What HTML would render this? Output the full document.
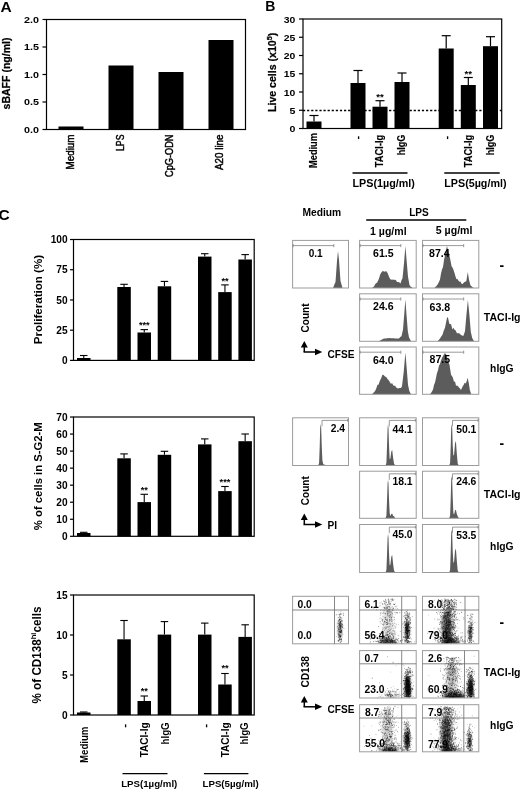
<!DOCTYPE html>
<html lang="en">
<head>
<meta charset="utf-8">
<title>Figure</title>
<style>
html,body{margin:0;padding:0;background:#fff;}
body{width:520px;height:791px;overflow:hidden;}
svg{display:block;}
svg text{font-family:"Liberation Sans", Arial, sans-serif;fill:#000;}
</style>
</head>
<body>
<svg width="520" height="791" viewBox="0 0 520 791">
<rect x="0" y="0" width="520" height="791" fill="#fff"/>
<g id="panelA">
<text font-size="15.5" font-weight="bold" transform="translate(0.4 11.5)">A</text>
<rect x="46.5" y="19.5" width="199.0" height="110.0" fill="none" stroke="#000" stroke-width="1.2"/>
<line x1="42.5" y1="129.5" x2="46.5" y2="129.5" stroke="#000" stroke-width="1.2"/>
<text font-size="9" text-anchor="end" font-weight="bold" transform="translate(38.9 132.6) scale(1.1989 1)">0.0</text>
<line x1="42.5" y1="102.0" x2="46.5" y2="102.0" stroke="#000" stroke-width="1.2"/>
<text font-size="9" text-anchor="end" font-weight="bold" transform="translate(38.9 105.1) scale(1.1989 1)">0.5</text>
<line x1="42.5" y1="74.5" x2="46.5" y2="74.5" stroke="#000" stroke-width="1.2"/>
<text font-size="9" text-anchor="end" font-weight="bold" transform="translate(38.9 77.6) scale(1.1989 1)">1.0</text>
<line x1="42.5" y1="47.0" x2="46.5" y2="47.0" stroke="#000" stroke-width="1.2"/>
<text font-size="9" text-anchor="end" font-weight="bold" transform="translate(38.9 50.1) scale(1.1989 1)">1.5</text>
<line x1="42.5" y1="19.5" x2="46.5" y2="19.5" stroke="#000" stroke-width="1.2"/>
<text font-size="9" text-anchor="end" font-weight="bold" transform="translate(38.9 22.6) scale(1.1989 1)">2.0</text>
<text font-size="10.5" text-anchor="middle" font-weight="bold" transform="translate(9.7 73.5) rotate(-90) scale(1.0036 1)" stroke="#000" stroke-width="0.25">sBAFF (ng/ml)</text>
<rect x="58.5" y="126.5" width="25" height="3.0" fill="#000"/>
<rect x="108.5" y="65.5" width="25" height="64.0" fill="#000"/>
<rect x="158.5" y="72" width="25" height="57.5" fill="#000"/>
<rect x="208.5" y="40" width="25" height="89.5" fill="#000"/>
<text font-size="10" text-anchor="end" transform="translate(74.3 134.5) rotate(-90) scale(0.9840 1)" stroke="#000" stroke-width="0.45">Medium</text>
<text font-size="10" text-anchor="end" transform="translate(123.8 134.5) rotate(-90) scale(0.8729 1)" stroke="#000" stroke-width="0.45">LPS</text>
<text font-size="10" text-anchor="end" transform="translate(173.3 134.5) rotate(-90) scale(0.9216 1)" stroke="#000" stroke-width="0.45">CpG-ODN</text>
<text font-size="10" text-anchor="end" transform="translate(223.3 134.5) rotate(-90) scale(0.9823 1)" stroke="#000" stroke-width="0.45">A20 line</text>
</g>
<g id="panelB">
<text font-size="14" font-weight="bold" transform="translate(265.2 10.8)">B</text>
<rect x="303" y="19" width="198.7" height="109.5" fill="none" stroke="#000" stroke-width="1.2"/>
<line x1="299" y1="128.5" x2="303" y2="128.5" stroke="#000" stroke-width="1.2"/>
<text font-size="9" text-anchor="end" font-weight="bold" transform="translate(295.3 132.0) scale(1.1787 1)">0</text>
<line x1="299" y1="110.25" x2="303" y2="110.25" stroke="#000" stroke-width="1.2"/>
<text font-size="9" text-anchor="end" font-weight="bold" transform="translate(295.3 113.75) scale(1.1787 1)">5</text>
<line x1="299" y1="92.0" x2="303" y2="92.0" stroke="#000" stroke-width="1.2"/>
<text font-size="9" text-anchor="end" font-weight="bold" transform="translate(295.3 95.5) scale(1.1587 1)">10</text>
<line x1="299" y1="73.75" x2="303" y2="73.75" stroke="#000" stroke-width="1.2"/>
<text font-size="9" text-anchor="end" font-weight="bold" transform="translate(295.3 77.25) scale(1.1587 1)">15</text>
<line x1="299" y1="55.5" x2="303" y2="55.5" stroke="#000" stroke-width="1.2"/>
<text font-size="9" text-anchor="end" font-weight="bold" transform="translate(295.3 59.0) scale(1.1587 1)">20</text>
<line x1="299" y1="37.25" x2="303" y2="37.25" stroke="#000" stroke-width="1.2"/>
<text font-size="9" text-anchor="end" font-weight="bold" transform="translate(295.3 40.75) scale(1.1587 1)">25</text>
<line x1="299" y1="19.0" x2="303" y2="19.0" stroke="#000" stroke-width="1.2"/>
<text font-size="9" text-anchor="end" font-weight="bold" transform="translate(295.3 22.5) scale(1.1587 1)">30</text>
<text font-size="11" font-weight="bold" stroke="#000" stroke-width="0.25" transform="translate(276.4 112) rotate(-90) scale(0.9631 1)">Live cells (x10<tspan font-size="7.5" dy="-4.4">5</tspan><tspan dy="4.4">)</tspan></text>
<line x1="303" y1="110.5" x2="501.7" y2="110.5" stroke="#000" stroke-width="1.3" stroke-dasharray="2.2 1.9"/>
<rect x="306.5" y="121.5" width="15" height="7.0" fill="#000"/>
<line x1="314.0" y1="121.5" x2="314.0" y2="115.5" stroke="#000" stroke-width="1.2"/>
<line x1="309.5" y1="115.5" x2="318.5" y2="115.5" stroke="#000" stroke-width="1.2"/>
<rect x="350.5" y="83" width="15" height="45.5" fill="#000"/>
<line x1="358.0" y1="83" x2="358.0" y2="70.5" stroke="#000" stroke-width="1.2"/>
<line x1="353.5" y1="70.5" x2="362.5" y2="70.5" stroke="#000" stroke-width="1.2"/>
<rect x="372.5" y="106.7" width="15" height="21.8" fill="#000"/>
<line x1="380.0" y1="106.7" x2="380.0" y2="100.7" stroke="#000" stroke-width="1.2"/>
<line x1="375.5" y1="100.7" x2="384.5" y2="100.7" stroke="#000" stroke-width="1.2"/>
<rect x="394.5" y="82" width="15" height="46.5" fill="#000"/>
<line x1="402.0" y1="82" x2="402.0" y2="73" stroke="#000" stroke-width="1.2"/>
<line x1="397.5" y1="73" x2="406.5" y2="73" stroke="#000" stroke-width="1.2"/>
<rect x="438.7" y="48.5" width="15" height="80.0" fill="#000"/>
<line x1="446.2" y1="48.5" x2="446.2" y2="35.7" stroke="#000" stroke-width="1.2"/>
<line x1="441.7" y1="35.7" x2="450.7" y2="35.7" stroke="#000" stroke-width="1.2"/>
<rect x="460.8" y="85" width="15" height="43.5" fill="#000"/>
<line x1="468.3" y1="85" x2="468.3" y2="77.5" stroke="#000" stroke-width="1.2"/>
<line x1="463.8" y1="77.5" x2="472.8" y2="77.5" stroke="#000" stroke-width="1.2"/>
<rect x="483" y="46.2" width="15" height="82.3" fill="#000"/>
<line x1="490.5" y1="46.2" x2="490.5" y2="36.7" stroke="#000" stroke-width="1.2"/>
<line x1="486.0" y1="36.7" x2="495.0" y2="36.7" stroke="#000" stroke-width="1.2"/>
<text font-size="9" text-anchor="middle" font-weight="bold" transform="translate(380 99.5) scale(1.0707 1)">**</text>
<text font-size="9" text-anchor="middle" font-weight="bold" transform="translate(468.3 76.5) scale(1.0707 1)">**</text>
<text font-size="10" text-anchor="end" font-weight="bold" transform="translate(316.8 133) rotate(-90) scale(0.9264 1)" stroke="#000" stroke-width="0.15">Medium</text>
<text font-size="10" text-anchor="end" font-weight="bold" transform="translate(383 134.7) rotate(-90) scale(0.9338 1)" stroke="#000" stroke-width="0.15">TACI-Ig</text>
<text font-size="10" text-anchor="end" font-weight="bold" transform="translate(404.5 134.7) rotate(-90) scale(0.9002 1)" stroke="#000" stroke-width="0.15">hIgG</text>
<text font-size="10" text-anchor="end" font-weight="bold" transform="translate(472 134.7) rotate(-90) scale(0.9338 1)" stroke="#000" stroke-width="0.15">TACI-Ig</text>
<text font-size="10" text-anchor="end" font-weight="bold" transform="translate(493.5 134.7) rotate(-90) scale(0.9002 1)" stroke="#000" stroke-width="0.15">hIgG</text>
<text font-size="11" text-anchor="end" font-weight="bold" transform="translate(361.3 135.9) rotate(-90)">-</text>
<text font-size="11" text-anchor="end" font-weight="bold" transform="translate(449.5 135.9) rotate(-90)">-</text>
<line x1="352.5" y1="173" x2="407.5" y2="173" stroke="#000" stroke-width="1.3"/>
<line x1="444.3" y1="173" x2="499.7" y2="173" stroke="#000" stroke-width="1.3"/>
<text font-size="10" font-weight="bold" transform="translate(352.5 187) scale(1.0778 1)">LPS(1µg/ml)</text>
<text font-size="10" font-weight="bold" transform="translate(444.3 187) scale(1.0743 1)">LPS(5µg/ml)</text>
</g>
<g id="panelC">
<text font-size="15.5" font-weight="bold" transform="translate(-1.6 219.6)">C</text>
<rect x="73.5" y="239.5" width="180.7" height="120.89999999999998" fill="none" stroke="#000" stroke-width="1.2"/>
<line x1="70" y1="360.4" x2="73.5" y2="360.4" stroke="#000" stroke-width="1.2"/>
<text font-size="10" text-anchor="end" font-weight="bold" transform="translate(67.6 364.0) scale(1.0159 1)">0</text>
<line x1="70" y1="330.17999999999995" x2="73.5" y2="330.17999999999995" stroke="#000" stroke-width="1.2"/>
<text font-size="10" text-anchor="end" font-weight="bold" transform="translate(67.6 333.78) scale(1.0159 1)">25</text>
<line x1="70" y1="299.96" x2="73.5" y2="299.96" stroke="#000" stroke-width="1.2"/>
<text font-size="10" text-anchor="end" font-weight="bold" transform="translate(67.6 303.56) scale(1.0159 1)">50</text>
<line x1="70" y1="269.74" x2="73.5" y2="269.74" stroke="#000" stroke-width="1.2"/>
<text font-size="10" text-anchor="end" font-weight="bold" transform="translate(67.6 273.34000000000003) scale(1.0159 1)">75</text>
<line x1="70" y1="239.51999999999998" x2="73.5" y2="239.51999999999998" stroke="#000" stroke-width="1.2"/>
<text font-size="10" text-anchor="end" font-weight="bold" transform="translate(67.6 243.11999999999998) scale(1.0159 1)">100</text>
<text font-size="11.8" text-anchor="middle" font-weight="bold" transform="translate(42.0 299.6) rotate(-90) scale(0.9821 1)">Proliferation (%)</text>
<rect x="77" y="358" width="13.5" height="2.4" fill="#000"/>
<line x1="83.75" y1="358" x2="83.75" y2="355.5" stroke="#000" stroke-width="1.1"/>
<line x1="80.0" y1="355.5" x2="87.5" y2="355.5" stroke="#000" stroke-width="1.1"/>
<rect x="117.3" y="287" width="13.5" height="73.4" fill="#000"/>
<line x1="124.05" y1="287" x2="124.05" y2="284.3" stroke="#000" stroke-width="1.1"/>
<line x1="120.3" y1="284.3" x2="127.8" y2="284.3" stroke="#000" stroke-width="1.1"/>
<rect x="137.5" y="332.5" width="13.5" height="27.9" fill="#000"/>
<line x1="144.25" y1="332.5" x2="144.25" y2="329.6" stroke="#000" stroke-width="1.1"/>
<line x1="140.5" y1="329.6" x2="148.0" y2="329.6" stroke="#000" stroke-width="1.1"/>
<rect x="157.7" y="286.3" width="13.5" height="74.1" fill="#000"/>
<line x1="164.45" y1="286.3" x2="164.45" y2="281.4" stroke="#000" stroke-width="1.1"/>
<line x1="160.7" y1="281.4" x2="168.2" y2="281.4" stroke="#000" stroke-width="1.1"/>
<rect x="198" y="256.6" width="13.5" height="103.8" fill="#000"/>
<line x1="204.75" y1="256.6" x2="204.75" y2="253.7" stroke="#000" stroke-width="1.1"/>
<line x1="201.0" y1="253.7" x2="208.5" y2="253.7" stroke="#000" stroke-width="1.1"/>
<rect x="218.2" y="292.1" width="13.5" height="68.3" fill="#000"/>
<line x1="224.95" y1="292.1" x2="224.95" y2="284.9" stroke="#000" stroke-width="1.1"/>
<line x1="221.2" y1="284.9" x2="228.7" y2="284.9" stroke="#000" stroke-width="1.1"/>
<rect x="238.4" y="259.5" width="13.5" height="100.9" fill="#000"/>
<line x1="245.15" y1="259.5" x2="245.15" y2="254.6" stroke="#000" stroke-width="1.1"/>
<line x1="241.4" y1="254.6" x2="248.9" y2="254.6" stroke="#000" stroke-width="1.1"/>
<text font-size="9" text-anchor="middle" font-weight="bold" transform="translate(144.3 328) scale(1.0279 1)">***</text>
<text font-size="9" text-anchor="middle" font-weight="bold" transform="translate(225 283.5) scale(1.0279 1)">**</text>
<rect x="73.5" y="417" width="180.7" height="119.29999999999995" fill="none" stroke="#000" stroke-width="1.2"/>
<line x1="70" y1="536.3" x2="73.5" y2="536.3" stroke="#000" stroke-width="1.2"/>
<text font-size="10" text-anchor="end" font-weight="bold" transform="translate(67.6 539.9) scale(1.0159 1)">0</text>
<line x1="70" y1="519.26" x2="73.5" y2="519.26" stroke="#000" stroke-width="1.2"/>
<text font-size="10" text-anchor="end" font-weight="bold" transform="translate(67.6 522.86) scale(1.0159 1)">10</text>
<line x1="70" y1="502.21999999999997" x2="73.5" y2="502.21999999999997" stroke="#000" stroke-width="1.2"/>
<text font-size="10" text-anchor="end" font-weight="bold" transform="translate(67.6 505.82) scale(1.0159 1)">20</text>
<line x1="70" y1="485.17999999999995" x2="73.5" y2="485.17999999999995" stroke="#000" stroke-width="1.2"/>
<text font-size="10" text-anchor="end" font-weight="bold" transform="translate(67.6 488.78) scale(1.0159 1)">30</text>
<line x1="70" y1="468.14" x2="73.5" y2="468.14" stroke="#000" stroke-width="1.2"/>
<text font-size="10" text-anchor="end" font-weight="bold" transform="translate(67.6 471.74) scale(1.0159 1)">40</text>
<line x1="70" y1="451.09999999999997" x2="73.5" y2="451.09999999999997" stroke="#000" stroke-width="1.2"/>
<text font-size="10" text-anchor="end" font-weight="bold" transform="translate(67.6 454.7) scale(1.0159 1)">50</text>
<line x1="70" y1="434.05999999999995" x2="73.5" y2="434.05999999999995" stroke="#000" stroke-width="1.2"/>
<text font-size="10" text-anchor="end" font-weight="bold" transform="translate(67.6 437.65999999999997) scale(1.0159 1)">60</text>
<line x1="70" y1="417.02" x2="73.5" y2="417.02" stroke="#000" stroke-width="1.2"/>
<text font-size="10" text-anchor="end" font-weight="bold" transform="translate(67.6 420.62) scale(1.0159 1)">70</text>
<text font-size="11.8" text-anchor="middle" font-weight="bold" transform="translate(42.0 476.2) rotate(-90) scale(0.9577 1)">% of cells in S-G2-M</text>
<rect x="77" y="533" width="13.5" height="3.3" fill="#000"/>
<line x1="83.75" y1="533" x2="83.75" y2="532.3" stroke="#000" stroke-width="1.1"/>
<line x1="80.0" y1="532.3" x2="87.5" y2="532.3" stroke="#000" stroke-width="1.1"/>
<rect x="117.3" y="458.3" width="13.5" height="78.0" fill="#000"/>
<line x1="124.05" y1="458.3" x2="124.05" y2="453.9" stroke="#000" stroke-width="1.1"/>
<line x1="120.3" y1="453.9" x2="127.8" y2="453.9" stroke="#000" stroke-width="1.1"/>
<rect x="137.5" y="502.1" width="13.5" height="34.2" fill="#000"/>
<line x1="144.25" y1="502.1" x2="144.25" y2="494.3" stroke="#000" stroke-width="1.1"/>
<line x1="140.5" y1="494.3" x2="148.0" y2="494.3" stroke="#000" stroke-width="1.1"/>
<rect x="157.7" y="454.8" width="13.5" height="81.5" fill="#000"/>
<line x1="164.45" y1="454.8" x2="164.45" y2="451.3" stroke="#000" stroke-width="1.1"/>
<line x1="160.7" y1="451.3" x2="168.2" y2="451.3" stroke="#000" stroke-width="1.1"/>
<rect x="198" y="444.4" width="13.5" height="91.9" fill="#000"/>
<line x1="204.75" y1="444.4" x2="204.75" y2="438.9" stroke="#000" stroke-width="1.1"/>
<line x1="201.0" y1="438.9" x2="208.5" y2="438.9" stroke="#000" stroke-width="1.1"/>
<rect x="218.2" y="491.1" width="13.5" height="45.2" fill="#000"/>
<line x1="224.95" y1="491.1" x2="224.95" y2="486.5" stroke="#000" stroke-width="1.1"/>
<line x1="221.2" y1="486.5" x2="228.7" y2="486.5" stroke="#000" stroke-width="1.1"/>
<rect x="238.4" y="441.2" width="13.5" height="95.1" fill="#000"/>
<line x1="245.15" y1="441.2" x2="245.15" y2="434" stroke="#000" stroke-width="1.1"/>
<line x1="241.4" y1="434" x2="248.9" y2="434" stroke="#000" stroke-width="1.1"/>
<text font-size="9" text-anchor="middle" font-weight="bold" transform="translate(144.3 493) scale(1.0279 1)">**</text>
<text font-size="9" text-anchor="middle" font-weight="bold" transform="translate(225 485) scale(1.0279 1)">***</text>
<text font-size="12" font-weight="bold" transform="translate(41.4 703.5) rotate(-90) scale(0.9745 1)">% of CD138<tspan font-size="7.8" dy="-5.6">hi</tspan><tspan dy="5.6">cells</tspan></text>
<rect x="73.5" y="595" width="180.7" height="120" fill="none" stroke="#000" stroke-width="1.2"/>
<line x1="70" y1="715" x2="73.5" y2="715" stroke="#000" stroke-width="1.2"/>
<text font-size="10" text-anchor="end" font-weight="bold" transform="translate(67.6 718.6) scale(1.0159 1)">0</text>
<line x1="70" y1="675" x2="73.5" y2="675" stroke="#000" stroke-width="1.2"/>
<text font-size="10" text-anchor="end" font-weight="bold" transform="translate(67.6 678.6) scale(1.0159 1)">5</text>
<line x1="70" y1="635" x2="73.5" y2="635" stroke="#000" stroke-width="1.2"/>
<text font-size="10" text-anchor="end" font-weight="bold" transform="translate(67.6 638.6) scale(1.0159 1)">10</text>
<line x1="70" y1="595" x2="73.5" y2="595" stroke="#000" stroke-width="1.2"/>
<text font-size="10" text-anchor="end" font-weight="bold" transform="translate(67.6 598.6) scale(1.0159 1)">15</text>
<rect x="77" y="712.5" width="13.5" height="2.5" fill="#000"/>
<line x1="83.75" y1="712.5" x2="83.75" y2="712" stroke="#000" stroke-width="1.1"/>
<line x1="80.0" y1="712" x2="87.5" y2="712" stroke="#000" stroke-width="1.1"/>
<rect x="117.3" y="639.3" width="13.5" height="75.7" fill="#000"/>
<line x1="124.05" y1="639.3" x2="124.05" y2="620.5" stroke="#000" stroke-width="1.1"/>
<line x1="120.3" y1="620.5" x2="127.8" y2="620.5" stroke="#000" stroke-width="1.1"/>
<rect x="137.5" y="701" width="13.5" height="14" fill="#000"/>
<line x1="144.25" y1="701" x2="144.25" y2="696" stroke="#000" stroke-width="1.1"/>
<line x1="140.5" y1="696" x2="148.0" y2="696" stroke="#000" stroke-width="1.1"/>
<rect x="157.7" y="634.6" width="13.5" height="80.4" fill="#000"/>
<line x1="164.45" y1="634.6" x2="164.45" y2="621.6" stroke="#000" stroke-width="1.1"/>
<line x1="160.7" y1="621.6" x2="168.2" y2="621.6" stroke="#000" stroke-width="1.1"/>
<rect x="198" y="634.6" width="13.5" height="80.4" fill="#000"/>
<line x1="204.75" y1="634.6" x2="204.75" y2="623.1" stroke="#000" stroke-width="1.1"/>
<line x1="201.0" y1="623.1" x2="208.5" y2="623.1" stroke="#000" stroke-width="1.1"/>
<rect x="218.2" y="684.5" width="13.5" height="30.5" fill="#000"/>
<line x1="224.95" y1="684.5" x2="224.95" y2="673.5" stroke="#000" stroke-width="1.1"/>
<line x1="221.2" y1="673.5" x2="228.7" y2="673.5" stroke="#000" stroke-width="1.1"/>
<rect x="238.4" y="636.9" width="13.5" height="78.1" fill="#000"/>
<line x1="245.15" y1="636.9" x2="245.15" y2="624.8" stroke="#000" stroke-width="1.1"/>
<line x1="241.4" y1="624.8" x2="248.9" y2="624.8" stroke="#000" stroke-width="1.1"/>
<text font-size="9" text-anchor="middle" font-weight="bold" transform="translate(144.3 693.5) scale(1.0279 1)">**</text>
<text font-size="9" text-anchor="middle" font-weight="bold" transform="translate(225 671) scale(1.0279 1)">**</text>
<text font-size="10.8" text-anchor="end" font-weight="bold" transform="translate(87.6 726.6) rotate(-90) scale(0.8897 1)">Medium</text>
<text font-size="10.8" text-anchor="end" font-weight="bold" transform="translate(148.3 722.4) rotate(-90) scale(0.9311 1)">TACI-Ig</text>
<text font-size="10.8" text-anchor="end" font-weight="bold" transform="translate(168.5 722.4) rotate(-90) scale(0.8945 1)">hIgG</text>
<text font-size="10.8" text-anchor="end" font-weight="bold" transform="translate(229 722.4) rotate(-90) scale(0.9311 1)">TACI-Ig</text>
<text font-size="10.8" text-anchor="end" font-weight="bold" transform="translate(248.4 722.4) rotate(-90) scale(0.8945 1)">hIgG</text>
<text font-size="11.5" text-anchor="end" font-weight="bold" transform="translate(128.3 723.9) rotate(-90)">-</text>
<text font-size="11.5" text-anchor="end" font-weight="bold" transform="translate(208.8 723.9) rotate(-90)">-</text>
<line x1="122.5" y1="773.7" x2="167.5" y2="773.7" stroke="#000" stroke-width="1.2"/>
<line x1="203.9" y1="773.7" x2="248.4" y2="773.7" stroke="#000" stroke-width="1.2"/>
<text font-size="9.9" font-weight="bold" transform="translate(121.2 787.3) scale(0.9789 1)">LPS(1µg/ml)</text>
<text font-size="9.9" font-weight="bold" transform="translate(202.5 787.3) scale(0.9807 1)">LPS(5µg/ml)</text>
</g>
<g id="flow">
<text font-size="10.2" font-weight="bold" transform="translate(302.5 215.7) scale(1.0069 1)">Medium</text>
<text font-size="10.2" font-weight="bold" transform="translate(409.2 215.7) scale(0.9880 1)">LPS</text>
<line x1="366.2" y1="220" x2="466.3" y2="220" stroke="#000" stroke-width="1.3"/>
<text font-size="10.2" font-weight="bold" transform="translate(370 235) scale(1.0353 1)">1 µg/ml</text>
<text font-size="10.2" font-weight="bold" transform="translate(435.7 234) scale(1.0410 1)">5 µg/ml</text>
<polygon points="333.0,288.0 334.2,284.9 335.5,282.1 337.0,261.1 338.0,251.1 339.0,260.0 340.5,281.0 341.5,284.5 342.5,288" fill="#5c5c5c"/>
<rect x="292.6" y="240.4" width="55.9" height="47.6" fill="none" stroke="#9c9c9c" stroke-width="1"/>
<line x1="293.1" y1="245.6" x2="333.8" y2="245.6" stroke="#808080" stroke-width="0.8"/>
<line x1="293.1" y1="244.0" x2="293.1" y2="247.2" stroke="#808080" stroke-width="0.8"/>
<line x1="333.8" y1="244.0" x2="333.8" y2="247.2" stroke="#808080" stroke-width="0.8"/>
<text font-size="10.4" font-weight="bold" transform="translate(308.7 257.2) scale(0.9683 1)">0.1</text>
<polygon points="372.0,288.0 373.0,287.2 374.0,286.4 375.0,284.5 376.0,283.3 377.0,282.8 378.0,280.8 379.0,278.5 380.2,274.4 381.5,272.3 383.0,270.8 384.0,271.8 385.0,271.4 386.5,271.3 387.8,273.4 389.0,276.7 390.0,278.8 391.0,279.8 392.0,279.6 393.0,279.8 394.0,279.8 395.0,279.7 396.0,280.3 397.0,281.9 398.0,282.1 399.2,282.2 400.5,283.4 401.5,280.3 402.5,278.2 404.0,263.2 405.4,246.0 406.7,261.4 408.0,276.8 409.5,285.0 410.5,286.4 411.5,287.1 412.5,288" fill="#5c5c5c"/>
<rect x="359.6" y="240.4" width="56.6" height="47.6" fill="none" stroke="#9c9c9c" stroke-width="1"/>
<line x1="360.1" y1="245.6" x2="400.8" y2="245.6" stroke="#808080" stroke-width="0.8"/>
<line x1="360.1" y1="244.0" x2="360.1" y2="247.2" stroke="#808080" stroke-width="0.8"/>
<line x1="400.8" y1="244.0" x2="400.8" y2="247.2" stroke="#808080" stroke-width="0.8"/>
<text font-size="10.4" font-weight="bold" transform="translate(373 257.2) scale(1.0177 1)">61.5</text>
<polygon points="434.3,288.0 435.4,286.9 436.4,286.0 437.5,284.8 438.8,282.2 440.0,279.4 441.0,273.6 442.0,269.4 443.0,267.1 444.0,260.2 445.6,252.1 447.0,246.1 448.4,251.9 450.0,258.1 451.5,265.9 453.0,268.4 454.5,272.9 455.5,276.4 456.5,279.2 457.5,279.1 458.5,280.8 459.5,281.7 460.5,281.5 461.5,283.7 462.5,284.1 463.5,283.1 464.5,282.1 466.3,281.2 467.8,272.1 469.0,279.7 470.5,285.5 471.6,286.2 472.6,287.2 473.7,288" fill="#5c5c5c"/>
<rect x="422.5" y="240.4" width="56.3" height="47.6" fill="none" stroke="#9c9c9c" stroke-width="1"/>
<line x1="423.0" y1="245.6" x2="463.7" y2="245.6" stroke="#808080" stroke-width="0.8"/>
<line x1="423.0" y1="244.0" x2="423.0" y2="247.2" stroke="#808080" stroke-width="0.8"/>
<line x1="463.7" y1="244.0" x2="463.7" y2="247.2" stroke="#808080" stroke-width="0.8"/>
<text font-size="10.4" font-weight="bold" transform="translate(429 257.2) scale(1.0177 1)">87.4</text>
<polygon points="378.5,341.3 379.8,340.7 381.0,340.0 382.0,339.6 383.0,339.1 384.0,338.6 385.2,338.4 386.3,338.4 387.5,338.1 388.7,338.2 389.8,338.1 391.0,338.3 392.0,338.3 393.0,338.3 394.0,338.3 395.0,338.4 396.0,338.6 397.0,338.5 398.0,338.5 399.0,338.4 400.2,337.1 401.5,336.2 403.0,329.4 404.3,313.5 405.4,299.2 406.5,314.7 407.8,330.9 409.0,337.4 410.0,339.3 411,341.3" fill="#5c5c5c"/>
<rect x="359.6" y="293.8" width="56.6" height="47.5" fill="none" stroke="#9c9c9c" stroke-width="1"/>
<line x1="360.1" y1="299.0" x2="400.8" y2="299.0" stroke="#808080" stroke-width="0.8"/>
<line x1="360.1" y1="297.4" x2="360.1" y2="300.6" stroke="#808080" stroke-width="0.8"/>
<line x1="400.8" y1="297.4" x2="400.8" y2="300.6" stroke="#808080" stroke-width="0.8"/>
<text font-size="10.4" font-weight="bold" transform="translate(373 310.2) scale(1.0177 1)">24.6</text>
<polygon points="437.5,341.3 438.8,339.9 440.0,338.6 441.2,336.4 442.5,334.7 443.8,330.6 445.0,327.7 446.8,318.8 447.8,316.7 449.3,323.7 451.0,324.3 452.5,329.6 453.5,327.8 454.5,329.7 455.5,330.2 456.5,332.4 457.8,333.5 459.0,332.9 460.2,334.3 461.5,335.3 463.3,335.9 465.0,331.2 466.3,316.2 467.9,300.0 469.4,315.1 470.8,331.7 472.2,337.9 474,341.3" fill="#5c5c5c"/>
<rect x="422.5" y="293.8" width="56.3" height="47.5" fill="none" stroke="#9c9c9c" stroke-width="1"/>
<line x1="423.0" y1="299.0" x2="463.7" y2="299.0" stroke="#808080" stroke-width="0.8"/>
<line x1="423.0" y1="297.4" x2="423.0" y2="300.6" stroke="#808080" stroke-width="0.8"/>
<line x1="463.7" y1="297.4" x2="463.7" y2="300.6" stroke="#808080" stroke-width="0.8"/>
<text font-size="10.4" font-weight="bold" transform="translate(429.5 310.6) scale(1.0177 1)">63.8</text>
<polygon points="372.0,394.3 373.2,393.1 374.3,392.0 375.5,390.3 376.5,387.7 377.5,384.7 378.5,384.8 379.9,380.7 381.3,378.1 382.3,375.1 383.3,374.7 385.0,376.6 386.5,377.3 387.5,379.0 388.5,380.0 389.8,381.9 391.0,383.9 392.0,383.0 393.0,384.8 394.0,386.3 395.0,385.2 396.0,387.6 397.0,387.8 398.0,388.7 399.0,387.9 400.0,387.9 401.0,387.9 402.0,386.3 403.7,372.1 405.4,352.5 406.7,368.3 408.0,384.7 409.3,391.0 411,394.3" fill="#5c5c5c"/>
<rect x="359.6" y="347" width="56.6" height="47.3" fill="none" stroke="#9c9c9c" stroke-width="1"/>
<line x1="360.1" y1="352.2" x2="400.8" y2="352.2" stroke="#808080" stroke-width="0.8"/>
<line x1="360.1" y1="350.59999999999997" x2="360.1" y2="353.8" stroke="#808080" stroke-width="0.8"/>
<line x1="400.8" y1="350.59999999999997" x2="400.8" y2="353.8" stroke="#808080" stroke-width="0.8"/>
<text font-size="10.4" font-weight="bold" transform="translate(373 363.8) scale(1.0177 1)">64.0</text>
<polygon points="430.0,394.3 431.0,393.0 432.0,391.5 433.0,389.4 434.0,384.9 435.0,382.4 436.0,377.9 437.0,372.9 438.0,370.3 439.0,365.8 440.0,364.1 441.0,360.4 442.0,358.0 443.6,355.1 445.0,353.0 446.5,355.1 448.0,361.4 449.5,364.7 451.0,374.7 452.0,376.0 453.0,378.0 454.0,382.1 455.0,381.3 456.0,385.7 457.0,385.6 458.0,386.3 459.0,387.4 460.0,388.4 461.0,389.9 462.6,386.4 463.6,385.1 464.6,382.7 465.6,383.4 466.6,381.6 467.6,377.7 468.8,382.9 469.8,389.8 471.2,394.3" fill="#5c5c5c"/>
<rect x="422.5" y="347" width="56.3" height="47.3" fill="none" stroke="#9c9c9c" stroke-width="1"/>
<line x1="423.0" y1="352.2" x2="463.7" y2="352.2" stroke="#808080" stroke-width="0.8"/>
<line x1="423.0" y1="350.59999999999997" x2="423.0" y2="353.8" stroke="#808080" stroke-width="0.8"/>
<line x1="463.7" y1="350.59999999999997" x2="463.7" y2="353.8" stroke="#808080" stroke-width="0.8"/>
<text font-size="10.4" font-weight="bold" transform="translate(429.5 362.6) scale(1.0177 1)">87.5</text>
<text font-size="15" font-weight="bold" transform="translate(499.5 270) scale(0.9208 1)">-</text>
<text font-size="10.2" font-weight="bold" transform="translate(483.8 320.6) scale(1.0366 1)">TACI-Ig</text>
<text font-size="10.2" font-weight="bold" transform="translate(490.1 372) scale(1.0117 1)">hIgG</text>
<text font-size="10.8" text-anchor="middle" font-weight="bold" transform="translate(308.9 318) rotate(-90) scale(0.9298 1)">Count</text>
<polygon points="304.3,340.9 300.8,347.4 307.8,347.4" fill="#000"/>
<line x1="304.3" y1="346.2" x2="304.3" y2="352" stroke="#000" stroke-width="1.5"/>
<line x1="303.55" y1="352" x2="316" y2="352" stroke="#000" stroke-width="1.5"/>
<polygon points="322.3,352 315,348.7 315,355.3" fill="#000"/>
<text font-size="10.2" font-weight="bold" transform="translate(327.5 357.5) scale(0.9925 1)">CFSE</text>
<polygon points="318.2,465.5 319.1,463.0 319.7,446.8 320.2,428.1 320.7,424.0 321.2,428.1 321.7,444.8 322.4,460.5 323.3,464.3 325.7,464.9 326.7,465.5" fill="#5c5c5c"/>
<rect x="292.6" y="417.8" width="55.9" height="47.7" fill="none" stroke="#9c9c9c" stroke-width="1"/>
<line x1="322" y1="420.40000000000003" x2="348.0" y2="420.40000000000003" stroke="#808080" stroke-width="0.8"/>
<line x1="322" y1="420.40000000000003" x2="322" y2="426.40000000000003" stroke="#808080" stroke-width="0.8"/>
<line x1="347.7" y1="419.1" x2="347.7" y2="421.70000000000005" stroke="#808080" stroke-width="0.8"/>
<text font-size="10.4" font-weight="bold" transform="translate(330.7 432.3) scale(0.9891 1)">2.4</text>
<polygon points="385.5,465.5 386.4,463.0 387.0,446.9 387.6,428.3 388,424.2 388.5,428.3 389.0,444.9 389.7,459.3 390.4,458.5 391.3,451.6 392.2,450.0 393.1,457.8 394,463.5 395.2,465.5" fill="#5c5c5c"/>
<rect x="359.6" y="417.8" width="56.6" height="47.7" fill="none" stroke="#9c9c9c" stroke-width="1"/>
<line x1="389.3" y1="420.40000000000003" x2="415.7" y2="420.40000000000003" stroke="#808080" stroke-width="0.8"/>
<line x1="389.3" y1="420.40000000000003" x2="389.3" y2="426.40000000000003" stroke="#808080" stroke-width="0.8"/>
<line x1="415.4" y1="419.1" x2="415.4" y2="421.70000000000005" stroke="#808080" stroke-width="0.8"/>
<text font-size="10.4" font-weight="bold" transform="translate(392.4 432.6) scale(0.9979 1)">44.1</text>
<polygon points="449.2,465.5 450.1,463.0 450.7,446.9 451.2,428.3 451.7,424.2 452.2,428.3 452.7,444.9 453.4,455.7 454.1,454.5 455.0,443.4 455.9,441.0 456.8,453.2 457.7,463.5 458.9,465.5" fill="#5c5c5c"/>
<rect x="422.5" y="417.8" width="56.3" height="47.7" fill="none" stroke="#9c9c9c" stroke-width="1"/>
<line x1="452.5" y1="420.40000000000003" x2="478.3" y2="420.40000000000003" stroke="#808080" stroke-width="0.8"/>
<line x1="452.5" y1="420.40000000000003" x2="452.5" y2="426.40000000000003" stroke="#808080" stroke-width="0.8"/>
<line x1="478.0" y1="419.1" x2="478.0" y2="421.70000000000005" stroke="#808080" stroke-width="0.8"/>
<text font-size="10.4" font-weight="bold" transform="translate(456.2 432.6) scale(0.9979 1)">50.1</text>
<polygon points="385.5,518.3 386.4,515.8 387.0,501.0 387.6,483.6 388,479.8 388.5,483.6 389.0,499.0 389.7,513.3 390.4,516.1 391.3,514.0 392.2,513.5 393.1,515.9 394,516.3 395.2,518.3" fill="#5c5c5c"/>
<rect x="359.6" y="471.2" width="56.6" height="47.1" fill="none" stroke="#9c9c9c" stroke-width="1"/>
<line x1="389.3" y1="473.8" x2="415.7" y2="473.8" stroke="#808080" stroke-width="0.8"/>
<line x1="389.3" y1="473.8" x2="389.3" y2="479.8" stroke="#808080" stroke-width="0.8"/>
<line x1="415.4" y1="472.5" x2="415.4" y2="475.1" stroke="#808080" stroke-width="0.8"/>
<text font-size="10.4" font-weight="bold" transform="translate(392.4 485.2) scale(0.9979 1)">18.1</text>
<polygon points="449.2,518.3 450.1,515.8 450.7,499.3 451.2,480.2 451.7,476.0 452.2,480.2 452.7,497.1 453.4,513.3 454.1,514.5 455.0,510.6 455.9,509.8 456.8,514.0 457.7,516.3 458.9,518.3" fill="#5c5c5c"/>
<rect x="422.5" y="471.2" width="56.3" height="47.1" fill="none" stroke="#9c9c9c" stroke-width="1"/>
<line x1="452.5" y1="473.8" x2="478.3" y2="473.8" stroke="#808080" stroke-width="0.8"/>
<line x1="452.5" y1="473.8" x2="452.5" y2="479.8" stroke="#808080" stroke-width="0.8"/>
<line x1="478.0" y1="472.5" x2="478.0" y2="475.1" stroke="#808080" stroke-width="0.8"/>
<text font-size="10.4" font-weight="bold" transform="translate(456.2 485.2) scale(0.9979 1)">24.6</text>
<polygon points="385.5,572.5 386.4,570.0 387.0,555.1 387.6,537.7 388,533.8 388.5,537.7 389.0,553.1 389.7,565.5 390.4,564.6 391.3,556.8 392.2,555.0 393.1,563.8 394,570.5 395.2,572.5" fill="#5c5c5c"/>
<rect x="359.6" y="524.5" width="56.6" height="48.0" fill="none" stroke="#9c9c9c" stroke-width="1"/>
<line x1="389.3" y1="527.1" x2="415.7" y2="527.1" stroke="#808080" stroke-width="0.8"/>
<line x1="389.3" y1="527.1" x2="389.3" y2="533.1" stroke="#808080" stroke-width="0.8"/>
<line x1="415.4" y1="525.8000000000001" x2="415.4" y2="528.4" stroke="#808080" stroke-width="0.8"/>
<text font-size="10.4" font-weight="bold" transform="translate(392.4 538.2) scale(0.9979 1)">45.0</text>
<polygon points="449.2,572.5 450.1,570.0 450.7,553.1 451.2,533.8 451.7,529.5 452.2,533.8 452.7,551.0 453.4,562.9 454.1,561.7 455.0,550.9 455.9,548.5 456.8,560.5 457.7,570.5 458.9,572.5" fill="#5c5c5c"/>
<rect x="422.5" y="524.5" width="56.3" height="48.0" fill="none" stroke="#9c9c9c" stroke-width="1"/>
<line x1="452.5" y1="527.1" x2="478.3" y2="527.1" stroke="#808080" stroke-width="0.8"/>
<line x1="452.5" y1="527.1" x2="452.5" y2="533.1" stroke="#808080" stroke-width="0.8"/>
<line x1="478.0" y1="525.8000000000001" x2="478.0" y2="528.4" stroke="#808080" stroke-width="0.8"/>
<text font-size="10.4" font-weight="bold" transform="translate(456.2 538.8) scale(0.9979 1)">53.5</text>
<text font-size="15" font-weight="bold" transform="translate(499.5 447.5) scale(0.9208 1)">-</text>
<text font-size="10.2" font-weight="bold" transform="translate(483.8 497.5) scale(1.0366 1)">TACI-Ig</text>
<text font-size="10.2" font-weight="bold" transform="translate(490.1 549.5) scale(1.0117 1)">hIgG</text>
<text font-size="10.8" text-anchor="middle" font-weight="bold" transform="translate(308.9 490.7) rotate(-90) scale(0.9298 1)">Count</text>
<polygon points="304.3,513.4 300.8,519.9 307.8,519.9" fill="#000"/>
<line x1="304.3" y1="518.7" x2="304.3" y2="524.5" stroke="#000" stroke-width="1.5"/>
<line x1="303.55" y1="524.5" x2="316" y2="524.5" stroke="#000" stroke-width="1.5"/>
<polygon points="322.3,524.5 315,521.2 315,527.8" fill="#000"/>
<text font-size="10.2" font-weight="bold" transform="translate(327.5 528.8) scale(0.9961 1)">PI</text>
<defs><filter id="soft" x="-5%" y="-5%" width="110%" height="110%"><feGaussianBlur stdDeviation="0.3"/></filter><filter id="cloud" x="-50%" y="-50%" width="200%" height="200%"><feGaussianBlur stdDeviation="1.6"/></filter></defs>
<clipPath id="cp1"><rect x="292.6" y="596.3" width="55.9" height="47.5"/></clipPath>
<g clip-path="url(#cp1)"><g filter="url(#cloud)">
<ellipse cx="339.8" cy="629" rx="1.6" ry="11" fill="#000" fill-opacity="0.35"/>
</g></g>
<g filter="url(#soft)" stroke="#000" stroke-width="7.5" fill="none" transform="scale(0.1)">
<path d="M3409 6399h7M3394 6313h7M3406 6189h7M3408 6272h7M3379 6277h7M3408 6236h7M3398 6178h7M3380 6356h7M3429 6154h7M3399 6306h7M3406 6254h7M3412 6247h7M3381 6292h7M3392 6176h7M3381 6338h7M3401 6214h7M3415 6417h7M3384 6233h7M3413 6260h7M3381 6211h7M3396 6193h7M3429 6271h7M3387 6200h7M3387 6367h7M3399 6363h7M3403 6168h7M3413 6355h7M3421 6369h7M3393 6195h7M3413 6418h7M3395 6244h7M3379 6119h7M3357 6150h7M3386 6335h7M3399 6281h7M3416 6338h7M3399 6272h7M3394 6396h7M3377 6175h7M3398 6322h7M3404 6324h7M3396 6360h7M3403 6292h7M3407 6279h7M3395 6316h7M3403 6429h7M3383 6313h7M3390 6376h7M3395 6229h7M3381 6215h7M3399 6249h7M3381 6345h7M3394 6261h7M3394 6312h7M3396 6346h7M3399 6245h7M3418 6248h7M3403 6248h7M3404 6269h7M3418 6251h7M3405 6271h7M3400 6397h7M3416 6316h7M3390 6225h7M3394 6237h7M3380 6255h7M3393 6276h7M3388 6226h7M3363 6366h7M3381 6415h7M3379 6207h7" stroke-opacity="0.3"/>
<path d="M3403 6257h7M3405 6315h7M3413 6141h7M3418 6310h7M3401 6363h7M3373 6279h7M3410 6212h7M3420 6240h7M3382 6175h7M3407 6219h7M3414 6268h7M3399 6255h7M3398 6391h7M3400 6361h7M3405 6134h7M3386 6299h7M3411 6312h7M3402 6235h7M3391 6211h7M3402 6172h7M3385 6145h7M3420 6205h7M3393 6167h7M3400 6283h7M3404 6256h7M3402 6324h7M3371 6264h7M3418 6267h7M3414 6350h7M3406 6368h7M3394 6318h7M3394 6396h7M3396 6266h7M3393 6309h7M3404 6355h7M3390 6400h7M3385 6242h7M3403 6372h7M3404 6178h7M3390 6200h7M3422 6330h7M3395 6380h7M3405 6145h7M3397 6421h7M3403 6222h7M3408 6238h7M3426 6345h7M3415 6256h7M3376 6232h7M3376 6261h7M3436 6285h7M3393 6370h7M3387 6347h7M3396 6280h7M3393 6385h7M3411 6209h7M3415 6296h7M3405 6411h7M3406 6114h7M3400 6215h7M3414 6387h7M3407 6285h7M3381 6282h7M3401 6373h7M3421 6213h7M3405 6363h7M3392 6398h7M3393 6364h7M3381 6353h7M3407 6209h7M3402 6323h7M3404 6316h7M3387 6250h7M3392 6263h7M3403 6265h7M3377 6336h7M3378 6310h7M3405 6291h7M3396 6316h7M3427 6254h7M3397 6346h7M3394 6253h7M3391 6253h7M3409 6322h7M3396 6238h7M3400 6394h7M3400 6278h7M3388 6235h7M3413 6393h7M3392 6230h7M3400 6318h7M3382 6287h7M3414 6233h7M3383 6368h7M3399 6280h7M3394 6323h7M3400 6220h7M3393 6244h7M3414 6321h7M3405 6321h7M3387 6274h7M3423 6276h7M3385 6293h7M3389 6272h7M3410 6200h7M3406 6259h7M3407 6328h7M3379 6322h7M3384 6345h7M3406 6320h7M3411 6301h7M3406 6306h7M3386 6319h7M3372 6308h7M3395 6245h7" stroke-opacity="0.5"/>
<path d="M3381 6410h7M3412 6304h7M3398 6263h7M3422 6246h7M3396 6148h7M3399 6422h7M3388 6333h7M3400 6194h7M3433 6151h7M3429 6132h7M3385 6403h7M3410 6313h7M3381 6299h7M3405 6363h7M3412 6396h7M3365 6147h7M3396 6245h7M3408 6328h7M3393 6318h7M3414 6179h7M3395 6253h7M3403 6360h7M3407 6392h7M3377 6408h7M3394 6158h7M3393 6356h7M3398 6278h7M3412 6409h7M3391 6197h7M3385 6403h7M3377 6232h7M3404 6139h7M3393 6142h7M3385 6374h7M3412 6305h7M3397 6321h7M3395 6289h7M3389 6296h7M3406 6311h7M3413 6242h7M3396 6242h7M3398 6297h7M3389 6198h7M3399 6363h7M3393 6193h7M3417 6264h7M3399 6222h7M3394 6359h7M3399 6259h7M3389 6349h7M3404 6326h7M3422 6276h7M3403 6217h7M3404 6231h7M3386 6207h7M3401 6229h7M3409 6261h7M3395 6390h7M3399 6265h7M3404 6301h7M3405 6279h7" stroke-opacity="0.75"/>
</g>
<rect x="292.6" y="596.3" width="55.9" height="47.5" fill="none" stroke="#9c9c9c" stroke-width="1"/>
<line x1="292.6" y1="610" x2="348.5" y2="610" stroke="#686868" stroke-width="0.8"/>
<line x1="334.5" y1="596.3" x2="334.5" y2="643.8" stroke="#686868" stroke-width="0.8"/>
<text font-size="10.4" font-weight="bold" transform="translate(297.5 608) scale(0.9960 1)">0.0</text>
<text font-size="10.4" font-weight="bold" transform="translate(297.5 638.8) scale(0.9960 1)">0.0</text>
<clipPath id="cp2"><rect x="359.6" y="596.3" width="56.6" height="47.5"/></clipPath>
<g clip-path="url(#cp2)"><g filter="url(#cloud)">
<ellipse cx="388" cy="643" rx="9" ry="3.5" fill="#000" fill-opacity="0.55"/>
<ellipse cx="407" cy="630" rx="1.6" ry="8" fill="#000" fill-opacity="0.6"/>
<ellipse cx="388" cy="622" rx="5" ry="18" fill="#000" fill-opacity="0.12"/>
</g></g>
<g filter="url(#soft)" stroke="#000" stroke-width="7.5" fill="none" transform="scale(0.1)">
<path d="M3867 6200h7M3952 6142h7M3883 6401h7M3888 6110h7M3913 6198h7M3914 6195h7M3907 6281h7M3927 6303h7M3955 6284h7M3876 6242h7M3844 6108h7M3814 6096h7M3942 6258h7M3893 6234h7M3875 6138h7M3822 6383h7M3870 6242h7M3912 6012h7M3857 6373h7M3863 6275h7M3850 6196h7M3831 6226h7M3841 6135h7M3831 6371h7M3921 6267h7M3850 6340h7M3860 6422h7M3909 6321h7M3865 6200h7M3868 6122h7M3848 6169h7M3907 6159h7M3803 6177h7M3865 6112h7M3904 6331h7M3918 6161h7M3846 6221h7M3863 6008h7M3849 6284h7M3906 6297h7M3864 6302h7M3828 6392h7M3870 6170h7M3843 6103h7M3809 6333h7M3911 6395h7M3889 6094h7M3934 6368h7M3931 6380h7M3910 6012h7M3899 6149h7M3860 6170h7M3922 6066h7M3853 6187h7M3964 6128h7M3980 6244h7M3885 6065h7M3817 6358h7M3825 6101h7M3847 6129h7M3818 6069h7M3853 5994h7M3958 6329h7M3868 6224h7M3916 6158h7M3944 6270h7M3899 6157h7M3879 6116h7M3812 6019h7M3848 6082h7M3831 6370h7M3887 6153h7M3948 6127h7M3876 6045h7M3936 6414h7M3862 6284h7M3837 6368h7M3947 6233h7M3999 6411h7M3861 6397h7M3744 6358h7M3821 6371h7M3802 6405h7M3885 6400h7M3924 6426h7M3846 6404h7M3814 6409h7M3949 6392h7M3847 6408h7M3833 6366h7M3904 6395h7M3772 6409h7M3836 6432h7M3963 6393h7M4024 6407h7M3964 6381h7M3939 6406h7M3861 6381h7M3888 6384h7M3835 6403h7M3866 6379h7M3793 6405h7M3878 6429h7M3748 6379h7M3878 6417h7M3858 6430h7M4054 6400h7M3767 6363h7M3717 6382h7M3976 6352h7M3896 6413h7M3928 6368h7M3827 6360h7M4021 6403h7M3816 6415h7M3846 6424h7M3912 6406h7M3984 6409h7M3886 6372h7M3920 6427h7M4049 6382h7M3829 6407h7M3862 6407h7M3874 6430h7M3831 6386h7M3913 6422h7M3895 6389h7M3876 6405h7M3965 6394h7M3955 6371h7M3870 6425h7M3758 6354h7M3806 6409h7M3822 6396h7M3839 6411h7M3902 6418h7M3948 6390h7M3842 6371h7M3875 6358h7M3833 6431h7M3881 6369h7M3867 6401h7M3861 6420h7M3870 6396h7M3884 6423h7M3937 6370h7M3951 6430h7M3943 6368h7M3908 6421h7M3906 6414h7M3811 6391h7M3823 6406h7M3862 6357h7M3855 6355h7M3866 6431h7M3932 6403h7M3915 6404h7M3809 6428h7M3876 6404h7M3903 6432h7M3997 6410h7M3814 6427h7M3996 6426h7M3922 6346h7M3883 6398h7M3852 6415h7M4113 6276h7M4077 6242h7M4092 6164h7M4052 6283h7M4076 6157h7M4049 6419h7M4067 6205h7M4067 6318h7M4072 6296h7M4054 6250h7M4063 6395h7M4076 6261h7M4057 6360h7M4056 6163h7M4066 6324h7M4076 6374h7M4058 6409h7M4099 6203h7M4039 6165h7M4084 6375h7M4055 6257h7M4067 6268h7M4070 6378h7M4057 6171h7M4075 6168h7M4058 6374h7M4070 6307h7M4065 6270h7M4047 6424h7M4082 6311h7M4064 6246h7M4072 6190h7M4075 6283h7M4090 6153h7M4067 6424h7M4084 6142h7M4056 6155h7M4046 6127h7M4107 6390h7M4060 6389h7M4063 6141h7M4081 6417h7M4073 6308h7M4067 6158h7M4079 6217h7M4084 6164h7M4089 6312h7M4043 6403h7M4060 6251h7M4081 6386h7M4067 6283h7M4060 6229h7M4066 6391h7M4048 6255h7M4086 6227h7M4064 6337h7M4066 6315h7M4082 6267h7M4074 6395h7M4069 6284h7M4090 6259h7M4079 6429h7M4078 6314h7M4072 6306h7M4073 6309h7M4081 6321h7M4103 6302h7M4085 6342h7M4066 6310h7M4037 6376h7M4060 6305h7M4080 6161h7M4076 6318h7M4085 6180h7M4084 6308h7M4090 6181h7M4081 6265h7M4064 6261h7M4050 6291h7M4033 6327h7M4065 6317h7M4060 6233h7M4082 6242h7M4095 6363h7M4060 6272h7M4094 6269h7M4065 6324h7M4093 6207h7M4078 6167h7M4056 6309h7M4067 6379h7M4061 6298h7M4068 6116h7M4073 6311h7M4073 6256h7M4082 6370h7M4047 6371h7M4061 6294h7M4085 6414h7M4064 6299h7M4115 6392h7M4073 6253h7M4055 6308h7M4045 6286h7M4060 6278h7M4078 6358h7M4095 6305h7M4071 6292h7M4064 6336h7M4080 6215h7M4067 6310h7M4048 6372h7M4085 6275h7M4056 6312h7M4036 6261h7M4059 6303h7M4064 6269h7M4074 6333h7M4055 6331h7M4082 6287h7M4070 6219h7M4075 6346h7M4076 6220h7M4094 6293h7M4060 6257h7M3950 6033h7M4068 6260h7" stroke-opacity="0.3"/>
<path d="M3845 6179h7M3969 6125h7M3890 6038h7M3874 6150h7M3851 6072h7M3818 6205h7M3898 6424h7M3866 6379h7M3849 6178h7M3890 6175h7M3938 6350h7M3954 6273h7M3866 6244h7M3879 5991h7M3942 6232h7M3916 5998h7M3855 6360h7M3897 6150h7M3924 6201h7M3892 6366h7M3796 6391h7M3870 6230h7M3874 6315h7M3867 6199h7M3900 6032h7M3891 6091h7M3926 6333h7M3901 6081h7M3890 6263h7M3871 6106h7M3932 6081h7M3899 6262h7M3802 6103h7M3842 6213h7M3868 6245h7M3932 6308h7M3860 6027h7M3867 6403h7M3901 6239h7M3915 6389h7M3883 6295h7M3878 6097h7M3934 6408h7M3834 6330h7M3891 6067h7M3936 6311h7M3839 6036h7M3890 6041h7M3872 6394h7M3873 6325h7M3862 6096h7M3831 6282h7M3999 6315h7M3924 5990h7M3922 6093h7M3931 6004h7M3927 6381h7M3853 6389h7M3973 6131h7M3886 6273h7M3875 6227h7M3963 6126h7M3913 6177h7M3893 6306h7M3872 6213h7M3948 6342h7M3897 6042h7M3831 6425h7M3899 5993h7M3836 6243h7M3870 6117h7M3881 6234h7M3915 6342h7M3895 6336h7M3891 6215h7M3829 6254h7M3915 6287h7M3910 6340h7M3934 6106h7M3824 6245h7M3820 6214h7M3964 6243h7M3875 6130h7M3948 6066h7M3903 6047h7M3898 6165h7M3944 6309h7M3850 6195h7M3870 6152h7M3972 6087h7M3876 6396h7M3868 6086h7M3956 6081h7M3842 6221h7M3824 6279h7M3876 6110h7M3945 6336h7M3946 6124h7M3852 6219h7M3882 6004h7M3838 6299h7M3868 6081h7M3845 6375h7M3904 6036h7M3808 6424h7M3865 6415h7M3896 6303h7M3904 6201h7M3917 6146h7M3810 6394h7M3871 6203h7M3892 6158h7M3887 6006h7M3923 6107h7M3800 6151h7M3848 6175h7M3851 6348h7M3865 6425h7M3918 6259h7M3881 6268h7M3878 5999h7M3900 6299h7M3862 6348h7M3906 6095h7M3836 6398h7M3895 6014h7M3824 6299h7M3922 6309h7M3836 6072h7M3928 6365h7M3839 6305h7M3862 6347h7M3898 6120h7M3792 6422h7M3828 6109h7M3827 6167h7M3807 6128h7M3891 6172h7M3866 6116h7M3848 6044h7M3906 6243h7M3857 6268h7M3872 6079h7M3896 6239h7M3916 5992h7M3847 6238h7M3924 6235h7M3889 6290h7M3936 5995h7M3918 6331h7M3919 5994h7M3886 6154h7M3922 6351h7M3846 6393h7M3852 6085h7M3861 6084h7M3861 6059h7M3917 6169h7M3855 6382h7M3932 6248h7M3903 6181h7M3805 6385h7M3916 6072h7M3929 6084h7M3836 6362h7M3824 6136h7M3843 6013h7M3882 6039h7M3788 6364h7M3917 6218h7M3899 6114h7M3856 6139h7M3893 6022h7M3843 6416h7M3823 6301h7M3935 6283h7M3854 6008h7M3956 6261h7M3946 6318h7M3885 6108h7M3885 6117h7M3852 6289h7M3921 6254h7M3884 6163h7M3837 6422h7M3896 6416h7M3945 6413h7M3918 6336h7M4044 6417h7M3824 6413h7M3872 6418h7M3911 6418h7M3877 6388h7M3864 6430h7M3817 6405h7M3855 6406h7M3940 6407h7M3908 6396h7M3935 6336h7M3908 6388h7M3902 6431h7M3967 6430h7M3807 6379h7M3893 6428h7M3850 6422h7M3916 6408h7M3806 6412h7M3699 6427h7M3896 6390h7M3855 6426h7M3881 6399h7M3843 6415h7M3805 6397h7M3809 6417h7M3890 6400h7M3911 6370h7M3854 6390h7M3748 6411h7M3916 6376h7M3817 6387h7M3787 6404h7M3898 6365h7M3782 6421h7M3860 6332h7M3825 6402h7M4045 6379h7M3790 6376h7M3905 6409h7M3947 6412h7M3904 6415h7M3881 6426h7M3822 6410h7M3892 6384h7M3841 6372h7M3868 6412h7M3948 6415h7M4026 6395h7M3903 6429h7M3920 6407h7M4036 6370h7M3862 6416h7M3883 6422h7M3885 6421h7M3938 6409h7M3861 6390h7M3782 6418h7M3798 6424h7M3894 6334h7M3841 6379h7M3939 6323h7M3834 6358h7M3923 6356h7M3918 6412h7M4011 6407h7M3888 6388h7M3699 6415h7M3816 6365h7M3824 6412h7M3874 6407h7M3820 6338h7M3827 6410h7M3899 6420h7M3930 6381h7M3886 6371h7M3849 6400h7M3900 6370h7M3766 6416h7M3870 6312h7M3963 6393h7M3871 6344h7M3862 6378h7M3899 6406h7M3704 6391h7M3916 6393h7M3866 6384h7M3696 6387h7M3805 6408h7M3734 6378h7M3985 6357h7M3870 6409h7M3875 6407h7M3908 6396h7M3862 6385h7M3799 6395h7M3853 6401h7M3912 6344h7M3948 6346h7M3793 6423h7M3912 6397h7M3896 6421h7M3955 6389h7M3916 6420h7M3882 6422h7M3936 6418h7M3922 6383h7M3905 6385h7M3802 6423h7M3950 6424h7M3812 6401h7M3833 6415h7M3924 6427h7M3805 6404h7M3932 6422h7M3984 6419h7M3842 6399h7M3852 6409h7M3872 6342h7M3927 6344h7M3898 6411h7M3927 6410h7M3923 6428h7M3769 6415h7M3852 6430h7M3855 6399h7M3912 6392h7M3896 6409h7M3910 6415h7M3790 6365h7M3872 6345h7M3798 6387h7M4004 6415h7M4082 6258h7M4069 6350h7M4087 6305h7M4052 6143h7M4093 6304h7M4093 6424h7M4057 6327h7M4063 6392h7M4053 6314h7M4069 6173h7M4061 6396h7M4079 6155h7M4084 6413h7M4056 6403h7M4044 6397h7M4056 6323h7M4070 6425h7M4048 6157h7M4061 6256h7M4086 6170h7M4060 6240h7M4054 6408h7M4077 6147h7M4095 6421h7M4096 6384h7M4084 6421h7M4087 6212h7M4087 6217h7M4083 6250h7M4081 6324h7M4060 6246h7M4057 6380h7M4080 6335h7M4068 6333h7M4092 6331h7M4106 6419h7M4057 6128h7M4071 6289h7M4082 6294h7M4094 6265h7M4065 6228h7M4042 6155h7M4069 6425h7M4034 6163h7M4047 6222h7M4075 6159h7M4069 6409h7M4083 6371h7M4076 6266h7M4072 6160h7M4057 6113h7M4081 6166h7M4087 6168h7M4059 6154h7M4053 6279h7M4073 6427h7M4059 6235h7M4091 6241h7M4072 6370h7M4087 6362h7M4076 6378h7M4076 6228h7M4096 6195h7M4119 6166h7M4076 6319h7M4084 6137h7M4074 6146h7M4065 6226h7M4100 6180h7M4054 6275h7M4070 6378h7M4062 6115h7M4064 6407h7M4089 6289h7M4083 6361h7M4053 6272h7M4081 6419h7M4058 6324h7M4062 6338h7M4057 6154h7M4114 6420h7M4033 6275h7M4098 6284h7M4065 6371h7M4094 6352h7M4063 6176h7M4052 6281h7M4095 6245h7M4073 6361h7M4069 6289h7M4068 6218h7M4089 6343h7M4068 6303h7M4083 6237h7M4090 6333h7M4039 6177h7M4086 6218h7M4065 6226h7M4088 6329h7M4085 6339h7M4074 6248h7M4059 6277h7M4083 6305h7M4054 6400h7M4063 6340h7M4094 6147h7M4064 6280h7M4069 6342h7M4055 6318h7M4096 6213h7M4052 6308h7M4058 6391h7M4054 6338h7M4085 6231h7M4055 6384h7M4082 6286h7M4045 6409h7M4070 6331h7M4059 6195h7M4084 6318h7M4072 6417h7M4075 6319h7M4047 6278h7M4066 6260h7M4091 6383h7M4064 6291h7M4081 6259h7M4082 6385h7M4075 6324h7M4053 6215h7M4066 6301h7M4083 6204h7M4072 6232h7M4066 6362h7M4071 6176h7M4064 6372h7M4053 6275h7M4056 6274h7M4060 6213h7M4047 6223h7M4070 6318h7M4041 6375h7M4072 6309h7M4070 6383h7M4067 6224h7M4071 6254h7M4069 6386h7M4067 6197h7M4070 6328h7M4083 6259h7M4047 6405h7M4042 6215h7M4086 6228h7M4043 6347h7M4062 6231h7M4065 6376h7M4097 6205h7M4062 6215h7M4092 6304h7M4052 6289h7M4068 6221h7M4056 6249h7M4038 6306h7M4056 6294h7M4060 6392h7M4053 6248h7M4069 6240h7M4069 6313h7M4080 6385h7M4060 6283h7M4093 6349h7M4079 6255h7M4080 6279h7M4068 6334h7M4073 6342h7M4047 6195h7M4057 6284h7M4065 6258h7M4058 6339h7M4051 6289h7M4072 6290h7M4063 6364h7M4042 6229h7M4056 6332h7M4066 6287h7M4047 6297h7M4105 6310h7M4070 6102h7M4071 6369h7M4062 6359h7M4074 6281h7M4078 6371h7M4069 6361h7M4065 6252h7M4076 6265h7M4087 6303h7M4066 6227h7M4086 6278h7M4083 6358h7M4080 6318h7M4067 6302h7M4046 6361h7M4102 6180h7M4065 6288h7M4058 6260h7M4080 6265h7M4055 6321h7M4069 6307h7M4059 6239h7M4065 6271h7M4058 6370h7M4072 6353h7M4042 6249h7M4074 6420h7M4082 6240h7M4058 6363h7M4074 6270h7M4063 6259h7M4069 6206h7M4092 6273h7M4076 6315h7M4059 6339h7M4066 6342h7M4065 6316h7M4069 6337h7M4087 6236h7M4061 6340h7M4064 6275h7M4048 6254h7M4068 6351h7M4067 6336h7M4065 6245h7M4079 6354h7M4060 6239h7M4066 6236h7M4089 6300h7M4056 6259h7M4058 6306h7M4050 6369h7M4063 6205h7M4109 6275h7M4087 6311h7M4089 6245h7M4069 6318h7M4074 6288h7M4060 6246h7M4083 6232h7M4079 6302h7M4099 6284h7M3810 6188h7M3873 6192h7M3706 6385h7M3896 6199h7M4144 6418h7M3807 6237h7M3776 6401h7M3795 6188h7M3762 6096h7M3863 6245h7" stroke-opacity="0.5"/>
<path d="M3884 6018h7M3853 5998h7M3841 6216h7M3803 6407h7M3934 6370h7M3856 6050h7M3864 6386h7M3797 6030h7M3928 6083h7M3876 6131h7M3829 6241h7M3920 6415h7M3863 6074h7M3912 6189h7M3893 6070h7M3876 6400h7M3870 6355h7M3784 6267h7M3846 6037h7M3860 6203h7M3856 6192h7M3995 6127h7M3839 6079h7M3932 6043h7M3909 6173h7M3830 6363h7M3861 6224h7M3885 6313h7M3883 6098h7M3963 6423h7M3768 6376h7M3856 6279h7M3942 6045h7M3879 6067h7M3871 6388h7M3862 6406h7M3872 6139h7M3891 6195h7M3879 5991h7M3886 6133h7M3877 6369h7M3892 6331h7M3922 6100h7M3804 6131h7M3917 5991h7M3825 6196h7M3882 6348h7M3820 6200h7M3843 6081h7M3885 6370h7M3906 6130h7M3859 6228h7M3905 6322h7M3886 6030h7M3941 6043h7M3919 6136h7M3845 6276h7M3850 6020h7M3944 6402h7M3958 6061h7M3856 6323h7M3917 6128h7M3798 6218h7M3938 6174h7M3937 6423h7M3948 6427h7M3794 6382h7M3734 6080h7M3895 6205h7M3863 6375h7M3834 6128h7M3896 6351h7M3926 6407h7M3880 6021h7M3825 6044h7M3869 6269h7M3797 6058h7M3877 6318h7M3872 6349h7M3859 6023h7M3892 6098h7M3909 6118h7M3872 6071h7M3944 6197h7M3872 6239h7M3871 6047h7M3878 6377h7M3896 6355h7M3903 6144h7M3859 6405h7M3838 6078h7M3842 6019h7M3852 6138h7M3946 6431h7M3758 6416h7M3791 6336h7M3885 6398h7M3903 6404h7M3888 6389h7M3889 6399h7M3843 6385h7M3892 6404h7M3871 6415h7M3866 6406h7M3874 6413h7M3920 6404h7M3864 6417h7M3919 6405h7M3781 6417h7M3816 6411h7M3839 6391h7M3715 6380h7M4002 6405h7M3834 6422h7M4048 6358h7M3791 6383h7M3866 6390h7M3835 6401h7M3831 6403h7M3898 6432h7M3733 6416h7M3842 6368h7M3951 6401h7M3820 6372h7M3972 6401h7M3903 6369h7M3879 6363h7M3739 6380h7M3840 6429h7M3903 6408h7M3852 6422h7M3849 6422h7M3932 6384h7M3857 6395h7M3809 6426h7M3827 6371h7M3970 6399h7M3820 6401h7M3879 6378h7M3775 6383h7M3836 6402h7M3982 6386h7M3852 6390h7M3803 6426h7M3835 6354h7M3817 6406h7M3886 6374h7M3882 6366h7M3853 6376h7M3878 6376h7M3917 6417h7M3856 6358h7M3738 6383h7M3845 6404h7M3878 6389h7M3863 6400h7M3951 6430h7M3816 6387h7M3921 6420h7M3918 6399h7M3933 6360h7M3816 6413h7M3912 6408h7M3915 6410h7M4074 6281h7M4059 6417h7M4067 6209h7M4063 6332h7M4100 6199h7M4074 6279h7M4056 6381h7M4097 6416h7M4078 6370h7M4069 6353h7M4024 6240h7M4089 6187h7M4035 6230h7M4053 6241h7M4072 6268h7M4076 6169h7M4048 6253h7M4081 6411h7M4067 6374h7M4076 6246h7M4100 6231h7M4090 6130h7M4085 6423h7M4054 6180h7M4080 6406h7M4065 6141h7M4051 6304h7M4079 6180h7M4055 6187h7M4053 6373h7M4088 6307h7M4094 6141h7M4066 6196h7M4054 6411h7M4064 6396h7M4050 6273h7M4083 6252h7M4063 6290h7M4071 6127h7M4078 6376h7M4071 6157h7M4049 6344h7M4094 6385h7M4071 6424h7M4042 6129h7M4070 6316h7M4061 6189h7M4067 6411h7M4096 6415h7M4076 6360h7M4072 6136h7M4077 6235h7M4071 6356h7M4086 6179h7M4097 6272h7M4039 6330h7M4065 6247h7M4073 6274h7M4058 6297h7M4074 6272h7M4081 6245h7M4066 6333h7M4094 6277h7M4066 6248h7M4081 6367h7M4067 6336h7M4070 6335h7M4099 6231h7M4073 6286h7M4063 6311h7M4075 6258h7M4090 6327h7M4081 6299h7M4093 6354h7M4056 6266h7M4059 6201h7M4077 6275h7M4066 6337h7M4064 6306h7M4080 6247h7M4074 6317h7M4060 6308h7M4097 6320h7M4058 6274h7M4060 6270h7M4085 6308h7M4061 6295h7M4062 6306h7M4067 6356h7M4065 6327h7M4073 6237h7M4034 6370h7M4060 6288h7M4075 6278h7M4071 6295h7M4060 6272h7M4029 6371h7M4059 6381h7M4075 6366h7M4074 6344h7M4052 6325h7M4084 6303h7M4070 6308h7M4051 6321h7M4083 6306h7M4063 6291h7M4050 6238h7M4068 6307h7M4068 6284h7M4072 6251h7M4049 6321h7M4070 6383h7M4073 6191h7M4059 6404h7M4073 6407h7M4096 6225h7M4052 6181h7M4070 6321h7M4040 6213h7M4105 6342h7M4070 6261h7M4088 6312h7M4100 6228h7M4072 6383h7M4080 6224h7M4055 6241h7M4054 6180h7M4077 6316h7M4089 6304h7M4058 6294h7M4046 6250h7M4097 6374h7M4064 6266h7M4067 6198h7M4052 6369h7M4081 6245h7M4089 6342h7M4057 6421h7M4066 6298h7M4077 6365h7M4074 6364h7M4069 6403h7M4067 6261h7M3823 6037h7M3763 6072h7M3891 6121h7M3831 6010h7M3922 6006h7M3914 6211h7" stroke-opacity="0.75"/>
</g>
<rect x="359.6" y="596.3" width="56.6" height="47.5" fill="none" stroke="#9c9c9c" stroke-width="1"/>
<line x1="359.6" y1="610" x2="416.2" y2="610" stroke="#686868" stroke-width="0.8"/>
<line x1="401.7" y1="596.3" x2="401.7" y2="643.8" stroke="#686868" stroke-width="0.8"/>
<text font-size="10.4" font-weight="bold" transform="translate(364.5 608) scale(0.9960 1)">6.1</text>
<text font-size="10.4" font-weight="bold" transform="translate(364.5 638.8) scale(0.9881 1)">56.4</text>
<clipPath id="cp3"><rect x="422.5" y="596.3" width="56.3" height="47.5"/></clipPath>
<g clip-path="url(#cp3)"><g filter="url(#cloud)">
<ellipse cx="447" cy="628" rx="5" ry="17" fill="#000" fill-opacity="0.55"/>
<ellipse cx="450" cy="643" rx="9" ry="3.5" fill="#000" fill-opacity="0.45"/>
<ellipse cx="470" cy="632" rx="1.3" ry="7" fill="#000" fill-opacity="0.3"/>
</g></g>
<g filter="url(#soft)" stroke="#000" stroke-width="7.5" fill="none" transform="scale(0.1)">
<path d="M4478 6138h7M4495 6207h7M4494 6043h7M4447 6134h7M4443 6361h7M4406 6180h7M4507 6419h7M4490 6259h7M4509 6262h7M4461 6421h7M4440 6084h7M4496 6226h7M4475 6215h7M4564 6430h7M4470 6392h7M4424 6028h7M4543 6425h7M4543 6069h7M4444 6099h7M4511 6068h7M4511 6137h7M4487 6269h7M4421 6041h7M4447 6079h7M4500 5996h7M4509 6418h7M4465 6342h7M4466 6239h7M4448 6348h7M4439 6098h7M4429 6306h7M4501 6367h7M4498 6188h7M4428 6402h7M4498 6148h7M4516 6348h7M4510 6413h7M4383 6351h7M4410 6025h7M4500 6042h7M4487 6317h7M4463 6129h7M4442 6321h7M4410 6282h7M4483 6422h7M4531 6414h7M4481 6352h7M4507 6243h7M4553 6249h7M4528 6153h7M4507 6423h7M4430 6406h7M4498 6398h7M4412 6192h7M4475 6236h7M4456 6405h7M4440 6011h7M4566 6002h7M4455 6190h7M4483 6028h7M4471 6051h7M4457 6348h7M4461 6230h7M4533 6229h7M4455 6316h7M4438 6318h7M4484 5996h7M4462 6387h7M4402 6051h7M4545 6202h7M4519 6095h7M4432 6085h7M4477 6099h7M4466 6423h7M4527 6394h7M4505 6344h7M4571 6194h7M4475 6284h7M4458 6163h7M4519 6416h7M4525 6386h7M4448 6045h7M4489 6199h7M4538 6122h7M4477 6219h7M4449 6233h7M4472 6290h7M4533 6119h7M4511 6423h7M4490 6242h7M4601 6330h7M4443 6319h7M4438 6092h7M4447 6338h7M4541 6204h7M4487 6251h7M4423 6036h7M4454 6022h7M4498 6306h7M4514 6381h7M4526 6216h7M4482 6398h7M4457 6343h7M4392 6319h7M4392 6072h7M4388 6228h7M4401 6173h7M4599 6387h7M4535 6345h7M4424 6238h7M4545 6341h7M4476 6364h7M4458 6229h7M4393 6424h7M4447 6084h7M4468 6082h7M4506 6378h7M4490 6286h7M4491 6186h7M4478 6043h7M4401 6213h7M4426 6298h7M4453 6372h7M4509 6382h7M4486 6295h7M4584 6281h7M4506 6126h7M4512 6402h7M4449 6124h7M4533 6029h7M4442 6315h7M4468 6288h7M4524 6418h7M4423 6273h7M4474 6290h7M4513 6166h7M4420 6212h7M4556 6033h7M4496 6095h7M4397 6346h7M4423 6288h7M4453 6348h7M4451 6005h7M4487 6347h7M4484 6312h7M4479 6192h7M4396 6333h7M4495 6139h7M4499 6356h7M4465 6330h7M4511 6304h7M4501 6300h7M4391 6228h7M4482 6192h7M4495 6228h7M4467 6041h7M4501 6329h7M4467 6358h7M4426 6332h7M4465 6226h7M4517 6291h7M4500 6187h7M4529 6133h7M4342 6380h7M4477 6413h7M4530 6401h7M4436 6069h7M4401 6313h7M4493 6230h7M4478 6260h7M4529 6072h7M4469 6374h7M4512 6046h7M4496 6101h7M4498 6081h7M4461 6033h7M4428 6023h7M4476 6109h7M4460 6203h7M4473 6300h7M4517 6360h7M4517 6394h7M4431 6169h7M4472 6278h7M4539 6031h7M4491 6326h7M4500 6308h7M4429 6313h7M4409 6405h7M4384 6422h7M4470 6334h7M4568 6430h7M4423 6195h7M4512 6245h7M4377 6328h7M4518 6141h7M4560 6169h7M4522 6261h7M4515 6088h7M4534 6000h7M4480 6224h7M4516 6199h7M4428 6305h7M4541 6284h7M4519 6393h7M4497 6283h7M4482 6132h7M4462 6233h7M4531 6254h7M4486 6169h7M4434 6265h7M4398 6233h7M4518 6162h7M4516 6025h7M4483 5992h7M4488 6093h7M4497 6419h7M4560 6196h7M4501 6233h7M4461 6320h7M4507 6034h7M4560 6053h7M4459 6176h7M4479 6248h7M4536 6277h7M4497 6185h7M4501 6333h7M4469 6408h7M4524 6388h7M4469 6149h7M4426 6405h7M4531 6047h7M4488 6144h7M4488 6215h7M4529 6272h7M4435 6248h7M4440 6411h7M4464 6399h7M4382 6334h7M4483 6048h7M4451 6285h7M4530 6357h7M4444 6075h7M4488 6009h7M4382 6365h7M4495 6073h7M4563 6317h7M4528 6279h7M4498 6143h7M4449 6278h7M4460 6272h7M4470 6316h7M4413 6257h7M4495 6138h7M4472 6079h7M4491 6399h7M4503 6225h7M4489 6250h7M4451 6125h7M4530 6067h7M4444 6228h7M4439 6187h7M4520 6032h7M4514 6272h7M4495 6287h7M4516 6093h7M4482 6085h7M4481 6274h7M4389 6285h7M4477 6268h7M4462 6097h7M4502 6278h7M4485 6251h7M4448 6335h7M4487 6205h7M4452 6416h7M4426 6383h7M4546 6235h7M4457 6273h7M4531 6004h7M4482 6024h7M4545 6258h7M4394 6300h7M4482 6314h7M4463 6212h7M4571 6281h7M4456 6126h7M4474 6130h7M4477 6313h7M4460 6194h7M4511 6347h7M4481 6149h7M4467 6331h7M4538 6130h7M4473 6203h7M4457 6187h7M4413 6289h7M4499 6122h7M4529 6078h7M4565 6193h7M4514 6063h7M4499 6197h7M4459 6185h7M4466 6405h7M4444 6236h7M4465 6408h7M4420 6406h7M4496 6011h7M4511 6418h7M4573 6369h7M4408 6392h7M4540 6432h7M4507 6396h7M4559 6397h7M4478 6343h7M4326 6396h7M4381 6427h7M4396 6366h7M4559 6422h7M4537 6425h7M4578 6392h7M4525 6378h7M4518 6359h7M4558 6430h7M4515 6390h7M4384 6417h7M4373 6389h7M4514 6422h7M4499 6395h7M4567 6411h7M4481 6408h7M4483 6407h7M4483 6404h7M4592 6405h7M4426 6415h7M4442 6412h7M4508 6418h7M4495 6410h7M4532 6412h7M4459 6415h7M4630 6410h7M4487 6385h7M4451 6410h7M4451 6381h7M4610 6400h7M4410 6380h7M4488 6417h7M4566 6424h7M4492 6411h7M4413 6430h7M4484 6392h7M4514 6342h7M4533 6405h7M4586 6419h7M4367 6429h7M4521 6418h7M4416 6429h7M4473 6417h7M4587 6398h7M4576 6377h7M4461 6429h7M4452 6392h7M4523 6417h7M4540 6375h7M4570 6396h7M4416 6412h7M4461 6382h7M4547 6346h7M4556 6362h7M4675 6392h7M4427 6417h7M4562 6388h7M4539 6398h7M4523 6419h7M4451 6404h7M4455 6373h7M4598 6404h7M4372 6411h7M4427 6425h7M4557 6376h7M4484 6375h7M4470 6398h7M4579 6399h7M4550 6410h7M4451 6401h7M4373 6404h7M4580 6412h7M4523 6397h7M4610 6379h7M4489 6395h7M4543 6377h7M4495 6400h7M4512 6399h7M4377 6376h7M4484 6399h7M4537 6431h7M4464 6423h7M4704 6154h7M4706 6140h7M4704 6143h7M4674 6342h7M4650 6210h7M4704 6190h7M4722 6309h7M4700 6320h7M4697 6388h7M4699 6163h7M4713 6256h7M4716 6414h7M4692 6181h7M4733 6415h7M4684 6153h7M4731 6416h7M4698 6406h7M4692 6314h7M4714 6220h7M4734 6300h7M4693 6277h7M4694 6201h7M4699 6342h7M4699 6379h7M4716 6395h7M4675 6183h7M4697 6220h7M4708 6208h7M4704 6283h7M4689 6323h7M4698 6346h7M4691 6337h7M4694 6374h7M4682 6307h7M4701 6305h7M4709 6264h7M4694 6306h7M4682 6279h7M4710 6307h7M4692 6385h7M4696 6317h7M4703 6336h7M4727 6333h7M4711 6369h7M4707 6358h7M4697 6295h7M4698 6367h7M4702 6340h7M4696 6365h7M4696 6344h7M4717 6367h7M4699 6231h7M4706 6342h7M4724 6367h7M4707 6316h7M4707 6430h7M4687 6254h7M4723 6241h7M4688 6255h7M4695 6326h7M4710 6344h7M4685 6272h7M4706 6303h7M4711 6262h7M4735 6332h7M4680 6271h7M4688 6404h7M4682 6372h7M4684 6313h7M4689 6342h7M4711 6343h7M4721 6213h7M4732 6297h7M4687 6354h7M4695 6276h7M4673 6304h7M4693 6324h7M4706 6431h7M4709 6354h7M4683 6370h7M4703 6345h7M4282 6151h7M4492 6159h7M4640 6184h7M4533 6186h7" stroke-opacity="0.3"/>
<path d="M4442 6301h7M4551 6353h7M4491 6124h7M4441 6059h7M4448 6157h7M4512 6175h7M4447 6252h7M4476 6132h7M4432 6212h7M4429 6412h7M4543 6230h7M4520 6284h7M4493 6404h7M4485 6101h7M4536 6161h7M4523 6164h7M4535 6064h7M4523 6084h7M4385 6118h7M4455 6007h7M4461 6381h7M4496 6253h7M4417 6250h7M4440 6118h7M4527 6219h7M4518 6354h7M4447 6400h7M4487 6329h7M4452 6242h7M4481 6260h7M4423 6179h7M4435 6229h7M4489 6404h7M4559 6267h7M4465 6334h7M4537 6229h7M4437 6371h7M4473 6322h7M4373 6139h7M4466 6274h7M4511 6427h7M4535 6039h7M4403 6410h7M4445 6025h7M4538 6402h7M4462 6233h7M4507 6375h7M4546 6417h7M4467 5995h7M4442 6052h7M4473 6155h7M4479 6099h7M4451 6287h7M4520 6215h7M4518 6014h7M4520 6336h7M4481 6151h7M4467 6384h7M4554 6146h7M4498 6147h7M4493 6028h7M4437 6050h7M4472 6379h7M4487 6040h7M4482 6294h7M4475 6409h7M4484 6181h7M4473 6353h7M4435 6025h7M4394 6195h7M4479 6201h7M4461 6351h7M4431 6246h7M4525 6387h7M4481 6307h7M4411 6430h7M4472 6003h7M4451 6345h7M4538 6311h7M4500 6375h7M4468 6017h7M4500 6083h7M4401 6022h7M4530 6208h7M4471 6324h7M4397 6126h7M4459 6250h7M4478 6341h7M4467 6180h7M4468 6282h7M4563 6026h7M4526 6076h7M4442 6403h7M4427 6353h7M4521 6008h7M4491 6220h7M4453 6135h7M4502 6375h7M4498 6230h7M4491 6329h7M4509 6216h7M4556 6429h7M4475 6421h7M4423 6408h7M4497 6051h7M4491 6096h7M4401 6375h7M4486 6315h7M4489 6088h7M4493 6294h7M4501 6218h7M4520 6189h7M4403 6012h7M4500 6329h7M4466 6299h7M4465 6228h7M4499 6245h7M4590 6136h7M4512 6058h7M4442 6218h7M4508 6241h7M4447 5990h7M4479 6225h7M4492 6327h7M4454 6263h7M4534 6282h7M4487 6296h7M4441 6135h7M4447 6033h7M4507 6427h7M4541 6166h7M4511 6403h7M4485 6042h7M4463 6249h7M4401 6287h7M4438 6160h7M4547 6123h7M4458 6214h7M4493 6036h7M4451 6162h7M4551 6114h7M4532 6027h7M4425 6430h7M4488 6260h7M4503 6296h7M4462 6197h7M4399 6008h7M4499 6009h7M4526 6322h7M4460 6125h7M4449 6198h7M4461 6092h7M4478 6241h7M4444 6431h7M4495 6163h7M4496 6257h7M4506 6349h7M4421 6223h7M4459 6216h7M4487 6153h7M4477 6334h7M4530 6063h7M4502 6389h7M4571 6131h7M4400 6121h7M4557 6147h7M4532 6288h7M4491 6109h7M4467 6288h7M4473 6325h7M4417 6336h7M4498 6385h7M4532 6088h7M4416 6376h7M4459 6291h7M4493 6229h7M4426 6364h7M4459 6400h7M4480 6349h7M4503 6145h7M4432 6102h7M4479 6184h7M4535 6194h7M4436 6165h7M4503 6332h7M4479 6158h7M4554 6423h7M4490 6323h7M4512 6359h7M4454 6356h7M4550 6321h7M4485 6196h7M4458 6228h7M4458 6237h7M4484 6379h7M4474 6367h7M4443 6075h7M4517 6402h7M4426 6213h7M4489 6025h7M4510 6152h7M4448 6002h7M4556 6078h7M4549 6279h7M4503 6021h7M4479 6358h7M4471 6409h7M4486 6278h7M4493 6379h7M4545 6196h7M4454 6167h7M4432 6322h7M4376 6202h7M4500 6358h7M4526 6084h7M4424 6036h7M4467 6012h7M4468 6014h7M4453 6020h7M4451 6408h7M4429 6308h7M4487 6076h7M4442 6175h7M4500 6107h7M4499 6082h7M4491 6316h7M4504 6218h7M4392 6140h7M4479 6426h7M4507 6244h7M4503 6403h7M4506 6032h7M4445 6157h7M4463 6305h7M4520 6351h7M4486 6048h7M4492 6138h7M4482 6266h7M4436 6426h7M4513 6002h7M4438 6047h7M4485 6088h7M4519 6238h7M4496 6125h7M4550 5999h7M4536 6137h7M4454 6098h7M4392 6396h7M4462 6017h7M4425 6124h7M4497 6222h7M4508 6048h7M4455 6343h7M4534 6421h7M4416 6294h7M4476 6421h7M4466 6125h7M4430 6198h7M4467 6158h7M4478 6196h7M4415 6200h7M4612 6121h7M4504 6162h7M4484 6241h7M4470 6001h7M4442 6419h7M4474 6429h7M4506 6133h7M4492 6268h7M4485 6203h7M4605 6027h7M4468 6161h7M4533 6428h7M4359 6327h7M4505 6227h7M4521 6016h7M4531 6343h7M4486 6298h7M4463 6388h7M4426 6390h7M4474 6393h7M4504 6400h7M4457 6149h7M4538 6118h7M4453 6003h7M4541 6044h7M4532 6222h7M4454 6062h7M4433 6070h7M4470 6120h7M4533 6239h7M4433 6314h7M4507 6357h7M4483 6420h7M4499 6225h7M4477 6017h7M4490 6114h7M4492 6163h7M4500 6405h7M4532 6269h7M4538 6169h7M4429 6177h7M4534 6359h7M4477 6362h7M4482 6147h7M4517 6392h7M4467 6254h7M4485 6426h7M4520 6146h7M4499 6244h7M4476 6329h7M4511 6148h7M4488 6114h7M4451 6011h7M4475 6293h7M4476 6309h7M4444 5990h7M4480 6369h7M4494 6426h7M4520 6357h7M4459 6217h7M4449 6253h7M4467 6178h7M4545 6339h7M4402 6126h7M4481 6245h7M4458 6305h7M4546 6144h7M4459 6359h7M4482 6383h7M4503 6407h7M4463 6426h7M4469 6295h7M4510 6081h7M4497 6110h7M4484 6145h7M4423 6425h7M4452 6201h7M4393 6057h7M4495 6356h7M4479 6113h7M4527 6090h7M4511 6031h7M4494 6221h7M4448 6252h7M4425 6316h7M4430 6099h7M4490 6102h7M4479 6126h7M4499 6138h7M4501 6428h7M4528 6363h7M4553 6357h7M4392 6422h7M4462 6087h7M4506 6320h7M4440 6411h7M4484 6389h7M4423 6398h7M4478 6129h7M4504 6326h7M4407 6409h7M4381 5995h7M4386 6025h7M4528 6342h7M4409 5997h7M4474 6081h7M4532 6261h7M4501 6178h7M4460 6252h7M4484 6330h7M4445 6004h7M4430 6393h7M4633 6174h7M4490 6319h7M4473 6113h7M4419 6054h7M4523 6419h7M4481 6370h7M4448 6333h7M4522 6061h7M4405 6218h7M4537 6204h7M4530 6295h7M4449 6153h7M4482 6210h7M4464 6170h7M4470 6147h7M4454 6294h7M4469 6393h7M4482 6267h7M4494 6248h7M4466 6091h7M4561 6365h7M4451 6058h7M4421 6156h7M4508 6022h7M4549 6377h7M4537 6410h7M4418 6390h7M4477 6025h7M4419 6392h7M4511 6103h7M4452 6111h7M4511 6154h7M4412 6166h7M4474 6042h7M4470 6214h7M4518 6389h7M4524 6226h7M4486 6266h7M4479 6127h7M4552 6268h7M4435 6155h7M4480 6116h7M4499 6243h7M4549 6279h7M4482 6007h7M4534 6197h7M4447 6347h7M4584 6413h7M4433 6345h7M4468 6074h7M4439 6118h7M4399 6169h7M4474 6411h7M4531 6397h7M4448 6190h7M4504 6118h7M4445 6165h7M4444 6269h7M4504 6057h7M4410 6055h7M4451 6062h7M4454 5996h7M4522 6395h7M4484 6078h7M4453 6064h7M4460 6077h7M4492 6229h7M4492 6168h7M4404 6402h7M4481 6287h7M4407 6266h7M4614 6125h7M4519 6406h7M4539 6155h7M4477 6068h7M4484 6192h7M4473 6157h7M4427 6370h7M4513 6087h7M4493 6373h7M4476 6060h7M4487 6090h7M4580 6353h7M4502 6333h7M4533 6089h7M4507 6286h7M4471 6403h7M4547 6259h7M4454 6325h7M4542 6147h7M4452 6422h7M4471 6336h7M4414 6094h7M4529 6096h7M4419 6072h7M4564 6073h7M4455 6152h7M4488 6332h7M4474 6067h7M4478 6255h7M4520 6242h7M4452 6305h7M4457 6388h7M4477 6201h7M4508 6418h7M4518 6287h7M4514 6001h7M4498 6406h7M4487 6401h7M4441 6315h7M4413 6326h7M4486 6056h7M4452 6252h7M4504 6255h7M4543 6243h7M4503 6091h7M4555 6316h7M4486 6068h7M4442 6378h7M4506 6080h7M4416 6226h7M4546 6038h7M4493 6338h7M4410 6411h7M4447 6300h7M4450 6337h7M4515 6267h7M4429 6152h7M4498 6208h7M4512 6398h7M4366 6095h7M4533 6134h7M4487 6223h7M4487 6239h7M4492 6042h7M4570 6234h7M4506 6351h7M4576 6417h7M4512 5996h7M4454 6125h7M4457 6202h7M4503 6398h7M4490 6210h7M4525 6074h7M4432 6096h7M4460 6187h7M4423 6428h7M4443 6199h7M4545 6413h7M4456 6007h7M4495 6310h7M4479 6278h7M4415 6170h7M4526 6348h7M4428 6319h7M4510 6359h7M4460 6299h7M4459 6335h7M4462 6329h7M4537 6167h7M4486 6292h7M4431 6366h7M4477 6125h7M4438 6155h7M4539 6116h7M4500 6161h7M4483 6213h7M4542 6303h7M4535 6404h7M4520 6210h7M4515 6373h7M4501 6086h7M4491 6288h7M4452 6184h7M4494 6355h7M4466 6166h7M4508 6365h7M4547 6198h7M4518 6273h7M4490 6199h7M4446 6147h7M4519 6336h7M4405 6394h7M4511 6122h7M4452 6288h7M4445 6312h7M4535 6275h7M4499 6056h7M4436 6294h7M4454 6279h7M4456 6130h7M4493 6034h7M4448 6388h7M4493 6419h7M4526 6141h7M4420 6334h7M4453 6157h7M4518 6405h7M4487 6158h7M4530 6218h7M4459 6252h7M4456 6177h7M4552 6091h7M4400 6238h7M4472 6413h7M4502 6216h7M4483 6253h7M4546 6208h7M4552 6387h7M4533 6399h7M4446 6160h7M4547 6139h7M4510 6098h7M4474 6322h7M4492 6122h7M4470 6319h7M4508 6249h7M4467 6106h7M4477 6373h7M4505 6105h7M4469 6320h7M4501 6320h7M4455 6351h7M4453 6009h7M4499 6304h7M4478 6049h7M4444 6352h7M4558 6046h7M4488 6043h7M4499 6231h7M4468 6222h7M4500 6237h7M4495 6186h7M4507 6145h7M4461 6383h7M4521 6098h7M4433 6089h7M4428 6338h7M4544 6120h7M4461 6318h7M4478 6281h7M4427 6272h7M4523 6015h7M4483 6430h7M4513 6351h7M4492 6260h7M4521 6009h7M4465 6397h7M4588 6204h7M4472 6283h7M4465 6225h7M4462 6278h7M4481 6069h7M4451 6168h7M4541 6024h7M4551 6186h7M4471 6244h7M4477 6396h7M4460 6232h7M4504 6401h7M4492 6019h7M4451 6303h7M4436 6265h7M4451 6385h7M4555 6429h7M4474 6261h7M4494 6207h7M4475 6419h7M4540 6045h7M4435 6209h7M4505 6370h7M4428 6404h7M4521 6408h7M4437 6082h7M4430 6357h7M4420 6103h7M4478 6361h7M4488 6391h7M4521 6339h7M4469 6077h7M4522 6143h7M4539 6156h7M4472 6420h7M4425 6015h7M4483 6015h7M4484 6243h7M4493 6301h7M4518 6195h7M4401 6392h7M4581 6402h7M4543 6380h7M4442 6390h7M4642 6429h7M4527 6370h7M4570 6431h7M4490 6400h7M4565 6370h7M4466 6404h7M4430 6367h7M4476 6338h7M4471 6361h7M4613 6410h7M4457 6426h7M4505 6341h7M4467 6420h7M4457 6390h7M4498 6411h7M4488 6389h7M4601 6400h7M4467 6428h7M4560 6383h7M4509 6369h7M4477 6401h7M4545 6375h7M4562 6401h7M4583 6423h7M4506 6383h7M4558 6418h7M4523 6427h7M4377 6418h7M4550 6412h7M4421 6415h7M4565 6376h7M4516 6401h7M4464 6418h7M4354 6400h7M4469 6423h7M4405 6417h7M4511 6361h7M4491 6380h7M4521 6414h7M4357 6344h7M4507 6379h7M4479 6406h7M4466 6414h7M4468 6429h7M4452 6356h7M4514 6400h7M4419 6410h7M4477 6376h7M4446 6414h7M4487 6404h7M4414 6403h7M4560 6380h7M4416 6386h7M4605 6374h7M4551 6418h7M4560 6426h7M4538 6401h7M4503 6389h7M4603 6379h7M4574 6412h7M4583 6383h7M4554 6385h7M4456 6419h7M4579 6365h7M4556 6400h7M4538 6425h7M4440 6429h7M4508 6398h7M4446 6380h7M4381 6408h7M4564 6412h7M4447 6424h7M4543 6418h7M4524 6350h7M4539 6421h7M4440 6399h7M4491 6419h7M4466 6416h7M4499 6430h7M4509 6423h7M4574 6388h7M4514 6384h7M4552 6387h7M4525 6387h7M4326 6363h7M4385 6432h7M4506 6385h7M4435 6412h7M4486 6353h7M4511 6408h7M4485 6402h7M4570 6369h7M4595 6417h7M4541 6400h7M4482 6413h7M4503 6408h7M4352 6409h7M4491 6412h7M4386 6375h7M4619 6363h7M4546 6360h7M4546 6357h7M4554 6411h7M4393 6369h7M4647 6409h7M4521 6414h7M4491 6419h7M4580 6425h7M4540 6413h7M4383 6396h7M4482 6368h7M4485 6379h7M4474 6397h7M4523 6395h7M4577 6395h7M4461 6425h7M4415 6371h7M4570 6381h7M4471 6418h7M4511 6384h7M4455 6429h7M4482 6422h7M4577 6422h7M4431 6430h7M4491 6390h7M4673 6401h7M4645 6406h7M4426 6428h7M4531 6392h7M4513 6416h7M4514 6420h7M4528 6405h7M4504 6404h7M4516 6425h7M4518 6381h7M4519 6340h7M4565 6389h7M4689 6400h7M4722 6320h7M4690 6373h7M4711 6179h7M4721 6225h7M4718 6295h7M4708 6356h7M4686 6254h7M4688 6363h7M4697 6188h7M4706 6411h7M4703 6190h7M4731 6296h7M4709 6424h7M4696 6380h7M4690 6407h7M4673 6324h7M4702 6359h7M4726 6209h7M4699 6263h7M4707 6381h7M4702 6416h7M4705 6285h7M4683 6304h7M4688 6274h7M4703 6365h7M4705 6243h7M4708 6233h7M4705 6176h7M4699 6209h7M4709 6252h7M4717 6254h7M4684 6377h7M4712 6319h7M4683 6219h7M4678 6331h7M4697 6423h7M4708 6281h7M4701 6311h7M4710 6425h7M4699 6381h7M4646 6416h7M4691 6304h7M4694 6187h7M4745 6224h7M4712 6232h7M4710 6331h7M4685 6261h7M4709 6328h7M4730 6239h7M4688 6219h7M4739 6431h7M4694 6408h7M4681 6350h7M4729 6410h7M4701 6322h7M4704 6269h7M4694 6314h7M4697 6298h7M4705 6255h7M4694 6328h7M4721 6288h7M4709 6427h7M4694 6384h7M4702 6284h7M4682 6376h7M4681 6382h7M4702 6315h7M4704 6274h7M4704 6371h7M4680 6271h7M4711 6248h7M4705 6277h7M4692 6377h7M4689 6360h7M4693 6339h7M4703 6328h7M4694 6390h7M4700 6400h7M4719 6369h7M4674 6312h7M4710 6286h7M4714 6323h7M4697 6332h7M4709 6226h7M4715 6254h7M4694 6262h7M4689 6275h7M4714 6311h7M4715 6284h7M4701 6354h7M4715 6238h7M4678 6311h7M4714 6272h7M4698 6256h7M4708 6401h7M4705 6324h7M4692 6313h7M4708 6315h7M4708 6395h7M4702 6288h7M4702 6336h7M4722 6336h7M4721 6248h7M4701 6287h7M4712 6318h7M4703 6370h7M4733 6275h7M4706 6266h7M4699 6383h7M4694 6307h7M4712 6345h7M4727 6409h7M4680 6319h7M4694 6320h7M4693 6277h7M4708 6301h7M4692 6238h7M4684 6329h7M4719 6351h7M4702 6320h7M4693 6337h7M4704 6297h7M4680 6281h7M4691 6277h7M4702 6276h7M4712 6366h7M4723 6249h7M4711 6298h7M4695 6411h7M4689 6293h7M4689 6352h7M4712 6286h7M4713 6351h7M4705 6330h7M4691 6217h7M4691 6362h7M4542 6070h7M4598 6024h7M4492 6223h7M4344 6191h7M4459 6055h7M4631 6191h7M4715 6230h7M4337 6283h7M4331 6328h7M4338 6005h7M4446 6272h7M4576 6194h7M4272 6333h7" stroke-opacity="0.5"/>
<path d="M4522 6090h7M4476 6095h7M4536 6415h7M4433 6180h7M4463 6031h7M4384 5998h7M4532 6024h7M4511 6092h7M4483 6219h7M4514 6042h7M4488 6031h7M4465 6130h7M4501 6369h7M4485 6326h7M4441 6356h7M4448 6009h7M4403 6323h7M4425 6329h7M4530 6295h7M4495 6318h7M4509 6278h7M4480 6226h7M4562 6041h7M4441 6431h7M4476 6246h7M4490 6131h7M4434 6375h7M4503 6117h7M4470 6092h7M4499 6145h7M4490 6155h7M4518 6051h7M4472 6146h7M4488 6392h7M4400 6156h7M4445 6091h7M4433 6409h7M4433 6321h7M4377 6283h7M4505 6090h7M4473 6040h7M4426 6284h7M4570 6400h7M4543 6275h7M4483 6175h7M4506 6290h7M4500 6397h7M4505 6400h7M4468 6366h7M4486 6069h7M4506 6006h7M4439 6136h7M4490 6390h7M4374 6409h7M4420 6352h7M4458 6383h7M4418 6003h7M4482 6312h7M4532 6251h7M4484 6004h7M4455 6187h7M4471 6214h7M4418 6184h7M4458 6365h7M4488 6126h7M4502 6272h7M4545 6170h7M4476 6223h7M4441 6208h7M4444 6286h7M4538 6368h7M4440 6314h7M4480 6131h7M4455 6290h7M4530 6411h7M4517 6376h7M4433 6266h7M4438 6334h7M4422 6229h7M4490 6068h7M4446 6179h7M4449 6311h7M4517 6277h7M4486 6248h7M4480 6074h7M4521 6150h7M4432 6372h7M4488 6083h7M4433 6176h7M4466 6422h7M4542 6051h7M4407 6225h7M4553 6028h7M4458 6337h7M4451 6322h7M4501 6149h7M4479 6216h7M4431 6186h7M4464 6269h7M4541 5993h7M4431 6167h7M4460 6001h7M4436 6352h7M4400 6218h7M4444 6044h7M4417 6122h7M4470 6254h7M4466 6359h7M4489 6061h7M4410 6352h7M4444 6359h7M4506 6083h7M4504 6227h7M4411 6238h7M4521 6169h7M4501 6108h7M4468 6253h7M4473 6375h7M4430 6285h7M4490 6371h7M4492 6069h7M4519 6071h7M4463 6092h7M4421 6272h7M4518 6332h7M4543 6171h7M4493 6386h7M4461 6254h7M4462 6429h7M4443 6060h7M4438 6126h7M4416 6164h7M4470 6051h7M4472 6146h7M4461 6125h7M4547 6149h7M4495 6339h7M4464 6223h7M4504 6127h7M4472 6084h7M4454 6105h7M4428 6262h7M4505 6430h7M4442 6179h7M4426 6350h7M4511 5996h7M4492 6250h7M4566 6200h7M4520 6052h7M4479 6130h7M4391 6245h7M4536 6223h7M4517 6301h7M4465 6053h7M4466 6273h7M4502 6203h7M4532 6244h7M4482 6351h7M4515 6008h7M4445 6390h7M4440 6168h7M4475 6262h7M4526 6129h7M4457 6235h7M4450 6429h7M4440 6096h7M4461 6266h7M4544 6389h7M4406 6072h7M4503 6379h7M4442 6216h7M4440 6247h7M4492 6397h7M4434 6356h7M4547 6116h7M4536 6352h7M4454 6042h7M4485 6140h7M4528 6160h7M4455 6291h7M4454 6236h7M4539 6282h7M4504 6043h7M4376 6191h7M4479 6268h7M4503 6384h7M4473 6028h7M4474 6243h7M4496 6280h7M4480 6279h7M4387 6389h7M4494 6065h7M4519 6270h7M4447 6168h7M4394 6308h7M4420 6125h7M4523 6270h7M4405 6368h7M4543 6301h7M4559 6095h7M4513 6115h7M4481 6124h7M4456 6361h7M4555 6066h7M4491 6025h7M4471 6425h7M4448 6373h7M4562 6006h7M4543 6090h7M4466 6157h7M4491 6359h7M4495 6108h7M4470 6131h7M4441 6014h7M4410 6014h7M4462 6302h7M4518 6386h7M4466 6289h7M4488 6244h7M4456 6104h7M4479 6046h7M4439 6141h7M4478 6378h7M4468 6420h7M4452 6327h7M4550 6256h7M4467 6281h7M4466 6205h7M4426 6060h7M4536 6066h7M4542 6228h7M4434 6084h7M4510 6215h7M4439 6417h7M4439 6043h7M4480 6090h7M4464 6428h7M4417 6240h7M4545 6067h7M4532 6385h7M4473 6314h7M4473 6127h7M4489 6307h7M4493 6380h7M4513 6063h7M4468 6195h7M4451 6407h7M4476 6232h7M4398 6018h7M4566 6306h7M4464 6298h7M4507 6216h7M4511 6323h7M4474 6055h7M4457 6278h7M4481 6414h7M4475 6289h7M4434 6127h7M4493 6020h7M4423 6075h7M4483 6149h7M4515 6177h7M4455 6384h7M4525 6269h7M4445 6277h7M4489 6032h7M4512 6099h7M4519 6327h7M4379 6294h7M4488 6021h7M4510 6061h7M4454 6297h7M4484 6009h7M4441 6022h7M4426 6226h7M4477 6123h7M4461 6203h7M4532 6347h7M4474 6168h7M4489 6203h7M4360 6350h7M4490 6298h7M4473 6427h7M4485 6421h7M4530 6096h7M4445 6208h7M4421 6051h7M4441 6064h7M4543 6333h7M4498 6338h7M4516 6395h7M4488 6109h7M4492 6359h7M4466 6055h7M4495 6336h7M4425 6282h7M4512 6254h7M4467 6282h7M4545 6012h7M4477 6382h7M4403 6107h7M4470 6176h7M4530 6097h7M4449 6385h7M4431 6367h7M4537 6419h7M4486 6231h7M4494 6008h7M4484 6321h7M4414 6140h7M4448 6270h7M4537 6264h7M4495 6076h7M4544 6031h7M4460 6224h7M4454 6427h7M4553 6335h7M4473 6380h7M4451 6374h7M4388 6039h7M4564 6177h7M4527 6277h7M4448 6309h7M4486 6375h7M4454 6380h7M4424 6100h7M4364 6125h7M4505 6343h7M4498 6212h7M4503 6286h7M4517 6263h7M4489 6091h7M4463 6111h7M4478 6123h7M4549 6409h7M4499 6157h7M4460 6324h7M4462 6425h7M4547 6374h7M4477 6079h7M4523 6066h7M4553 6402h7M4491 6429h7M4622 6398h7M4618 6328h7M4409 6382h7M4494 6399h7M4515 6352h7M4492 6379h7M4496 6419h7M4481 6349h7M4555 6380h7M4463 6402h7M4561 6385h7M4346 6393h7M4527 6410h7M4514 6411h7M4483 6391h7M4399 6415h7M4513 6400h7M4546 6334h7M4506 6411h7M4502 6412h7M4595 6422h7M4563 6401h7M4479 6398h7M4621 6401h7M4422 6397h7M4424 6403h7M4400 6405h7M4439 6410h7M4519 6390h7M4538 6392h7M4423 6382h7M4631 6420h7M4532 6389h7M4578 6387h7M4467 6406h7M4615 6381h7M4577 6381h7M4575 6422h7M4478 6391h7M4563 6402h7M4457 6346h7M4564 6392h7M4449 6365h7M4449 6408h7M4536 6394h7M4542 6410h7M4513 6408h7M4623 6417h7M4484 6402h7M4497 6393h7M4416 6428h7M4507 6381h7M4688 6393h7M4528 6426h7M4650 6367h7M4515 6419h7M4586 6421h7M4609 6369h7M4649 6418h7M4691 6262h7M4672 6412h7M4713 6167h7M4695 6387h7M4685 6218h7M4691 6421h7M4705 6152h7M4685 6428h7M4701 6318h7M4725 6144h7M4700 6278h7M4707 6405h7M4676 6222h7M4715 6194h7M4698 6364h7M4717 6140h7M4699 6300h7M4714 6402h7M4706 6291h7M4703 6227h7M4712 6275h7M4673 6155h7M4711 6382h7M4715 6366h7M4707 6276h7M4720 6171h7M4708 6378h7M4713 6361h7M4694 6360h7M4702 6239h7M4726 6332h7M4715 6273h7M4679 6386h7M4699 6359h7M4687 6427h7M4702 6348h7M4694 6388h7M4713 6281h7M4711 6380h7M4720 6274h7M4696 6283h7M4718 6297h7M4683 6290h7M4698 6310h7M4689 6312h7M4713 6243h7M4701 6323h7M4701 6294h7M4687 6314h7M4714 6316h7M4714 6278h7M4686 6336h7M4691 6331h7M4710 6374h7M4703 6301h7M4689 6349h7M4715 6307h7M4698 6327h7M4687 6321h7M4694 6294h7M4700 6391h7M4711 6282h7M4501 6404h7M4413 6273h7M4408 6214h7M4487 6030h7" stroke-opacity="0.75"/>
</g>
<rect x="422.5" y="596.3" width="56.3" height="47.5" fill="none" stroke="#9c9c9c" stroke-width="1"/>
<line x1="422.5" y1="610" x2="478.8" y2="610" stroke="#686868" stroke-width="0.8"/>
<line x1="465" y1="596.3" x2="465" y2="643.8" stroke="#686868" stroke-width="0.8"/>
<text font-size="10.4" font-weight="bold" transform="translate(428 608) scale(0.9960 1)">8.0</text>
<text font-size="10.4" font-weight="bold" transform="translate(428 638.8) scale(0.9881 1)">79.0</text>
<clipPath id="cp4"><rect x="359.6" y="650.6" width="56.6" height="47.4"/></clipPath>
<g clip-path="url(#cp4)"><g filter="url(#cloud)">
<ellipse cx="407.5" cy="687" rx="2.2" ry="10" fill="#000" fill-opacity="0.75"/>
<ellipse cx="392" cy="697" rx="6" ry="2" fill="#000" fill-opacity="0.2"/>
</g></g>
<g filter="url(#soft)" stroke="#000" stroke-width="7.5" fill="none" transform="scale(0.1)">
<path d="M3925 6953h7M3791 6942h7M3884 6958h7M3940 6886h7M3923 6947h7M3963 6972h7M3846 6940h7M3976 6947h7M3867 6902h7M3862 6957h7M3841 6941h7M3929 6909h7M3906 6960h7M3934 6864h7M3903 6929h7M3866 6967h7M3900 6971h7M3966 6941h7M3869 6946h7M3960 6954h7M3867 6941h7M3892 6941h7M3874 6938h7M3922 6897h7M3923 6914h7M3901 6973h7M3953 6927h7M3910 6967h7M4101 6769h7M4078 6728h7M4061 6940h7M4077 6913h7M4083 6961h7M4080 6899h7M4075 6908h7M4072 6864h7M4081 6769h7M4039 6742h7M4070 6698h7M4083 6784h7M4076 6939h7M4061 6919h7M4045 6809h7M4073 6963h7M4069 6893h7M4079 6797h7M4061 6810h7M4055 6964h7M4058 6877h7M4061 6833h7M4065 6791h7M4057 6828h7M4078 6880h7M4097 6847h7M4055 6821h7M4102 6914h7M4066 6785h7M4084 6959h7M4090 6867h7M4070 6763h7M4053 6926h7M4039 6846h7M4071 6961h7M4091 6915h7M4042 6963h7M4055 6958h7M4069 6967h7M4031 6828h7M4081 6887h7M4092 6692h7M4094 6906h7M4087 6936h7M4064 6927h7M4042 6953h7M4054 6816h7M4093 6681h7M4103 6702h7M4059 6789h7M4081 6696h7M4100 6702h7M4086 6812h7M4118 6700h7M4072 6751h7M4096 6716h7M4086 6829h7M4071 6822h7M4121 6961h7M4060 6968h7M4061 6777h7M4076 6919h7M4090 6825h7M4070 6776h7M4084 6762h7M4089 6812h7M4067 6886h7M4096 6928h7M4086 6693h7M4059 6940h7M4091 6718h7M4090 6865h7M4089 6866h7M4071 6779h7M4088 6890h7M4060 6841h7M4101 6807h7M4054 6811h7M4056 6905h7M4076 6835h7M4079 6919h7M4068 6923h7M4076 6915h7M4085 6773h7M4075 6942h7M4089 6909h7M4094 6844h7M4061 6902h7M4047 6879h7M4080 6907h7M4108 6849h7M4058 6840h7M4060 6788h7M4078 6904h7M4069 6776h7M4098 6938h7M4071 6826h7M4071 6951h7M4065 6832h7M4052 6891h7M4131 6820h7M4095 6858h7M4078 6898h7M4067 6863h7M4077 6896h7M4031 6809h7M4079 6807h7M4094 6916h7M4072 6722h7M4095 6777h7M4098 6949h7M4087 6960h7M4029 6951h7M4063 6850h7M4058 6870h7M4080 6812h7M4094 6761h7M4117 6941h7M4090 6911h7M4088 6883h7M4068 6912h7M4085 6901h7M4087 6869h7M4096 6711h7M4056 6862h7M4088 6856h7M4078 6860h7M4074 6949h7M4089 6895h7M4093 6864h7M4059 6821h7M4107 6879h7M4077 6922h7M4072 6854h7M4078 6888h7M4048 6914h7M4066 6926h7M4081 6903h7M4077 6854h7M4057 6787h7M4051 6936h7M4082 6795h7M4094 6857h7M4080 6958h7M4017 6772h7M4088 6944h7M4034 6937h7M4083 6857h7M4087 6886h7M4059 6961h7M4080 6849h7M4028 6931h7M4079 6922h7M4059 6815h7M4080 6779h7M4065 6871h7M4102 6889h7M4081 6848h7M4064 6945h7M4086 6923h7M4070 6903h7M4028 6752h7M4058 6817h7M4081 6888h7M4079 6841h7M4101 6881h7M4073 6783h7M4075 6886h7M4088 6919h7M4100 6908h7M4077 6921h7M4089 6854h7M4075 6871h7M4059 6833h7M4051 6941h7M4098 6892h7M4073 6812h7M4078 6931h7M4059 6892h7M4090 6931h7M4081 6960h7M4079 6897h7M4078 6952h7M4074 6888h7M4112 6882h7M4091 6922h7M4075 6915h7M4057 6849h7M4066 6760h7M4078 6818h7M4069 6797h7M4059 6913h7M4069 6765h7M4036 6936h7M4046 6867h7M4062 6767h7M4074 6907h7M4098 6814h7M4076 6867h7M4098 6962h7M4065 6767h7M4094 6771h7M4068 6794h7M4041 6850h7M4064 6950h7M4053 6913h7M4065 6769h7M4084 6807h7M4055 6965h7M4091 6762h7M4053 6889h7M4075 6717h7M4080 6843h7M4090 6898h7M4080 6847h7M4078 6944h7M4068 6775h7M4052 6868h7M4117 6831h7M4090 6899h7M4091 6713h7M4060 6857h7M4075 6894h7M4037 6909h7M4038 6891h7M4079 6780h7M4050 6878h7M4077 6818h7M4080 6866h7M4058 6804h7M4065 6839h7M4097 6829h7M4086 6847h7M4058 6874h7M4113 6917h7M4031 6784h7M4084 6897h7M4056 6826h7M4085 6867h7M4073 6908h7M4079 6919h7M4068 6955h7M4088 6812h7M4070 6872h7M4077 6774h7M4096 6685h7M4056 6909h7M4078 6887h7M4049 6826h7M4071 6959h7M4075 6822h7M4099 6869h7M4061 6789h7M4071 6933h7M4088 6751h7M4080 6869h7M4094 6822h7M4067 6811h7M4067 6905h7M4081 6909h7M4096 6817h7M4074 6834h7M4045 6916h7M4059 6900h7M4070 6785h7M4077 6896h7M4080 6904h7M4084 6827h7M4097 6840h7M4055 6899h7M3983 6634h7M3955 6657h7M4002 6833h7M3902 6721h7" stroke-opacity="0.3"/>
<path d="M3867 6931h7M3961 6910h7M3990 6960h7M3883 6960h7M3993 6941h7M3984 6945h7M3906 6917h7M3981 6895h7M3815 6915h7M3958 6949h7M3987 6921h7M3828 6972h7M3948 6960h7M3879 6947h7M3905 6950h7M3944 6911h7M3874 6885h7M3906 6970h7M3799 6871h7M3816 6972h7M3923 6912h7M3893 6910h7M3919 6954h7M3861 6946h7M3883 6951h7M3907 6877h7M3889 6926h7M4000 6952h7M3907 6921h7M3966 6893h7M3887 6924h7M3778 6971h7M3870 6954h7M3899 6970h7M3879 6912h7M3885 6908h7M3837 6901h7M3926 6919h7M3955 6955h7M3894 6932h7M3965 6930h7M3893 6942h7M3874 6946h7M3905 6971h7M3892 6949h7M3886 6962h7M3912 6960h7M3977 6946h7M3901 6960h7M3900 6957h7M3930 6917h7M3947 6919h7M3876 6945h7M3900 6941h7M3889 6945h7M3899 6963h7M3898 6932h7M3815 6951h7M4071 6826h7M4061 6852h7M4064 6727h7M4080 6815h7M4048 6790h7M4053 6959h7M4079 6677h7M4059 6912h7M4099 6933h7M4060 6760h7M4096 6963h7M4095 6807h7M4050 6908h7M4061 6834h7M4097 6924h7M4062 6799h7M4093 6706h7M4031 6806h7M4047 6788h7M4089 6844h7M4058 6927h7M4106 6912h7M4062 6794h7M4059 6954h7M4068 6911h7M4065 6774h7M4089 6959h7M4113 6958h7M4097 6918h7M4054 6804h7M4077 6748h7M4044 6840h7M4027 6971h7M4097 6726h7M4072 6947h7M4063 6893h7M4066 6926h7M4067 6939h7M4094 6771h7M4073 6692h7M4080 6876h7M4066 6836h7M4048 6949h7M4072 6930h7M4087 6876h7M4068 6959h7M4094 6862h7M4052 6776h7M4077 6922h7M4079 6963h7M4048 6965h7M4079 6971h7M4078 6905h7M4056 6814h7M4079 6822h7M4105 6723h7M4100 6937h7M4068 6721h7M4066 6954h7M4075 6764h7M4044 6876h7M4066 6910h7M4084 6679h7M4041 6686h7M4100 6948h7M4097 6692h7M4038 6923h7M4070 6916h7M4093 6894h7M4034 6803h7M4071 6864h7M4061 6938h7M4090 6884h7M4053 6884h7M4083 6896h7M4080 6773h7M4105 6948h7M4101 6843h7M4045 6841h7M4054 6924h7M4057 6754h7M4101 6922h7M4064 6866h7M4069 6904h7M4079 6806h7M4045 6914h7M4063 6807h7M4065 6840h7M4057 6896h7M4059 6777h7M4051 6736h7M4085 6937h7M4079 6895h7M4088 6786h7M4053 6810h7M4121 6716h7M4105 6761h7M4044 6960h7M4128 6862h7M4063 6958h7M4093 6729h7M4088 6968h7M4076 6795h7M4115 6768h7M4074 6912h7M4083 6765h7M4096 6824h7M4071 6767h7M4051 6719h7M4082 6832h7M4070 6880h7M4079 6809h7M4090 6772h7M4075 6833h7M4092 6793h7M4068 6748h7M4088 6973h7M4088 6962h7M4090 6721h7M4066 6811h7M4058 6908h7M4076 6963h7M4082 6712h7M4063 6903h7M4033 6884h7M4074 6726h7M4079 6762h7M4088 6905h7M4086 6717h7M4093 6897h7M4056 6757h7M4052 6870h7M4094 6937h7M4076 6735h7M4058 6953h7M4066 6863h7M4089 6817h7M4060 6844h7M4075 6806h7M4062 6964h7M4071 6796h7M4064 6811h7M4062 6940h7M4111 6903h7M4076 6932h7M4062 6840h7M4092 6974h7M4053 6896h7M4045 6767h7M4084 6892h7M4128 6963h7M4088 6910h7M4068 6893h7M4096 6820h7M4096 6923h7M4087 6854h7M4082 6812h7M4061 6843h7M4088 6944h7M4087 6857h7M4072 6720h7M4041 6917h7M4041 6764h7M4097 6707h7M4070 6824h7M4069 6797h7M4058 6770h7M4126 6890h7M4073 6822h7M4067 6852h7M4092 6798h7M4074 6842h7M4069 6867h7M4084 6804h7M4097 6866h7M4095 6922h7M4080 6903h7M4059 6938h7M4079 6848h7M4038 6809h7M4061 6941h7M4066 6920h7M4069 6884h7M4097 6862h7M4090 6813h7M4068 6914h7M4099 6765h7M4083 6919h7M4068 6818h7M4066 6846h7M4027 6812h7M4043 6830h7M4061 6754h7M4081 6971h7M4090 6857h7M4067 6887h7M4056 6938h7M4069 6807h7M4104 6918h7M4037 6658h7M4078 6795h7M4039 6934h7M4072 6809h7M4065 6715h7M4068 6923h7M4099 6919h7M4089 6970h7M4105 6819h7M4095 6810h7M4103 6922h7M4075 6804h7M4076 6877h7M4063 6910h7M4071 6914h7M4071 6850h7M4101 6938h7M4098 6960h7M4100 6899h7M4074 6807h7M4088 6789h7M4090 6882h7M4054 6752h7M4062 6915h7M4099 6892h7M4061 6786h7M4087 6872h7M4069 6867h7M4071 6818h7M4038 6969h7M4066 6788h7M4064 6831h7M4093 6785h7M4074 6969h7M4039 6850h7M4073 6842h7M4094 6849h7M4074 6811h7M4068 6772h7M4083 6843h7M4096 6912h7M4065 6858h7M4085 6875h7M4067 6874h7M4103 6796h7M4057 6915h7M4096 6933h7M4069 6856h7M4041 6732h7M4085 6897h7M4066 6840h7M4080 6797h7M4063 6821h7M4070 6820h7M4042 6776h7M4073 6893h7M4080 6790h7M4037 6839h7M4066 6841h7M4049 6814h7M4061 6905h7M4060 6874h7M4064 6865h7M4080 6871h7M4097 6878h7M4089 6876h7M4058 6844h7M4083 6857h7M4073 6794h7M4074 6880h7M4062 6825h7M4054 6965h7M4104 6881h7M4078 6847h7M4074 6956h7M4061 6862h7M4063 6950h7M4082 6799h7M4063 6838h7M4075 6824h7M4108 6939h7M4082 6946h7M4084 6820h7M4064 6896h7M4067 6744h7M4090 6922h7M4065 6798h7M4060 6789h7M4084 6805h7M4070 6904h7M4046 6883h7M4068 6904h7M4096 6878h7M4083 6922h7M4062 6859h7M4070 6868h7M4118 6895h7M4071 6930h7M4080 6818h7M4061 6861h7M4081 6948h7M4038 6937h7M4079 6907h7M4118 6919h7M4077 6816h7M4067 6868h7M4084 6909h7M4052 6941h7M4083 6673h7M4078 6892h7M4049 6759h7M4084 6923h7M4033 6954h7M4095 6890h7M4096 6846h7M4071 6791h7M4093 6915h7M4077 6853h7M4087 6965h7M4083 6776h7M4063 6881h7M4062 6860h7M4079 6826h7M4083 6926h7M4114 6884h7M4063 6860h7M4060 6847h7M4085 6813h7M4085 6846h7M4082 6844h7M4065 6880h7M4099 6882h7M4105 6890h7M4059 6819h7M4068 6840h7M4062 6894h7M4086 6852h7M4095 6911h7M4075 6871h7M4065 6886h7M4112 6900h7M4057 6892h7M4066 6857h7M4093 6872h7M4095 6834h7M4065 6961h7M4100 6871h7M4039 6900h7M4119 6754h7M4080 6848h7M4100 6893h7M4053 6862h7M4061 6809h7M4059 6850h7M4099 6872h7M4070 6848h7M4061 6917h7M4073 6914h7M4063 6923h7M4090 6845h7M4073 6701h7M4085 6866h7M4080 6727h7M4079 6897h7M4068 6887h7M4081 6814h7M4083 6955h7M4116 6799h7M4074 6822h7M4087 6832h7M4060 6855h7M4056 6872h7M4083 6868h7M4082 6838h7M4075 6792h7M4069 6895h7M4045 6917h7M4058 6839h7M4048 6825h7M4094 6783h7M4078 6840h7M4087 6861h7M4095 6926h7M4063 6973h7M4067 6778h7M4086 6733h7M4106 6896h7M4092 6829h7M4052 6810h7M4098 6875h7M4096 6811h7M4059 6829h7M4100 6861h7M4058 6932h7M4091 6842h7M4057 6878h7M4044 6810h7M4080 6720h7M4072 6937h7M4065 6899h7M4095 6922h7M4066 6924h7M4080 6933h7M4090 6950h7M4089 6892h7M4061 6857h7M4074 6815h7M4031 6890h7M4097 6764h7M4073 6794h7M4070 6836h7M4075 6852h7M4077 6878h7M4046 6871h7M4082 6960h7M4087 6779h7M4098 6790h7M4066 6835h7M4086 6810h7M4061 6824h7M4043 6968h7M4078 6827h7M4061 6729h7M4053 6802h7M4085 6916h7M4074 6748h7M4079 6834h7M4092 6856h7M4080 6913h7M4089 6933h7M4066 6880h7M4085 6884h7M4101 6958h7M4068 6843h7M4065 6884h7M4087 6790h7M4074 6814h7M4053 6920h7M4066 6821h7M4073 6942h7M4060 6803h7M4079 6941h7M4072 6800h7M4058 6863h7M4055 6839h7M4072 6818h7M4073 6779h7M4061 6809h7M4084 6868h7M4084 6944h7M4132 6854h7M4078 6834h7M4052 6785h7M4081 6941h7M4063 6866h7M4084 6808h7M4062 6791h7M4079 6872h7M4067 6860h7M4103 6964h7M4062 6862h7M4073 6824h7M4086 6816h7M4101 6718h7M4070 6941h7M4089 6912h7M4054 6847h7M4055 6726h7M4063 6842h7M4062 6845h7M4084 6729h7M4076 6788h7M4084 6772h7M4095 6895h7M4087 6896h7M4079 6915h7M4070 6904h7M4111 6917h7M4065 6874h7M4093 6819h7M4094 6943h7M4089 6858h7M4097 6767h7M4091 6918h7M4083 6766h7M4088 6884h7M4093 6846h7M4106 6936h7M4061 6892h7M4087 6781h7M4090 6869h7M4049 6945h7M4080 6778h7M4066 6897h7M4046 6889h7M4101 6902h7M4076 6847h7M4039 6836h7M4071 6887h7M4075 6904h7M4070 6956h7M4053 6895h7M4047 6802h7M4071 6910h7M3794 6828h7M3750 6896h7M3924 6628h7M4084 6907h7M3818 6849h7M4026 6642h7M3872 6566h7M3932 6622h7" stroke-opacity="0.5"/>
<path d="M3918 6959h7M3907 6948h7M3888 6928h7M3849 6920h7M3897 6948h7M3978 6961h7M3967 6946h7M3867 6948h7M3882 6916h7M3954 6919h7M3901 6911h7M3819 6923h7M3911 6943h7M3878 6957h7M3848 6949h7M3898 6951h7M3921 6955h7M3929 6973h7M4040 6944h7M3952 6943h7M3891 6939h7M3943 6941h7M3874 6956h7M3973 6897h7M3798 6964h7M4095 6934h7M4097 6899h7M4062 6866h7M4065 6863h7M4093 6948h7M4067 6703h7M4044 6786h7M4074 6964h7M4086 6934h7M4070 6742h7M4093 6968h7M4104 6928h7M4082 6968h7M4062 6869h7M4060 6792h7M4053 6804h7M4098 6896h7M4058 6825h7M4087 6931h7M4091 6885h7M4064 6767h7M4070 6812h7M4079 6743h7M4058 6873h7M4073 6922h7M4103 6959h7M4088 6896h7M4104 6738h7M4054 6902h7M4072 6803h7M4072 6819h7M4090 6942h7M4064 6860h7M4092 6947h7M4084 6877h7M4055 6885h7M4071 6941h7M4061 6751h7M4042 6843h7M4067 6847h7M4095 6962h7M4123 6723h7M4060 6821h7M4079 6742h7M4065 6800h7M4073 6780h7M4050 6763h7M4056 6695h7M4105 6727h7M4072 6895h7M4061 6956h7M4128 6753h7M4080 6899h7M4082 6780h7M4082 6901h7M4098 6931h7M4066 6932h7M4049 6731h7M4061 6699h7M4102 6684h7M4080 6953h7M4054 6872h7M4065 6926h7M4094 6899h7M4101 6868h7M4077 6944h7M4066 6805h7M4070 6880h7M4078 6916h7M4089 6946h7M4059 6922h7M4078 6842h7M4083 6888h7M4086 6875h7M4053 6868h7M4063 6926h7M4084 6832h7M4118 6887h7M4080 6894h7M4070 6917h7M4045 6806h7M4101 6839h7M4100 6725h7M4100 6894h7M4080 6829h7M4058 6882h7M4089 6799h7M4037 6923h7M4066 6850h7M4047 6884h7M4088 6933h7M4124 6889h7M4097 6857h7M4049 6870h7M4065 6923h7M4049 6912h7M4090 6942h7M4059 6932h7M4079 6940h7M4068 6915h7M4085 6935h7M4080 6870h7M4062 6860h7M4053 6854h7M4088 6907h7M4077 6805h7M4050 6895h7M4078 6959h7M4070 6821h7M4057 6797h7M4068 6737h7M4085 6811h7M4104 6861h7M4073 6911h7M4074 6934h7M4117 6881h7M4057 6849h7M4082 6858h7M4086 6909h7M4080 6946h7M4075 6874h7M4063 6938h7M4062 6851h7M4084 6862h7M4090 6840h7M4068 6901h7M4106 6962h7M4083 6928h7M4066 6911h7M4057 6777h7M4097 6839h7M4055 6784h7M4070 6836h7M4045 6767h7M4095 6718h7M4077 6804h7M4097 6846h7M4080 6834h7M4066 6816h7M4076 6914h7M4086 6728h7M4099 6905h7M4071 6891h7M4102 6784h7M4105 6834h7M4081 6934h7M4075 6845h7M4056 6902h7M4080 6910h7M4091 6871h7M4077 6892h7M4062 6831h7M4072 6876h7M4082 6810h7M4061 6786h7M4072 6805h7M4053 6717h7M4112 6826h7M4029 6889h7M4062 6907h7M4090 6881h7M4079 6894h7M4071 6822h7M4070 6795h7M4101 6842h7M4080 6874h7M4118 6747h7M4088 6866h7M4074 6919h7M4052 6849h7M4094 6847h7M4058 6965h7M4087 6854h7M4102 6892h7M4045 6825h7M4088 6917h7M4096 6938h7M4063 6776h7M4076 6842h7M4087 6855h7M4066 6782h7M4103 6887h7M4072 6930h7M4074 6930h7M4078 6876h7M4081 6837h7M4093 6805h7M4106 6711h7M4078 6833h7M4060 6747h7M4079 6868h7M4030 6935h7M4072 6716h7M4095 6765h7M4083 6802h7M4063 6806h7M4080 6856h7M4097 6914h7M4076 6858h7M4056 6819h7M4092 6823h7M4079 6890h7M4036 6900h7M4083 6956h7M4079 6833h7M4082 6919h7M4057 6840h7M4070 6969h7M4093 6816h7M4082 6875h7M4084 6833h7M4085 6771h7M4080 6853h7M4081 6936h7M4082 6937h7M4072 6804h7M4063 6780h7M4045 6953h7M4066 6791h7M4080 6843h7M4046 6872h7M4085 6897h7M4075 6939h7M4081 6901h7M4023 6945h7M4124 6896h7M4059 6951h7M4076 6941h7M4069 6820h7M4062 6907h7M4052 6804h7M4047 6969h7M4056 6861h7M4093 6903h7M4086 6918h7M4057 6836h7M4089 6787h7M4107 6761h7M4094 6829h7M4078 6883h7M4074 6856h7M4080 6809h7M4066 6919h7M4071 6775h7M4057 6796h7M4088 6832h7M4051 6881h7M4066 6852h7M4094 6866h7M4042 6876h7M4073 6868h7M4078 6799h7M4085 6814h7M4073 6836h7M4079 6914h7M4065 6786h7M4070 6763h7M4072 6905h7M4088 6905h7M4066 6913h7M4050 6834h7M4063 6963h7M4066 6802h7M4033 6805h7M3851 6956h7M3719 6782h7M4062 6843h7" stroke-opacity="0.75"/>
</g>
<rect x="359.6" y="650.6" width="56.6" height="47.4" fill="none" stroke="#9c9c9c" stroke-width="1"/>
<line x1="359.6" y1="663.8" x2="416.2" y2="663.8" stroke="#686868" stroke-width="0.8"/>
<line x1="401.7" y1="650.6" x2="401.7" y2="698" stroke="#686868" stroke-width="0.8"/>
<text font-size="10.4" font-weight="bold" transform="translate(364.5 662.3) scale(0.9960 1)">0.7</text>
<text font-size="10.4" font-weight="bold" transform="translate(364.5 693) scale(0.9881 1)">23.0</text>
<clipPath id="cp5"><rect x="422.5" y="650.6" width="56.3" height="47.4"/></clipPath>
<g clip-path="url(#cp5)"><g filter="url(#cloud)">
<ellipse cx="454" cy="697" rx="10" ry="3.2" fill="#000" fill-opacity="0.7"/>
<ellipse cx="470.2" cy="688" rx="2.0" ry="9" fill="#000" fill-opacity="0.7"/>
<ellipse cx="451.5" cy="678" rx="5" ry="16" fill="#000" fill-opacity="0.2"/>
</g></g>
<g filter="url(#soft)" stroke="#000" stroke-width="7.5" fill="none" transform="scale(0.1)">
<path d="M4555 6773h7M4520 6755h7M4502 6727h7M4530 6594h7M4426 6956h7M4498 6832h7M4472 6671h7M4537 6938h7M4446 6837h7M4450 6723h7M4502 6696h7M4450 6828h7M4584 6954h7M4576 6964h7M4574 6824h7M4475 6658h7M4453 6635h7M4534 6967h7M4511 6966h7M4474 6898h7M4486 6692h7M4478 6895h7M4484 6884h7M4551 6634h7M4469 6748h7M4481 6688h7M4470 6688h7M4587 6617h7M4475 6896h7M4552 6800h7M4551 6891h7M4571 6704h7M4517 6917h7M4508 6712h7M4482 6903h7M4593 6955h7M4456 6686h7M4562 6855h7M4516 6649h7M4500 6906h7M4524 6928h7M4456 6816h7M4564 6729h7M4504 6704h7M4517 6935h7M4557 6799h7M4537 6880h7M4560 6662h7M4558 6873h7M4503 6904h7M4494 6699h7M4553 6637h7M4512 6942h7M4537 6909h7M4580 6866h7M4490 6784h7M4505 6891h7M4537 6745h7M4525 6789h7M4512 6792h7M4515 6752h7M4528 6685h7M4518 6899h7M4563 6955h7M4510 6785h7M4502 6650h7M4470 6792h7M4527 6949h7M4535 6574h7M4552 6601h7M4490 6672h7M4468 6726h7M4556 6742h7M4532 6691h7M4482 6769h7M4563 6965h7M4581 6859h7M4518 6823h7M4551 6664h7M4534 6679h7M4579 6605h7M4481 6788h7M4511 6737h7M4573 6644h7M4518 6726h7M4504 6646h7M4457 6700h7M4539 6843h7M4510 6696h7M4505 6807h7M4523 6847h7M4529 6814h7M4548 6582h7M4539 6633h7M4567 6789h7M4462 6896h7M4620 6763h7M4553 6880h7M4555 6697h7M4469 6736h7M4564 6928h7M4535 6821h7M4502 6838h7M4453 6745h7M4567 6758h7M4569 6697h7M4472 6860h7M4541 6655h7M4544 6917h7M4486 6736h7M4532 6955h7M4508 6680h7M4464 6616h7M4479 6705h7M4529 6625h7M4504 6687h7M4516 6965h7M4511 6633h7M4516 6759h7M4591 6761h7M4554 6790h7M4503 6592h7M4522 6705h7M4529 6605h7M4556 6931h7M4580 6776h7M4444 6588h7M4460 6858h7M4584 6966h7M4529 6918h7M4567 6962h7M4513 6912h7M4610 6943h7M4597 6971h7M4474 6938h7M4651 6939h7M4595 6917h7M4515 6969h7M4526 6938h7M4493 6940h7M4576 6866h7M4585 6941h7M4438 6929h7M4558 6939h7M4622 6931h7M4440 6946h7M4420 6906h7M4522 6951h7M4493 6968h7M4493 6968h7M4501 6944h7M4543 6937h7M4589 6923h7M4550 6924h7M4570 6919h7M4548 6949h7M4665 6893h7M4572 6921h7M4553 6946h7M4522 6969h7M4540 6954h7M4485 6956h7M4508 6939h7M4526 6929h7M4547 6951h7M4530 6949h7M4458 6963h7M4566 6969h7M4605 6967h7M4563 6968h7M4492 6944h7M4465 6945h7M4491 6955h7M4599 6947h7M4632 6967h7M4602 6922h7M4597 6931h7M4474 6957h7M4539 6923h7M4516 6917h7M4449 6957h7M4675 6932h7M4437 6901h7M4585 6968h7M4564 6974h7M4637 6936h7M4709 6928h7M4637 6959h7M4471 6965h7M4673 6937h7M4444 6960h7M4710 6922h7M4378 6934h7M4542 6939h7M4547 6953h7M4519 6924h7M4574 6965h7M4514 6953h7M4484 6953h7M4529 6899h7M4509 6923h7M4568 6892h7M4547 6959h7M4529 6915h7M4583 6947h7M4627 6905h7M4632 6914h7M4486 6956h7M4435 6912h7M4542 6971h7M4653 6956h7M4737 6951h7M4565 6933h7M4560 6942h7M4470 6965h7M4477 6964h7M4498 6944h7M4515 6961h7M4594 6951h7M4489 6933h7M4541 6910h7M4515 6932h7M4676 6969h7M4568 6919h7M4669 6952h7M4600 6932h7M4639 6959h7M4529 6958h7M4551 6937h7M4514 6954h7M4486 6892h7M4526 6954h7M4511 6960h7M4520 6971h7M4610 6951h7M4574 6929h7M4673 6918h7M4740 6721h7M4678 6728h7M4685 6878h7M4683 6905h7M4701 6682h7M4707 6939h7M4673 6926h7M4689 6797h7M4713 6844h7M4648 6757h7M4751 6800h7M4716 6937h7M4690 6821h7M4694 6831h7M4704 6747h7M4706 6754h7M4712 6732h7M4720 6855h7M4680 6808h7M4713 6736h7M4672 6799h7M4723 6797h7M4662 6726h7M4733 6950h7M4693 6845h7M4684 6697h7M4726 6678h7M4717 6716h7M4691 6914h7M4668 6939h7M4710 6820h7M4723 6769h7M4734 6712h7M4725 6893h7M4754 6813h7M4686 6920h7M4695 6973h7M4706 6729h7M4695 6926h7M4694 6797h7M4694 6855h7M4684 6946h7M4683 6949h7M4713 6716h7M4702 6875h7M4677 6754h7M4680 6696h7M4708 6715h7M4684 6891h7M4714 6945h7M4701 6883h7M4700 6862h7M4709 6762h7M4709 6792h7M4709 6859h7M4718 6931h7M4720 6862h7M4692 6896h7M4699 6899h7M4723 6886h7M4694 6928h7M4720 6846h7M4678 6913h7M4710 6819h7M4709 6906h7M4657 6883h7M4715 6834h7M4699 6926h7M4695 6801h7M4693 6961h7M4716 6848h7M4673 6849h7M4730 6837h7M4701 6842h7M4704 6795h7M4685 6874h7M4725 6803h7M4704 6917h7M4687 6779h7M4720 6898h7M4700 6864h7M4703 6908h7M4690 6849h7M4698 6822h7M4677 6749h7M4710 6938h7M4698 6841h7M4715 6809h7M4708 6962h7M4712 6858h7M4688 6810h7M4718 6829h7M4709 6951h7M4659 6832h7M4710 6958h7M4681 6830h7M4716 6885h7M4660 6831h7M4697 6830h7M4682 6942h7M4691 6910h7M4698 6970h7M4740 6907h7M4710 6757h7M4695 6843h7M4702 6914h7M4692 6823h7M4711 6810h7M4690 6792h7M4692 6851h7M4690 6936h7M4685 6838h7M4705 6943h7M4711 6924h7M4702 6829h7M4726 6845h7M4736 6961h7M4693 6924h7M4705 6929h7M4687 6805h7M4681 6884h7M4705 6900h7M4670 6873h7M4728 6888h7M4694 6795h7M4708 6917h7M4716 6909h7M4699 6821h7M4696 6882h7M4673 6887h7M4714 6863h7M4679 6863h7M4699 6954h7M4730 6845h7M4689 6786h7M4719 6892h7M4713 6944h7M4677 6913h7M4708 6833h7M4689 6952h7M4715 6962h7M4715 6880h7M4735 6794h7M4706 6841h7M4699 6790h7M4701 6749h7M4695 6840h7M4719 6950h7M4682 6819h7M4699 6874h7M4704 6855h7M4704 6871h7M4712 6864h7M4702 6850h7M4693 6868h7M4702 6831h7M4703 6859h7M4715 6809h7M4729 6899h7M4690 6902h7M4441 6924h7M4703 6863h7M4285 6756h7" stroke-opacity="0.3"/>
<path d="M4556 6873h7M4537 6705h7M4538 6750h7M4531 6796h7M4553 6647h7M4471 6792h7M4508 6969h7M4437 6614h7M4549 6768h7M4521 6722h7M4522 6604h7M4609 6714h7M4518 6841h7M4466 6733h7M4556 6679h7M4456 6884h7M4555 6910h7M4464 6636h7M4492 6972h7M4515 6594h7M4547 6645h7M4466 6590h7M4478 6684h7M4460 6582h7M4566 6932h7M4436 6689h7M4535 6697h7M4518 6600h7M4536 6612h7M4494 6937h7M4501 6674h7M4534 6588h7M4485 6646h7M4485 6875h7M4514 6581h7M4520 6889h7M4527 6780h7M4501 6686h7M4483 6831h7M4467 6865h7M4527 6634h7M4533 6922h7M4606 6941h7M4515 6934h7M4490 6627h7M4627 6852h7M4532 6602h7M4467 6882h7M4541 6609h7M4630 6880h7M4481 6831h7M4426 6786h7M4509 6933h7M4569 6625h7M4493 6608h7M4465 6678h7M4527 6968h7M4585 6753h7M4469 6571h7M4482 6636h7M4465 6573h7M4509 6699h7M4502 6755h7M4564 6603h7M4428 6856h7M4542 6684h7M4476 6725h7M4462 6898h7M4524 6604h7M4554 6785h7M4616 6645h7M4424 6746h7M4535 6934h7M4551 6719h7M4470 6856h7M4549 6738h7M4562 6683h7M4531 6740h7M4484 6718h7M4482 6757h7M4435 6966h7M4491 6896h7M4460 6851h7M4547 6919h7M4425 6954h7M4419 6905h7M4535 6834h7M4488 6583h7M4484 6918h7M4527 6773h7M4533 6893h7M4522 6581h7M4513 6742h7M4546 6944h7M4529 6625h7M4498 6886h7M4468 6772h7M4547 6925h7M4492 6683h7M4506 6834h7M4475 6665h7M4597 6766h7M4573 6947h7M4488 6933h7M4560 6675h7M4452 6951h7M4499 6907h7M4482 6721h7M4535 6730h7M4513 6840h7M4572 6682h7M4493 6693h7M4498 6676h7M4521 6806h7M4502 6674h7M4551 6710h7M4481 6948h7M4587 6754h7M4530 6665h7M4498 6947h7M4519 6826h7M4574 6722h7M4445 6952h7M4531 6769h7M4595 6644h7M4506 6627h7M4539 6584h7M4550 6811h7M4535 6835h7M4534 6665h7M4469 6927h7M4613 6643h7M4569 6858h7M4501 6947h7M4574 6716h7M4506 6818h7M4527 6698h7M4549 6845h7M4516 6612h7M4520 6697h7M4451 6860h7M4496 6954h7M4464 6598h7M4558 6574h7M4557 6954h7M4494 6623h7M4516 6920h7M4505 6732h7M4484 6732h7M4537 6582h7M4480 6652h7M4534 6665h7M4518 6597h7M4489 6732h7M4541 6594h7M4513 6927h7M4583 6623h7M4563 6633h7M4494 6652h7M4498 6946h7M4547 6944h7M4547 6728h7M4525 6807h7M4487 6740h7M4580 6691h7M4523 6883h7M4456 6691h7M4448 6660h7M4528 6722h7M4469 6636h7M4613 6973h7M4517 6882h7M4493 6952h7M4522 6752h7M4538 6581h7M4520 6913h7M4528 6972h7M4501 6912h7M4529 6743h7M4502 6638h7M4439 6942h7M4540 6970h7M4568 6763h7M4526 6796h7M4503 6880h7M4511 6933h7M4558 6640h7M4555 6578h7M4491 6913h7M4488 6697h7M4510 6716h7M4562 6784h7M4448 6795h7M4610 6818h7M4571 6608h7M4535 6639h7M4432 6586h7M4548 6802h7M4497 6942h7M4557 6735h7M4428 6753h7M4519 6657h7M4507 6855h7M4587 6582h7M4590 6786h7M4540 6946h7M4596 6604h7M4574 6927h7M4535 6791h7M4463 6733h7M4482 6637h7M4584 6897h7M4487 6926h7M4576 6830h7M4524 6710h7M4569 6643h7M4489 6930h7M4592 6652h7M4506 6746h7M4472 6919h7M4573 6750h7M4508 6644h7M4465 6602h7M4559 6929h7M4560 6708h7M4606 6600h7M4496 6686h7M4455 6899h7M4480 6612h7M4490 6778h7M4521 6730h7M4534 6641h7M4484 6956h7M4592 6639h7M4403 6714h7M4507 6788h7M4514 6856h7M4487 6693h7M4494 6777h7M4637 6886h7M4587 6693h7M4498 6653h7M4460 6807h7M4538 6792h7M4529 6947h7M4540 6655h7M4508 6605h7M4471 6778h7M4496 6925h7M4527 6618h7M4510 6594h7M4596 6828h7M4523 6683h7M4405 6684h7M4467 6597h7M4518 6585h7M4447 6648h7M4523 6685h7M4466 6790h7M4462 6902h7M4523 6861h7M4467 6682h7M4571 6694h7M4535 6688h7M4492 6751h7M4438 6706h7M4530 6718h7M4430 6791h7M4516 6852h7M4520 6839h7M4488 6742h7M4498 6925h7M4516 6969h7M4602 6940h7M4504 6596h7M4510 6922h7M4422 6856h7M4494 6862h7M4496 6916h7M4538 6926h7M4542 6963h7M4573 6921h7M4597 6966h7M4499 6935h7M4510 6944h7M4498 6966h7M4558 6941h7M4507 6972h7M4517 6930h7M4479 6966h7M4639 6901h7M4532 6972h7M4519 6924h7M4531 6937h7M4511 6932h7M4508 6934h7M4512 6936h7M4604 6939h7M4564 6923h7M4607 6926h7M4482 6970h7M4601 6955h7M4514 6947h7M4497 6962h7M4563 6934h7M4469 6915h7M4530 6936h7M4499 6928h7M4540 6930h7M4573 6952h7M4591 6952h7M4543 6924h7M4556 6930h7M4568 6951h7M4464 6926h7M4499 6974h7M4434 6940h7M4585 6917h7M4489 6963h7M4411 6933h7M4448 6942h7M4562 6926h7M4453 6945h7M4605 6964h7M4540 6918h7M4546 6946h7M4564 6906h7M4609 6938h7M4553 6932h7M4631 6949h7M4537 6942h7M4588 6952h7M4532 6962h7M4410 6941h7M4495 6965h7M4600 6951h7M4690 6941h7M4481 6945h7M4547 6951h7M4457 6947h7M4595 6942h7M4437 6928h7M4520 6974h7M4565 6892h7M4551 6969h7M4547 6942h7M4528 6963h7M4579 6895h7M4583 6972h7M4378 6909h7M4559 6940h7M4510 6890h7M4483 6924h7M4428 6929h7M4669 6907h7M4497 6894h7M4618 6964h7M4665 6892h7M4575 6968h7M4638 6957h7M4557 6920h7M4448 6961h7M4597 6948h7M4535 6965h7M4529 6932h7M4275 6891h7M4540 6914h7M4506 6917h7M4516 6925h7M4544 6966h7M4534 6947h7M4458 6924h7M4429 6900h7M4604 6940h7M4582 6957h7M4598 6951h7M4451 6934h7M4462 6902h7M4557 6952h7M4641 6923h7M4525 6946h7M4441 6973h7M4590 6948h7M4560 6943h7M4480 6913h7M4479 6933h7M4580 6941h7M4624 6970h7M4419 6965h7M4474 6910h7M4465 6949h7M4480 6944h7M4646 6971h7M4508 6965h7M4587 6894h7M4459 6948h7M4497 6959h7M4628 6933h7M4582 6943h7M4425 6953h7M4553 6969h7M4456 6948h7M4496 6972h7M4593 6929h7M4607 6946h7M4647 6928h7M4579 6964h7M4481 6948h7M4524 6917h7M4633 6933h7M4628 6972h7M4509 6908h7M4558 6957h7M4647 6954h7M4568 6939h7M4538 6950h7M4638 6966h7M4515 6939h7M4456 6968h7M4485 6904h7M4482 6969h7M4459 6969h7M4456 6973h7M4619 6944h7M4554 6906h7M4480 6956h7M4496 6946h7M4495 6937h7M4445 6935h7M4582 6925h7M4636 6950h7M4492 6939h7M4569 6898h7M4592 6902h7M4502 6949h7M4583 6924h7M4545 6904h7M4557 6905h7M4571 6931h7M4558 6966h7M4622 6956h7M4647 6961h7M4562 6955h7M4565 6947h7M4564 6968h7M4381 6965h7M4546 6961h7M4532 6965h7M4488 6956h7M4626 6910h7M4559 6951h7M4624 6899h7M4614 6947h7M4498 6945h7M4465 6944h7M4599 6939h7M4570 6968h7M4485 6932h7M4550 6947h7M4441 6944h7M4526 6973h7M4621 6969h7M4538 6929h7M4639 6955h7M4524 6964h7M4534 6888h7M4574 6969h7M4544 6935h7M4630 6970h7M4572 6886h7M4587 6901h7M4621 6932h7M4539 6944h7M4593 6970h7M4455 6931h7M4547 6933h7M4587 6950h7M4697 6944h7M4637 6881h7M4443 6963h7M4532 6901h7M4577 6957h7M4419 6959h7M4557 6941h7M4627 6950h7M4575 6970h7M4497 6972h7M4559 6960h7M4539 6941h7M4502 6929h7M4531 6896h7M4598 6916h7M4526 6972h7M4450 6926h7M4551 6952h7M4491 6913h7M4493 6970h7M4491 6933h7M4575 6901h7M4563 6952h7M4506 6945h7M4475 6963h7M4682 6922h7M4503 6966h7M4555 6966h7M4535 6964h7M4664 6952h7M4435 6958h7M4557 6948h7M4573 6938h7M4699 6921h7M4607 6959h7M4717 6902h7M4537 6967h7M4513 6938h7M4435 6923h7M4465 6886h7M4425 6938h7M4612 6947h7M4595 6949h7M4467 6960h7M4692 6773h7M4709 6715h7M4706 6964h7M4694 6923h7M4735 6804h7M4690 6789h7M4718 6891h7M4714 6716h7M4704 6679h7M4677 6953h7M4721 6725h7M4711 6712h7M4713 6782h7M4724 6934h7M4693 6791h7M4735 6862h7M4729 6815h7M4702 6819h7M4693 6928h7M4697 6942h7M4740 6715h7M4701 6899h7M4726 6696h7M4733 6899h7M4707 6755h7M4697 6769h7M4724 6901h7M4696 6761h7M4668 6833h7M4697 6941h7M4719 6961h7M4699 6807h7M4741 6840h7M4684 6739h7M4680 6813h7M4715 6832h7M4699 6759h7M4727 6915h7M4690 6683h7M4711 6819h7M4695 6818h7M4728 6828h7M4725 6893h7M4716 6723h7M4657 6717h7M4707 6742h7M4672 6710h7M4707 6961h7M4700 6879h7M4697 6860h7M4736 6952h7M4699 6876h7M4712 6865h7M4711 6970h7M4692 6765h7M4677 6758h7M4682 6901h7M4742 6908h7M4736 6944h7M4710 6756h7M4677 6959h7M4708 6686h7M4677 6705h7M4712 6776h7M4673 6944h7M4738 6941h7M4714 6932h7M4709 6893h7M4706 6966h7M4707 6951h7M4708 6753h7M4705 6771h7M4717 6773h7M4708 6877h7M4682 6848h7M4678 6955h7M4705 6958h7M4719 6840h7M4689 6748h7M4689 6675h7M4713 6875h7M4715 6861h7M4693 6730h7M4699 6688h7M4694 6874h7M4681 6822h7M4714 6866h7M4709 6971h7M4703 6782h7M4709 6766h7M4704 6930h7M4692 6720h7M4689 6880h7M4704 6803h7M4703 6900h7M4704 6928h7M4717 6752h7M4697 6806h7M4718 6907h7M4702 6924h7M4691 6706h7M4706 6818h7M4677 6936h7M4693 6861h7M4721 6934h7M4700 6875h7M4689 6929h7M4713 6875h7M4686 6932h7M4717 6935h7M4674 6874h7M4676 6818h7M4703 6972h7M4717 6890h7M4695 6777h7M4696 6676h7M4697 6931h7M4677 6872h7M4712 6859h7M4707 6893h7M4739 6820h7M4668 6970h7M4690 6865h7M4697 6968h7M4718 6885h7M4700 6960h7M4682 6883h7M4670 6833h7M4706 6911h7M4730 6933h7M4690 6828h7M4686 6907h7M4688 6741h7M4722 6882h7M4683 6848h7M4700 6779h7M4717 6929h7M4708 6870h7M4702 6766h7M4699 6928h7M4721 6780h7M4707 6848h7M4734 6908h7M4680 6906h7M4665 6939h7M4688 6898h7M4723 6839h7M4698 6854h7M4697 6884h7M4707 6936h7M4685 6901h7M4735 6891h7M4713 6921h7M4681 6871h7M4739 6841h7M4701 6813h7M4695 6966h7M4707 6790h7M4709 6884h7M4713 6908h7M4690 6898h7M4695 6927h7M4709 6869h7M4679 6931h7M4685 6933h7M4724 6861h7M4702 6758h7M4693 6957h7M4719 6950h7M4708 6883h7M4692 6919h7M4700 6763h7M4709 6905h7M4701 6856h7M4693 6907h7M4702 6916h7M4689 6926h7M4709 6945h7M4694 6875h7M4693 6829h7M4712 6941h7M4716 6746h7M4695 6905h7M4728 6927h7M4714 6789h7M4689 6891h7M4715 6775h7M4712 6936h7M4691 6869h7M4716 6941h7M4691 6831h7M4692 6835h7M4693 6892h7M4681 6870h7M4731 6756h7M4712 6918h7M4720 6854h7M4663 6834h7M4715 6812h7M4680 6823h7M4743 6818h7M4683 6879h7M4703 6948h7M4710 6842h7M4697 6762h7M4679 6842h7M4699 6930h7M4702 6815h7M4700 6810h7M4719 6774h7M4694 6880h7M4706 6849h7M4684 6894h7M4698 6837h7M4712 6960h7M4695 6839h7M4721 6920h7M4702 6861h7M4705 6852h7M4701 6837h7M4709 6933h7M4685 6935h7M4697 6877h7M4712 6930h7M4720 6899h7M4688 6841h7M4714 6855h7M4686 6800h7M4690 6887h7M4706 6928h7M4685 6878h7M4698 6873h7M4643 6813h7M4714 6742h7M4690 6894h7M4681 6773h7M4713 6880h7M4701 6814h7M4713 6881h7M4695 6838h7M4702 6959h7M4713 6858h7M4700 6892h7M4709 6908h7M4730 6846h7M4706 6827h7M4679 6837h7M4719 6797h7M4696 6904h7M4696 6804h7M4701 6895h7M4695 6911h7M4714 6901h7M4701 6774h7M4696 6915h7M4683 6878h7M4712 6946h7M4714 6831h7M4659 6920h7M4707 6822h7M4694 6920h7M4703 6829h7M4708 6881h7M4699 6798h7M4687 6905h7M4698 6823h7M4694 6892h7M4709 6949h7M4720 6839h7M4688 6941h7M4689 6850h7M4702 6858h7M4716 6912h7M4721 6789h7M4733 6816h7M4703 6863h7M4705 6838h7M4715 6871h7M4724 6808h7M4705 6911h7M4723 6909h7M4703 6812h7M4684 6934h7M4714 6837h7M4686 6878h7M4713 6923h7M4684 6942h7M4723 6955h7M4720 6899h7M4705 6905h7M4722 6866h7M4721 6697h7M4743 6851h7M4697 6904h7M4703 6902h7M4726 6790h7M4676 6857h7M4659 6877h7M4671 6896h7M4701 6858h7M4707 6912h7M4695 6878h7M4671 6966h7M4726 6949h7M4709 6940h7M4723 6895h7M4670 6887h7M4700 6818h7M4709 6892h7M4687 6891h7M4727 6953h7M4716 6780h7M4694 6791h7M4719 6920h7M4709 6844h7M4731 6845h7M4683 6867h7M4714 6930h7M4676 6794h7M4709 6944h7M4665 6717h7M4731 6931h7M4720 6913h7M4725 6716h7M4703 6899h7M4705 6879h7M4727 6876h7M4682 6813h7M4702 6871h7M4691 6831h7M4710 6841h7M4710 6863h7M4679 6854h7M4718 6942h7M4694 6875h7M4689 6905h7M4716 6914h7M4693 6818h7M4725 6886h7M4710 6887h7M4713 6852h7M4726 6894h7M4720 6838h7M4713 6832h7M4695 6812h7M4712 6898h7M4725 6858h7M4687 6876h7M4702 6844h7M4697 6958h7M4700 6822h7M4716 6961h7M4700 6869h7M4698 6841h7M4685 6736h7M4715 6860h7M4708 6968h7M4668 6966h7M4717 6943h7M4707 6810h7M4737 6926h7M4675 6834h7M4663 6817h7M4699 6818h7M4715 6931h7M4693 6900h7M4684 6855h7M4707 6792h7M4679 6910h7M4708 6869h7M4698 6854h7M4691 6799h7M4705 6859h7M4707 6894h7M4658 6926h7M4697 6822h7M4701 6847h7M4701 6829h7M4709 6920h7M4721 6824h7M4692 6924h7M4704 6877h7M4708 6852h7M4688 6955h7M4605 6690h7M4477 6774h7M4678 6777h7M4464 6965h7M4400 6703h7M4737 6562h7M4535 6763h7M4333 6861h7M4601 6640h7" stroke-opacity="0.5"/>
<path d="M4423 6858h7M4488 6916h7M4492 6718h7M4504 6749h7M4480 6874h7M4530 6679h7M4506 6884h7M4479 6615h7M4498 6938h7M4517 6581h7M4461 6812h7M4463 6827h7M4457 6573h7M4479 6953h7M4428 6773h7M4437 6842h7M4448 6931h7M4540 6712h7M4561 6611h7M4481 6579h7M4548 6937h7M4497 6903h7M4524 6789h7M4511 6604h7M4471 6661h7M4532 6661h7M4547 6874h7M4523 6895h7M4477 6578h7M4480 6792h7M4544 6696h7M4529 6797h7M4583 6734h7M4519 6727h7M4565 6850h7M4518 6629h7M4600 6865h7M4513 6667h7M4570 6906h7M4573 6813h7M4505 6585h7M4545 6950h7M4478 6631h7M4534 6974h7M4492 6794h7M4501 6662h7M4508 6693h7M4595 6905h7M4516 6583h7M4469 6693h7M4489 6839h7M4498 6924h7M4588 6700h7M4500 6590h7M4516 6752h7M4503 6945h7M4536 6612h7M4551 6762h7M4463 6631h7M4471 6968h7M4544 6694h7M4602 6790h7M4496 6797h7M4550 6641h7M4458 6949h7M4493 6783h7M4453 6687h7M4609 6970h7M4524 6587h7M4598 6634h7M4523 6698h7M4553 6707h7M4548 6687h7M4546 6588h7M4489 6802h7M4496 6685h7M4563 6777h7M4471 6760h7M4516 6642h7M4534 6951h7M4506 6648h7M4497 6847h7M4528 6714h7M4522 6791h7M4499 6655h7M4604 6930h7M4543 6855h7M4544 6931h7M4522 6626h7M4508 6953h7M4501 6879h7M4558 6576h7M4566 6791h7M4461 6885h7M4487 6881h7M4558 6918h7M4475 6574h7M4480 6936h7M4516 6645h7M4492 6799h7M4495 6607h7M4523 6961h7M4497 6929h7M4502 6631h7M4571 6636h7M4515 6670h7M4566 6805h7M4510 6855h7M4572 6770h7M4583 6576h7M4527 6684h7M4496 6885h7M4528 6667h7M4439 6758h7M4472 6939h7M4542 6723h7M4512 6880h7M4502 6745h7M4518 6810h7M4517 6830h7M4515 6925h7M4502 6723h7M4521 6728h7M4493 6588h7M4476 6777h7M4474 6775h7M4521 6590h7M4529 6947h7M4502 6652h7M4553 6908h7M4556 6919h7M4511 6629h7M4550 6808h7M4467 6700h7M4481 6686h7M4587 6922h7M4440 6697h7M4570 6895h7M4544 6939h7M4495 6967h7M4584 6960h7M4507 6969h7M4529 6897h7M4455 6914h7M4579 6944h7M4564 6922h7M4529 6903h7M4639 6968h7M4547 6938h7M4386 6896h7M4452 6909h7M4462 6966h7M4526 6966h7M4457 6942h7M4634 6956h7M4582 6966h7M4622 6960h7M4434 6935h7M4634 6966h7M4472 6957h7M4616 6970h7M4704 6939h7M4590 6967h7M4543 6914h7M4573 6903h7M4406 6918h7M4523 6972h7M4528 6973h7M4422 6953h7M4541 6934h7M4573 6973h7M4685 6960h7M4528 6943h7M4633 6968h7M4484 6951h7M4556 6932h7M4581 6913h7M4510 6930h7M4505 6940h7M4549 6942h7M4555 6969h7M4614 6917h7M4623 6875h7M4627 6950h7M4522 6959h7M4546 6945h7M4446 6918h7M4597 6948h7M4376 6961h7M4419 6935h7M4544 6917h7M4612 6928h7M4674 6970h7M4478 6952h7M4585 6924h7M4543 6940h7M4548 6901h7M4500 6959h7M4557 6929h7M4580 6924h7M4562 6909h7M4662 6956h7M4543 6913h7M4390 6930h7M4402 6957h7M4563 6967h7M4521 6916h7M4421 6968h7M4591 6969h7M4459 6958h7M4609 6952h7M4536 6940h7M4615 6956h7M4469 6962h7M4598 6930h7M4472 6934h7M4755 6893h7M4569 6940h7M4513 6960h7M4642 6951h7M4560 6958h7M4606 6910h7M4486 6933h7M4511 6950h7M4589 6940h7M4588 6969h7M4616 6967h7M4738 6963h7M4600 6915h7M4597 6947h7M4506 6967h7M4687 6951h7M4425 6917h7M4535 6945h7M4526 6926h7M4507 6960h7M4537 6972h7M4500 6910h7M4577 6919h7M4699 6906h7M4600 6864h7M4538 6947h7M4574 6946h7M4670 6972h7M4420 6952h7M4535 6969h7M4527 6931h7M4631 6949h7M4562 6956h7M4480 6937h7M4448 6921h7M4376 6915h7M4640 6955h7M4482 6952h7M4548 6944h7M4592 6954h7M4454 6966h7M4700 6891h7M4534 6964h7M4597 6967h7M4424 6953h7M4433 6970h7M4556 6958h7M4496 6949h7M4603 6966h7M4456 6964h7M4625 6923h7M4471 6916h7M4463 6937h7M4553 6973h7M4503 6969h7M4528 6930h7M4559 6927h7M4562 6949h7M4670 6904h7M4671 6921h7M4512 6904h7M4593 6946h7M4669 6846h7M4684 6806h7M4702 6939h7M4693 6958h7M4718 6929h7M4711 6713h7M4690 6852h7M4740 6814h7M4724 6802h7M4726 6732h7M4711 6911h7M4684 6744h7M4699 6899h7M4725 6808h7M4708 6820h7M4712 6828h7M4665 6849h7M4708 6775h7M4673 6747h7M4733 6786h7M4688 6901h7M4649 6927h7M4697 6969h7M4735 6938h7M4704 6964h7M4719 6865h7M4711 6756h7M4720 6944h7M4735 6849h7M4685 6727h7M4693 6900h7M4700 6723h7M4697 6762h7M4689 6960h7M4698 6753h7M4694 6729h7M4688 6941h7M4693 6909h7M4715 6815h7M4663 6900h7M4720 6895h7M4713 6798h7M4713 6897h7M4741 6972h7M4675 6884h7M4714 6966h7M4681 6912h7M4707 6878h7M4724 6914h7M4678 6697h7M4703 6872h7M4729 6969h7M4668 6766h7M4713 6839h7M4721 6883h7M4662 6694h7M4706 6895h7M4685 6793h7M4719 6870h7M4716 6841h7M4742 6741h7M4686 6780h7M4698 6832h7M4719 6816h7M4690 6886h7M4725 6912h7M4676 6773h7M4699 6832h7M4723 6921h7M4722 6871h7M4681 6879h7M4733 6911h7M4703 6970h7M4683 6812h7M4715 6863h7M4670 6925h7M4706 6824h7M4688 6892h7M4721 6866h7M4718 6833h7M4698 6860h7M4693 6859h7M4692 6899h7M4712 6873h7M4707 6903h7M4662 6911h7M4718 6872h7M4700 6887h7M4726 6870h7M4732 6802h7M4712 6773h7M4685 6880h7M4704 6807h7M4709 6809h7M4705 6902h7M4690 6907h7M4687 6752h7M4692 6914h7M4706 6805h7M4698 6901h7M4694 6852h7M4708 6962h7M4697 6872h7M4708 6902h7M4722 6713h7M4728 6881h7M4716 6816h7M4673 6933h7M4712 6820h7M4740 6838h7M4710 6875h7M4724 6859h7M4715 6969h7M4731 6948h7M4706 6908h7M4709 6760h7M4726 6892h7M4716 6864h7M4704 6759h7M4689 6876h7M4714 6844h7M4703 6971h7M4683 6869h7M4685 6818h7M4725 6828h7M4708 6855h7M4703 6925h7M4701 6907h7M4717 6795h7M4686 6870h7M4698 6845h7M4671 6893h7M4720 6883h7M4703 6949h7M4693 6912h7M4678 6887h7M4700 6864h7M4723 6885h7M4722 6765h7M4716 6937h7M4661 6900h7M4700 6784h7M4716 6842h7M4686 6959h7M4727 6965h7M4704 6927h7M4699 6792h7M4697 6943h7M4683 6817h7M4669 6969h7M4717 6835h7M4725 6931h7M4688 6883h7M4711 6899h7M4667 6922h7M4717 6797h7M4703 6902h7M4706 6911h7M4673 6908h7M4679 6923h7M4687 6876h7M4715 6909h7M4668 6837h7M4715 6811h7M4712 6944h7M4710 6967h7M4684 6873h7M4686 6848h7M4699 6941h7M4674 6850h7M4719 6786h7M4687 6942h7M4706 6938h7M4714 6883h7M4702 6876h7M4708 6911h7M4679 6955h7M4727 6849h7M4735 6928h7M4694 6809h7M4704 6907h7M4719 6877h7M4735 6949h7M4727 6807h7M4484 6646h7M4400 6579h7" stroke-opacity="0.75"/>
</g>
<rect x="422.5" y="650.6" width="56.3" height="47.4" fill="none" stroke="#9c9c9c" stroke-width="1"/>
<line x1="422.5" y1="663.8" x2="478.8" y2="663.8" stroke="#686868" stroke-width="0.8"/>
<line x1="464.5" y1="650.6" x2="464.5" y2="698" stroke="#686868" stroke-width="0.8"/>
<text font-size="10.4" font-weight="bold" transform="translate(428 662.3) scale(0.9960 1)">2.6</text>
<text font-size="10.4" font-weight="bold" transform="translate(428 693) scale(0.9881 1)">60.9</text>
<clipPath id="cp6"><rect x="359.6" y="704.7" width="56.6" height="47.1"/></clipPath>
<g clip-path="url(#cp6)"><g filter="url(#cloud)">
<ellipse cx="390" cy="751" rx="9" ry="3.5" fill="#000" fill-opacity="0.55"/>
<ellipse cx="407" cy="739" rx="1.7" ry="8.5" fill="#000" fill-opacity="0.65"/>
<ellipse cx="387.5" cy="728" rx="5" ry="18" fill="#000" fill-opacity="0.15"/>
</g></g>
<g filter="url(#soft)" stroke="#000" stroke-width="7.5" fill="none" transform="scale(0.1)">
<path d="M3931 7270h7M3892 7342h7M3849 7484h7M3798 7230h7M3898 7082h7M3873 7373h7M3782 7405h7M3867 7410h7M3856 7331h7M3872 7084h7M3944 7430h7M3984 7224h7M3920 7203h7M3891 7437h7M3815 7491h7M3901 7182h7M3803 7227h7M3879 7381h7M3834 7442h7M3878 7340h7M3850 7487h7M3957 7165h7M3861 7410h7M3870 7067h7M3839 7423h7M3894 7468h7M3854 7255h7M3811 7290h7M3855 7193h7M3834 7354h7M3802 7471h7M3918 7347h7M3877 7141h7M3828 7451h7M3866 7226h7M3877 7167h7M3900 7375h7M3896 7291h7M3846 7505h7M3888 7148h7M3835 7505h7M3814 7098h7M3903 7358h7M3899 7091h7M3851 7443h7M3825 7302h7M3896 7367h7M3829 7224h7M3866 7293h7M3901 7128h7M3878 7230h7M3880 7174h7M3869 7271h7M3866 7146h7M3872 7208h7M3851 7436h7M3874 7338h7M3893 7102h7M3841 7343h7M3905 7360h7M3920 7505h7M3866 7391h7M3889 7366h7M3926 7349h7M3845 7206h7M3912 7404h7M3849 7354h7M3915 7220h7M3836 7109h7M3867 7076h7M3827 7107h7M3825 7384h7M3854 7327h7M3923 7507h7M3865 7287h7M3864 7402h7M3901 7199h7M3871 7409h7M3800 7453h7M3881 7126h7M3851 7433h7M3857 7189h7M3895 7070h7M3895 7506h7M3844 7425h7M3953 7391h7M3900 7383h7M3946 7306h7M3879 7509h7M3792 7415h7M3824 7359h7M3886 7490h7M3940 7356h7M3868 7365h7M3884 7144h7M3833 7444h7M3882 7115h7M3871 7200h7M3907 7318h7M3902 7365h7M3905 7295h7M3797 7406h7M3889 7401h7M3794 7187h7M3901 7072h7M3860 7235h7M3838 7321h7M3876 7071h7M3902 7221h7M3867 7451h7M3854 7336h7M3805 7197h7M3976 7154h7M3859 7505h7M4023 7487h7M3876 7472h7M3975 7488h7M3931 7466h7M3893 7448h7M3908 7477h7M3926 7501h7M3884 7468h7M3868 7471h7M4003 7475h7M3956 7497h7M3952 7491h7M3960 7476h7M3855 7497h7M3720 7505h7M3951 7493h7M3837 7444h7M3868 7456h7M3821 7489h7M3894 7491h7M4027 7490h7M3863 7492h7M4022 7477h7M3861 7501h7M3919 7488h7M3918 7472h7M3873 7505h7M3849 7417h7M3913 7482h7M3842 7471h7M3931 7500h7M3823 7486h7M3858 7436h7M3870 7437h7M3952 7387h7M3913 7506h7M3825 7458h7M3946 7468h7M4044 7509h7M3925 7496h7M3886 7448h7M3902 7505h7M3886 7478h7M4026 7484h7M3941 7435h7M3847 7495h7M3878 7499h7M3830 7510h7M3952 7465h7M3793 7420h7M3881 7476h7M3970 7474h7M3927 7499h7M3957 7504h7M3785 7503h7M3922 7436h7M4066 7505h7M3860 7464h7M3902 7449h7M3927 7390h7M3955 7460h7M3807 7478h7M3954 7481h7M3909 7450h7M3906 7506h7M3784 7465h7M3864 7478h7M3902 7505h7M4003 7417h7M3873 7481h7M3913 7481h7M3767 7497h7M3816 7504h7M3946 7492h7M3871 7495h7M3803 7479h7M4098 7449h7M4090 7458h7M4083 7349h7M4044 7280h7M4055 7269h7M4082 7277h7M4065 7449h7M4087 7215h7M4068 7467h7M4101 7435h7M4022 7226h7M4056 7417h7M4058 7473h7M4066 7429h7M4115 7351h7M4113 7415h7M4056 7363h7M4050 7390h7M4010 7319h7M4084 7277h7M4047 7453h7M4055 7386h7M4065 7468h7M4081 7354h7M4052 7281h7M4076 7290h7M4071 7393h7M4079 7480h7M4048 7460h7M4034 7500h7M4051 7501h7M4060 7493h7M4098 7458h7M4073 7502h7M4043 7352h7M4064 7215h7M4063 7320h7M4050 7323h7M4064 7437h7M4088 7262h7M4061 7270h7M4041 7213h7M4083 7265h7M4034 7243h7M4102 7409h7M4044 7336h7M4051 7315h7M4103 7401h7M4060 7369h7M4087 7331h7M4087 7326h7M4077 7435h7M4057 7356h7M4041 7388h7M4088 7431h7M4070 7366h7M4071 7420h7M4070 7410h7M4102 7372h7M4085 7293h7M4083 7381h7M4052 7301h7M4051 7428h7M4059 7334h7M4074 7370h7M4038 7337h7M4068 7298h7M4049 7415h7M4064 7364h7M4078 7427h7M4047 7270h7M4090 7348h7M4078 7390h7M4072 7375h7M4064 7343h7M4057 7424h7M4063 7393h7M4027 7379h7M4094 7467h7M4062 7341h7M4068 7411h7M4058 7354h7M4076 7402h7M4049 7450h7M4084 7335h7M4095 7472h7M4068 7401h7M4087 7415h7M4055 7406h7M4066 7417h7M4053 7385h7M4071 7323h7M4062 7387h7M4054 7420h7M4061 7405h7M4087 7354h7M4066 7461h7M4058 7439h7M4078 7348h7M4066 7375h7M4072 7414h7M4046 7263h7M4058 7321h7M4077 7372h7M4052 7384h7M4062 7391h7M4069 7371h7M4086 7324h7M4062 7477h7M4077 7326h7M4073 7367h7M4059 7396h7M4064 7415h7M4075 7490h7M4083 7318h7M4088 7340h7M4072 7442h7M4064 7370h7M4050 7340h7M4073 7358h7M4045 7269h7M4065 7271h7M4063 7395h7M4063 7390h7M4060 7377h7M4075 7431h7M4060 7445h7M4039 7411h7M4092 7330h7M4081 7384h7M4056 7388h7M4056 7352h7M4064 7439h7M4078 7342h7M4080 7352h7M4090 7410h7M4078 7382h7M4080 7350h7M4071 7392h7M4077 7415h7M4044 7469h7M4067 7263h7M4102 7370h7M4059 7449h7M4083 7341h7M4045 7339h7M4042 7395h7M4039 7397h7M4077 7326h7M4065 7427h7M4057 7370h7M4065 7454h7M4036 7408h7M4063 7370h7M4080 7421h7M4091 7337h7M4091 7319h7M4079 7434h7M4054 7249h7M4069 7383h7M4055 7352h7M4114 7492h7M4059 7317h7M4052 7445h7M4069 7321h7M4042 7403h7M4078 7394h7M4076 7341h7M4067 7490h7M3995 7183h7M3877 7296h7M3636 7263h7M3714 7261h7M3859 7192h7" stroke-opacity="0.3"/>
<path d="M3898 7221h7M3786 7159h7M3890 7346h7M3991 7455h7M3897 7143h7M3873 7405h7M3864 7124h7M3919 7275h7M3927 7456h7M3818 7133h7M3921 7254h7M3857 7449h7M3891 7123h7M3924 7385h7M3858 7300h7M3915 7360h7M3837 7140h7M3912 7483h7M3822 7258h7M3843 7347h7M3917 7108h7M3889 7315h7M3906 7397h7M3891 7393h7M3866 7386h7M3928 7123h7M3869 7165h7M3902 7195h7M3936 7423h7M3872 7234h7M3870 7510h7M3983 7273h7M3853 7419h7M3808 7132h7M3848 7273h7M3861 7189h7M3849 7299h7M3872 7369h7M3882 7492h7M3885 7503h7M3837 7213h7M3763 7503h7M3889 7487h7M3886 7140h7M3881 7101h7M3922 7473h7M3866 7276h7M3878 7118h7M3837 7100h7M3850 7141h7M3820 7260h7M3878 7272h7M3869 7265h7M3896 7510h7M3890 7243h7M3861 7464h7M3918 7255h7M3873 7383h7M3856 7267h7M3872 7493h7M3854 7080h7M3921 7108h7M3867 7373h7M3828 7243h7M3867 7311h7M3839 7482h7M3795 7116h7M3895 7348h7M3870 7356h7M3904 7364h7M3848 7182h7M3952 7224h7M3832 7333h7M3889 7144h7M3919 7426h7M3831 7247h7M3852 7273h7M3853 7280h7M3891 7228h7M3882 7217h7M3902 7501h7M3890 7099h7M3834 7414h7M3849 7132h7M3883 7277h7M3886 7101h7M3849 7491h7M3807 7444h7M3829 7279h7M3818 7325h7M3934 7079h7M3816 7149h7M3805 7260h7M3869 7104h7M3857 7299h7M3953 7419h7M3977 7074h7M3838 7100h7M3862 7447h7M3903 7466h7M3859 7102h7M3912 7330h7M3861 7341h7M3902 7119h7M3833 7104h7M3869 7205h7M3812 7121h7M3841 7167h7M3891 7489h7M3889 7200h7M3941 7395h7M3840 7136h7M3919 7401h7M3843 7433h7M3845 7350h7M3849 7323h7M3861 7503h7M3897 7480h7M3912 7346h7M3903 7135h7M3885 7071h7M3891 7400h7M3954 7352h7M3961 7397h7M3790 7246h7M3867 7244h7M3942 7326h7M3844 7087h7M3917 7148h7M3897 7349h7M3866 7238h7M3864 7395h7M3838 7418h7M3885 7394h7M3964 7420h7M3934 7191h7M3875 7202h7M3923 7217h7M3961 7255h7M3888 7460h7M3810 7161h7M3890 7482h7M3916 7431h7M3804 7296h7M3906 7275h7M3907 7227h7M3869 7420h7M3876 7303h7M3915 7454h7M3861 7202h7M3842 7336h7M3927 7312h7M3965 7220h7M3903 7206h7M3859 7133h7M3795 7435h7M3906 7266h7M3889 7233h7M3836 7365h7M3895 7313h7M3911 7447h7M3921 7131h7M3914 7109h7M3861 7479h7M3924 7339h7M3878 7209h7M3911 7178h7M3900 7486h7M3850 7413h7M3793 7123h7M3831 7210h7M3858 7296h7M3848 7105h7M3934 7430h7M3848 7387h7M3960 7381h7M3861 7150h7M3899 7171h7M3756 7345h7M3893 7238h7M3881 7489h7M3863 7245h7M3846 7105h7M3869 7091h7M3873 7379h7M3888 7220h7M3886 7307h7M3877 7286h7M3840 7425h7M3879 7326h7M3840 7117h7M3886 7119h7M3892 7447h7M3861 7247h7M3802 7296h7M3881 7134h7M3785 7232h7M3908 7320h7M3805 7220h7M3898 7431h7M3823 7400h7M3782 7306h7M3915 7243h7M3843 7174h7M3858 7246h7M3849 7511h7M3843 7499h7M3918 7431h7M3883 7403h7M3800 7162h7M3881 7159h7M3943 7221h7M3846 7224h7M3824 7386h7M3905 7369h7M3882 7276h7M3891 7477h7M3835 7194h7M3911 7290h7M3918 7486h7M3864 7470h7M3905 7376h7M3935 7482h7M3931 7221h7M3827 7506h7M3858 7215h7M3863 7188h7M3935 7454h7M3863 7168h7M3909 7370h7M4069 7482h7M3941 7488h7M3949 7507h7M3915 7475h7M3869 7461h7M3826 7498h7M3844 7467h7M3866 7458h7M3708 7508h7M3916 7456h7M3926 7499h7M3934 7454h7M3822 7494h7M3880 7482h7M3791 7505h7M3961 7492h7M3992 7438h7M3817 7475h7M4023 7508h7M3857 7466h7M3852 7450h7M3851 7497h7M3820 7456h7M3982 7453h7M4039 7469h7M3957 7483h7M3863 7504h7M4008 7433h7M3997 7472h7M3873 7452h7M3978 7496h7M4021 7500h7M3841 7500h7M3701 7477h7M3711 7506h7M3915 7491h7M3896 7498h7M3953 7491h7M4003 7486h7M3831 7509h7M3971 7438h7M3866 7506h7M3910 7449h7M3897 7503h7M3948 7477h7M4010 7457h7M3789 7484h7M3923 7470h7M4004 7474h7M3937 7505h7M3923 7501h7M3836 7476h7M3912 7472h7M3913 7492h7M3903 7459h7M3888 7479h7M3965 7464h7M3899 7478h7M3939 7508h7M3836 7491h7M3929 7463h7M3925 7504h7M3968 7431h7M3828 7478h7M3857 7483h7M3854 7478h7M3889 7474h7M3818 7442h7M3904 7491h7M3921 7494h7M3964 7509h7M3954 7497h7M3640 7466h7M3938 7465h7M3898 7461h7M3849 7503h7M3942 7502h7M3928 7451h7M3790 7464h7M3978 7434h7M3839 7471h7M3903 7500h7M3876 7411h7M3930 7482h7M3947 7459h7M3952 7505h7M3889 7491h7M3824 7467h7M4003 7454h7M3780 7492h7M3806 7509h7M3810 7496h7M3872 7482h7M3917 7510h7M3949 7457h7M3871 7474h7M3930 7495h7M3914 7482h7M4033 7507h7M4002 7489h7M3771 7479h7M3844 7495h7M3872 7484h7M3920 7483h7M3909 7459h7M3878 7472h7M3923 7431h7M3912 7425h7M3850 7494h7M3957 7499h7M3947 7494h7M3805 7466h7M3917 7512h7M3808 7462h7M3845 7464h7M3980 7463h7M3861 7487h7M3898 7456h7M3843 7495h7M3906 7450h7M4041 7506h7M3853 7507h7M3826 7502h7M3883 7492h7M3922 7411h7M3904 7433h7M3797 7494h7M3922 7511h7M3936 7505h7M3973 7454h7M3945 7486h7M3860 7476h7M3842 7482h7M3892 7492h7M3908 7486h7M3940 7476h7M3910 7511h7M3879 7509h7M3885 7512h7M3799 7465h7M3936 7500h7M4076 7436h7M4053 7230h7M4066 7404h7M4035 7462h7M4061 7389h7M4059 7227h7M4064 7284h7M4059 7469h7M4073 7494h7M4057 7478h7M4078 7449h7M4086 7445h7M4086 7231h7M4064 7271h7M4066 7508h7M4075 7243h7M4060 7495h7M4088 7431h7M4067 7404h7M4044 7374h7M4070 7292h7M4069 7507h7M4079 7359h7M4067 7432h7M4081 7417h7M4096 7471h7M4104 7383h7M4060 7227h7M4069 7478h7M4063 7415h7M4042 7328h7M4072 7211h7M4049 7420h7M4068 7404h7M4061 7390h7M4075 7231h7M4068 7385h7M4078 7440h7M4091 7441h7M4041 7224h7M4091 7296h7M4089 7262h7M4080 7447h7M4039 7243h7M4059 7386h7M4087 7498h7M4054 7327h7M4059 7245h7M4050 7415h7M4075 7432h7M4061 7351h7M4027 7498h7M4082 7501h7M4102 7418h7M4088 7506h7M4078 7438h7M4026 7360h7M4032 7414h7M4080 7306h7M4071 7456h7M4058 7487h7M4067 7369h7M4076 7317h7M4087 7336h7M4066 7458h7M4034 7458h7M4077 7476h7M4059 7431h7M4099 7475h7M4056 7240h7M4069 7318h7M4065 7416h7M4057 7349h7M4074 7406h7M4037 7230h7M4073 7473h7M4061 7426h7M4040 7378h7M4063 7423h7M4083 7351h7M4066 7462h7M4066 7264h7M4047 7473h7M4079 7246h7M4055 7442h7M4094 7449h7M4077 7276h7M4103 7354h7M4060 7299h7M4071 7330h7M4057 7446h7M4089 7315h7M4055 7393h7M4067 7361h7M4054 7414h7M4071 7429h7M4080 7460h7M4078 7381h7M4075 7415h7M4076 7441h7M4062 7406h7M4060 7428h7M4100 7377h7M4085 7399h7M4076 7395h7M4050 7401h7M4057 7392h7M4073 7453h7M4088 7330h7M4070 7349h7M4078 7415h7M4079 7304h7M4069 7249h7M4083 7380h7M4080 7471h7M4079 7398h7M4088 7500h7M4070 7447h7M4055 7367h7M4057 7465h7M4060 7366h7M4056 7351h7M4072 7399h7M4083 7372h7M4093 7386h7M4080 7365h7M4064 7427h7M4041 7413h7M4079 7404h7M4058 7427h7M4078 7470h7M4038 7302h7M4070 7417h7M4074 7436h7M4103 7362h7M4035 7416h7M4069 7289h7M4064 7476h7M4111 7444h7M4070 7319h7M4079 7297h7M4077 7467h7M4066 7196h7M4078 7380h7M4064 7495h7M4061 7374h7M4054 7432h7M4067 7355h7M4095 7356h7M4089 7456h7M4030 7432h7M4091 7448h7M4068 7362h7M4070 7330h7M4094 7348h7M4077 7374h7M4072 7385h7M4093 7453h7M4053 7337h7M4064 7306h7M4047 7364h7M4067 7501h7M4054 7359h7M4079 7333h7M4090 7415h7M4090 7297h7M4075 7325h7M4059 7363h7M4075 7446h7M4077 7363h7M4076 7436h7M4063 7260h7M4067 7329h7M4043 7309h7M4076 7407h7M4056 7351h7M4085 7347h7M4046 7402h7M4083 7430h7M4072 7361h7M4073 7345h7M4089 7366h7M4076 7376h7M4074 7349h7M4057 7282h7M4070 7350h7M4082 7364h7M4069 7371h7M4048 7481h7M4085 7434h7M4075 7409h7M4072 7378h7M4063 7455h7M4098 7335h7M4057 7358h7M4085 7470h7M4073 7355h7M4065 7322h7M4094 7362h7M4073 7361h7M4098 7337h7M4066 7343h7M4054 7365h7M4093 7284h7M4078 7378h7M4053 7391h7M4097 7458h7M4046 7338h7M4067 7376h7M4047 7428h7M4081 7341h7M4075 7380h7M4055 7470h7M4081 7472h7M4075 7376h7M4037 7355h7M4053 7383h7M4086 7434h7M4055 7332h7M4109 7393h7M4081 7394h7M4089 7419h7M4058 7358h7M4073 7413h7M4066 7466h7M4063 7340h7M4061 7390h7M4081 7400h7M4053 7249h7M4062 7397h7M4073 7319h7M4065 7437h7M4078 7331h7M4082 7427h7M4058 7374h7M4056 7296h7M4065 7418h7M4093 7445h7M4094 7457h7M4080 7346h7M4069 7489h7M4074 7377h7M4074 7384h7M4080 7253h7M4119 7386h7M4082 7413h7M4074 7420h7M4060 7409h7M4081 7319h7M4073 7474h7M4065 7292h7M4069 7290h7M4077 7290h7M4065 7439h7M4072 7437h7M4035 7396h7M4057 7425h7M4091 7376h7M4084 7414h7M4042 7339h7M4081 7390h7M4083 7466h7M4068 7398h7M4070 7375h7M4072 7347h7M4073 7304h7M4059 7337h7M4052 7364h7M4064 7391h7M4056 7430h7M4056 7412h7M4069 7368h7M4089 7389h7M4084 7344h7M4072 7488h7M4078 7402h7M4078 7279h7M4093 7433h7M4069 7417h7M4044 7333h7M4084 7329h7M4087 7405h7M4101 7391h7M4067 7377h7M4043 7448h7M4087 7425h7M4082 7376h7M4078 7505h7M4082 7470h7M4076 7272h7M4074 7453h7M4079 7373h7M4087 7365h7M4083 7336h7M4076 7425h7M4062 7446h7M4053 7437h7M4061 7360h7M4038 7342h7M4072 7434h7M4053 7401h7M4059 7448h7M4096 7412h7M3892 7100h7M3714 7441h7M3936 7273h7M3827 7389h7M3784 7145h7M3806 7435h7M3849 7493h7M3826 7299h7M3690 7355h7" stroke-opacity="0.5"/>
<path d="M3939 7259h7M3859 7180h7M3885 7140h7M3878 7198h7M3886 7225h7M3897 7132h7M3858 7442h7M3822 7440h7M3933 7092h7M3909 7234h7M3891 7367h7M3911 7318h7M3880 7207h7M3895 7269h7M3820 7329h7M3857 7396h7M3832 7228h7M3946 7065h7M3895 7222h7M3828 7273h7M3854 7126h7M3862 7385h7M3886 7222h7M3837 7161h7M3860 7224h7M3854 7372h7M3894 7339h7M3929 7110h7M3880 7493h7M3846 7266h7M3937 7243h7M3883 7180h7M3906 7364h7M3971 7317h7M3913 7416h7M3895 7110h7M3882 7219h7M3857 7125h7M3889 7247h7M3868 7243h7M3807 7436h7M3852 7134h7M3905 7312h7M3890 7498h7M3870 7294h7M3840 7078h7M3924 7168h7M3821 7143h7M3922 7165h7M3793 7146h7M3907 7253h7M3926 7152h7M3863 7108h7M3845 7503h7M3941 7192h7M3907 7484h7M3912 7237h7M3899 7092h7M3914 7366h7M3852 7411h7M3918 7315h7M3901 7144h7M3796 7220h7M3918 7251h7M3820 7220h7M3841 7439h7M3798 7141h7M3897 7364h7M3849 7149h7M3879 7486h7M3909 7381h7M3846 7104h7M3947 7373h7M3885 7416h7M3840 7493h7M3853 7188h7M3877 7242h7M3896 7227h7M3922 7335h7M3886 7445h7M3854 7412h7M3879 7400h7M3874 7378h7M3887 7391h7M3784 7165h7M3840 7287h7M3882 7491h7M3823 7372h7M3846 7476h7M3849 7245h7M3852 7293h7M3905 7511h7M3840 7217h7M3848 7449h7M3902 7371h7M3855 7101h7M3886 7089h7M3857 7111h7M3896 7190h7M3809 7398h7M3863 7421h7M3891 7181h7M3840 7445h7M3864 7142h7M3847 7335h7M3785 7478h7M3809 7402h7M3895 7403h7M3875 7150h7M3839 7432h7M3848 7134h7M3858 7476h7M3859 7403h7M3899 7488h7M3858 7355h7M3930 7086h7M3866 7297h7M3879 7299h7M3786 7301h7M3940 7387h7M3896 7209h7M3841 7492h7M3896 7499h7M3775 7448h7M3900 7506h7M3910 7474h7M3958 7462h7M3886 7497h7M4020 7501h7M3831 7497h7M3888 7460h7M3866 7488h7M3942 7507h7M3864 7450h7M3983 7479h7M3887 7490h7M3946 7505h7M4052 7460h7M3778 7478h7M3863 7480h7M3828 7505h7M3804 7489h7M3795 7465h7M3917 7509h7M3935 7437h7M3994 7458h7M3882 7495h7M3793 7483h7M3929 7453h7M3864 7498h7M3900 7492h7M3857 7431h7M3856 7467h7M3948 7481h7M3809 7451h7M3943 7454h7M3950 7474h7M3791 7440h7M3761 7436h7M3905 7491h7M3882 7505h7M3917 7453h7M3907 7435h7M3818 7462h7M3819 7432h7M3920 7503h7M3914 7447h7M3949 7496h7M3896 7510h7M3918 7455h7M3891 7502h7M3935 7466h7M3902 7475h7M3926 7499h7M3930 7445h7M4057 7486h7M3843 7414h7M3936 7508h7M3932 7437h7M3980 7451h7M3888 7483h7M3878 7449h7M4031 7469h7M3931 7447h7M4028 7496h7M3833 7509h7M3845 7469h7M3922 7501h7M3975 7477h7M3796 7493h7M3920 7479h7M4016 7482h7M3894 7506h7M3996 7485h7M3868 7446h7M4045 7413h7M4081 7327h7M4088 7315h7M4080 7393h7M4036 7381h7M4061 7356h7M4036 7291h7M4090 7329h7M4100 7349h7M4063 7232h7M4056 7475h7M4045 7247h7M4083 7285h7M4091 7316h7M4068 7431h7M4102 7325h7M4044 7496h7M4102 7494h7M4090 7411h7M4076 7446h7M4072 7448h7M4068 7236h7M4078 7487h7M4065 7482h7M4056 7418h7M4058 7365h7M4079 7414h7M4093 7298h7M4061 7468h7M4086 7304h7M4049 7246h7M4071 7508h7M4098 7253h7M4071 7403h7M4077 7250h7M4042 7219h7M4050 7301h7M4056 7262h7M4075 7353h7M4046 7471h7M4053 7491h7M4033 7406h7M4054 7423h7M4048 7468h7M4081 7396h7M4079 7377h7M4076 7482h7M4071 7277h7M4081 7401h7M4084 7409h7M4079 7349h7M4071 7442h7M4081 7389h7M4054 7394h7M4075 7500h7M4077 7383h7M4070 7407h7M4089 7456h7M4069 7365h7M4046 7431h7M4089 7391h7M4084 7434h7M4080 7388h7M4083 7222h7M4051 7420h7M4074 7465h7M4088 7336h7M4081 7405h7M4065 7433h7M4053 7363h7M4034 7360h7M4076 7392h7M4054 7357h7M4076 7410h7M4065 7361h7M4054 7428h7M4098 7412h7M4085 7361h7M4078 7373h7M4063 7365h7M4093 7398h7M4069 7326h7M4071 7295h7M4052 7326h7M4093 7470h7M4046 7426h7M4064 7423h7M4043 7448h7M4040 7382h7M4087 7427h7M4046 7464h7M4086 7376h7M4093 7454h7M4074 7388h7M4064 7468h7M4069 7327h7M4060 7337h7M4066 7336h7M4079 7391h7M4046 7298h7M4069 7387h7M4047 7347h7M4051 7465h7M4092 7427h7M4064 7400h7M4068 7316h7M4068 7381h7M4069 7351h7M4074 7459h7M4078 7375h7M4083 7339h7M4043 7328h7M4086 7400h7M4061 7430h7M4067 7256h7M4046 7409h7M4087 7384h7M4091 7304h7M4080 7400h7M4069 7479h7M4083 7378h7M4070 7459h7M4078 7455h7M4046 7352h7M4078 7435h7M4047 7373h7M4072 7489h7M4043 7434h7M4057 7484h7M4070 7359h7M4079 7393h7M4059 7374h7M4049 7394h7M4046 7369h7M4074 7410h7M4058 7417h7M4090 7416h7M4069 7422h7M4035 7377h7M4065 7287h7M4075 7283h7M4088 7385h7M4069 7286h7M4095 7311h7M4085 7429h7M4062 7406h7M4080 7389h7M4049 7328h7M4075 7407h7M4085 7369h7M4057 7442h7M3763 7121h7M3808 7319h7M3957 7300h7M3706 7383h7M3842 7381h7M4115 7374h7" stroke-opacity="0.75"/>
</g>
<rect x="359.6" y="704.7" width="56.6" height="47.1" fill="none" stroke="#9c9c9c" stroke-width="1"/>
<line x1="359.6" y1="718" x2="416.2" y2="718" stroke="#686868" stroke-width="0.8"/>
<line x1="401.7" y1="704.7" x2="401.7" y2="751.8" stroke="#686868" stroke-width="0.8"/>
<text font-size="10.4" font-weight="bold" transform="translate(365 716.3) scale(0.9960 1)">8.7</text>
<text font-size="10.4" font-weight="bold" transform="translate(365 747) scale(0.9881 1)">55.0</text>
<clipPath id="cp7"><rect x="422.5" y="704.7" width="56.3" height="47.1"/></clipPath>
<g clip-path="url(#cp7)"><g filter="url(#cloud)">
<ellipse cx="446" cy="734" rx="5" ry="18" fill="#000" fill-opacity="0.55"/>
<ellipse cx="449" cy="751" rx="9" ry="3.5" fill="#000" fill-opacity="0.4"/>
<ellipse cx="469.4" cy="741" rx="1.3" ry="7" fill="#000" fill-opacity="0.3"/>
</g></g>
<g filter="url(#soft)" stroke="#000" stroke-width="7.5" fill="none" transform="scale(0.1)">
<path d="M4471 7267h7M4538 7379h7M4446 7487h7M4527 7129h7M4496 7496h7M4435 7116h7M4482 7169h7M4447 7280h7M4396 7235h7M4507 7124h7M4453 7133h7M4420 7129h7M4416 7167h7M4426 7444h7M4519 7326h7M4440 7361h7M4442 7411h7M4520 7254h7M4492 7075h7M4473 7083h7M4473 7487h7M4430 7285h7M4495 7479h7M4446 7229h7M4444 7197h7M4479 7308h7M4445 7503h7M4432 7458h7M4465 7505h7M4420 7332h7M4465 7187h7M4463 7132h7M4570 7151h7M4441 7080h7M4399 7344h7M4507 7321h7M4464 7396h7M4448 7386h7M4575 7088h7M4537 7496h7M4455 7279h7M4459 7229h7M4469 7400h7M4510 7089h7M4423 7247h7M4449 7372h7M4475 7196h7M4452 7230h7M4512 7217h7M4483 7219h7M4477 7302h7M4470 7161h7M4532 7307h7M4556 7187h7M4488 7129h7M4498 7402h7M4422 7368h7M4490 7504h7M4498 7146h7M4428 7125h7M4399 7310h7M4439 7163h7M4455 7354h7M4484 7481h7M4370 7511h7M4521 7145h7M4452 7391h7M4507 7481h7M4497 7196h7M4472 7246h7M4439 7358h7M4466 7419h7M4524 7306h7M4541 7506h7M4361 7211h7M4450 7385h7M4452 7311h7M4544 7248h7M4495 7220h7M4516 7233h7M4482 7364h7M4395 7210h7M4463 7139h7M4457 7114h7M4522 7483h7M4470 7419h7M4509 7096h7M4495 7394h7M4450 7181h7M4488 7082h7M4522 7310h7M4423 7455h7M4441 7243h7M4549 7145h7M4495 7485h7M4466 7411h7M4477 7448h7M4561 7193h7M4457 7394h7M4523 7076h7M4389 7413h7M4455 7192h7M4463 7129h7M4367 7163h7M4429 7469h7M4484 7108h7M4442 7405h7M4442 7454h7M4472 7283h7M4470 7258h7M4510 7389h7M4508 7382h7M4390 7323h7M4365 7300h7M4515 7305h7M4511 7177h7M4427 7273h7M4489 7330h7M4520 7337h7M4559 7225h7M4492 7255h7M4425 7204h7M4486 7495h7M4443 7391h7M4480 7149h7M4479 7153h7M4445 7092h7M4468 7260h7M4495 7361h7M4485 7452h7M4470 7251h7M4505 7258h7M4466 7305h7M4442 7208h7M4429 7331h7M4488 7109h7M4445 7366h7M4462 7455h7M4390 7232h7M4567 7146h7M4460 7462h7M4499 7476h7M4485 7245h7M4505 7202h7M4503 7357h7M4425 7208h7M4429 7214h7M4438 7288h7M4425 7273h7M4443 7144h7M4390 7225h7M4530 7148h7M4550 7187h7M4388 7198h7M4399 7456h7M4438 7425h7M4390 7397h7M4523 7159h7M4518 7065h7M4460 7164h7M4469 7492h7M4430 7353h7M4379 7067h7M4490 7390h7M4397 7395h7M4390 7456h7M4526 7458h7M4460 7462h7M4497 7122h7M4500 7265h7M4482 7340h7M4420 7106h7M4428 7278h7M4447 7114h7M4432 7461h7M4455 7149h7M4426 7225h7M4459 7451h7M4490 7234h7M4447 7166h7M4448 7077h7M4464 7126h7M4549 7220h7M4415 7142h7M4469 7117h7M4538 7378h7M4470 7121h7M4498 7456h7M4444 7361h7M4406 7193h7M4476 7379h7M4453 7137h7M4550 7183h7M4486 7237h7M4474 7352h7M4468 7402h7M4480 7298h7M4453 7391h7M4448 7093h7M4481 7100h7M4462 7416h7M4497 7083h7M4497 7488h7M4489 7342h7M4463 7156h7M4441 7380h7M4513 7222h7M4473 7238h7M4522 7327h7M4521 7500h7M4499 7429h7M4520 7200h7M4469 7188h7M4464 7314h7M4461 7322h7M4455 7221h7M4420 7424h7M4547 7383h7M4404 7496h7M4497 7378h7M4434 7484h7M4398 7204h7M4482 7253h7M4542 7212h7M4407 7156h7M4552 7426h7M4484 7148h7M4508 7167h7M4336 7382h7M4441 7317h7M4544 7219h7M4508 7495h7M4655 7503h7M4458 7223h7M4455 7177h7M4465 7403h7M4439 7434h7M4436 7285h7M4408 7297h7M4443 7506h7M4488 7144h7M4520 7495h7M4488 7478h7M4525 7158h7M4531 7436h7M4440 7251h7M4459 7445h7M4481 7327h7M4486 7492h7M4490 7306h7M4402 7429h7M4513 7389h7M4407 7332h7M4536 7304h7M4473 7505h7M4476 7313h7M4429 7254h7M4488 7125h7M4453 7270h7M4451 7347h7M4488 7438h7M4401 7273h7M4401 7433h7M4431 7268h7M4507 7442h7M4360 7168h7M4440 7096h7M4484 7176h7M4473 7312h7M4463 7302h7M4386 7127h7M4480 7508h7M4417 7504h7M4429 7484h7M4461 7489h7M4390 7208h7M4485 7227h7M4524 7235h7M4476 7131h7M4477 7227h7M4547 7311h7M4470 7119h7M4528 7242h7M4493 7369h7M4511 7307h7M4526 7211h7M4503 7219h7M4461 7388h7M4354 7456h7M4504 7438h7M4462 7324h7M4489 7379h7M4434 7178h7M4510 7385h7M4463 7386h7M4410 7149h7M4502 7421h7M4454 7399h7M4497 7231h7M4506 7446h7M4489 7469h7M4519 7461h7M4496 7306h7M4478 7254h7M4519 7357h7M4493 7079h7M4448 7449h7M4470 7335h7M4457 7351h7M4488 7449h7M4413 7339h7M4452 7382h7M4457 7071h7M4512 7212h7M4437 7296h7M4424 7284h7M4546 7469h7M4526 7506h7M4456 7473h7M4422 7201h7M4427 7217h7M4421 7457h7M4462 7209h7M4528 7249h7M4496 7500h7M4525 7400h7M4489 7450h7M4506 7509h7M4444 7348h7M4504 7118h7M4568 7243h7M4464 7097h7M4470 7202h7M4487 7200h7M4540 7273h7M4417 7214h7M4506 7308h7M4420 7185h7M4525 7192h7M4405 7507h7M4523 7416h7M4448 7312h7M4501 7448h7M4408 7100h7M4555 7477h7M4545 7421h7M4506 7449h7M4466 7451h7M4558 7462h7M4544 7454h7M4295 7485h7M4536 7451h7M4420 7460h7M4642 7462h7M4469 7505h7M4497 7476h7M4472 7475h7M4547 7491h7M4433 7504h7M4369 7486h7M4464 7481h7M4497 7511h7M4451 7480h7M4504 7463h7M4676 7492h7M4465 7495h7M4510 7452h7M4531 7498h7M4499 7490h7M4448 7473h7M4602 7498h7M4493 7455h7M4697 7488h7M4561 7482h7M4577 7504h7M4504 7482h7M4492 7490h7M4518 7491h7M4499 7464h7M4620 7500h7M4525 7469h7M4551 7468h7M4508 7468h7M4505 7501h7M4512 7476h7M4484 7450h7M4491 7482h7M4540 7468h7M4398 7489h7M4309 7451h7M4392 7497h7M4451 7364h7M4533 7469h7M4443 7450h7M4456 7476h7M4407 7424h7M4607 7475h7M4523 7479h7M4552 7491h7M4435 7449h7M4397 7437h7M4664 7472h7M4493 7442h7M4504 7456h7M4436 7501h7M4377 7451h7M4566 7494h7M4383 7473h7M4482 7458h7M4524 7489h7M4561 7448h7M4540 7504h7M4458 7497h7M4581 7501h7M4362 7432h7M4440 7464h7M4525 7488h7M4685 7424h7M4696 7411h7M4696 7398h7M4713 7425h7M4686 7311h7M4690 7328h7M4708 7483h7M4709 7334h7M4711 7443h7M4676 7451h7M4701 7248h7M4714 7377h7M4678 7432h7M4688 7281h7M4679 7444h7M4706 7445h7M4723 7321h7M4686 7382h7M4674 7246h7M4708 7418h7M4680 7297h7M4706 7345h7M4693 7309h7M4704 7460h7M4678 7447h7M4687 7456h7M4672 7319h7M4672 7443h7M4712 7244h7M4671 7315h7M4698 7376h7M4721 7362h7M4703 7501h7M4699 7383h7M4687 7354h7M4703 7389h7M4707 7397h7M4683 7467h7M4680 7369h7M4715 7381h7M4665 7465h7M4698 7321h7M4702 7371h7M4657 7384h7M4681 7429h7M4694 7419h7M4704 7407h7M4707 7408h7M4697 7393h7M4693 7378h7M4664 7388h7M4679 7403h7M4692 7391h7M4692 7455h7M4699 7455h7M4677 7443h7M4693 7295h7M4600 7073h7M4740 7277h7M4593 7188h7M4371 7498h7M4486 7379h7" stroke-opacity="0.3"/>
<path d="M4544 7297h7M4488 7255h7M4395 7490h7M4456 7362h7M4459 7277h7M4485 7226h7M4438 7273h7M4507 7348h7M4453 7355h7M4429 7085h7M4450 7478h7M4439 7346h7M4501 7325h7M4504 7427h7M4450 7422h7M4469 7449h7M4478 7258h7M4552 7118h7M4484 7225h7M4464 7415h7M4402 7314h7M4476 7502h7M4490 7183h7M4439 7505h7M4479 7100h7M4537 7433h7M4533 7276h7M4503 7385h7M4495 7127h7M4451 7464h7M4370 7241h7M4468 7312h7M4439 7175h7M4530 7485h7M4482 7170h7M4516 7304h7M4489 7415h7M4481 7128h7M4480 7315h7M4448 7342h7M4473 7468h7M4444 7358h7M4467 7211h7M4483 7209h7M4520 7357h7M4446 7093h7M4477 7124h7M4418 7226h7M4418 7095h7M4471 7504h7M4443 7372h7M4455 7510h7M4408 7282h7M4483 7347h7M4517 7460h7M4493 7133h7M4507 7303h7M4519 7076h7M4479 7352h7M4395 7422h7M4485 7136h7M4458 7358h7M4397 7317h7M4522 7354h7M4475 7305h7M4467 7429h7M4490 7159h7M4512 7478h7M4404 7424h7M4493 7195h7M4505 7203h7M4484 7240h7M4456 7214h7M4450 7358h7M4484 7100h7M4474 7370h7M4529 7220h7M4428 7234h7M4479 7283h7M4480 7470h7M4424 7434h7M4421 7438h7M4478 7416h7M4456 7349h7M4474 7473h7M4477 7479h7M4434 7165h7M4451 7077h7M4470 7394h7M4394 7183h7M4458 7174h7M4456 7457h7M4518 7410h7M4453 7310h7M4431 7371h7M4451 7463h7M4519 7369h7M4506 7168h7M4547 7129h7M4493 7120h7M4461 7119h7M4556 7109h7M4519 7301h7M4474 7181h7M4476 7510h7M4513 7107h7M4457 7341h7M4472 7251h7M4462 7415h7M4473 7438h7M4468 7393h7M4432 7392h7M4397 7318h7M4488 7318h7M4425 7410h7M4482 7097h7M4461 7096h7M4531 7101h7M4501 7156h7M4417 7274h7M4468 7073h7M4485 7139h7M4498 7086h7M4516 7189h7M4486 7482h7M4445 7200h7M4497 7255h7M4405 7224h7M4450 7240h7M4512 7142h7M4434 7164h7M4474 7370h7M4462 7265h7M4378 7488h7M4453 7439h7M4522 7373h7M4533 7181h7M4500 7252h7M4458 7158h7M4461 7340h7M4468 7144h7M4424 7340h7M4467 7336h7M4431 7194h7M4409 7336h7M4448 7099h7M4446 7211h7M4504 7245h7M4467 7258h7M4409 7406h7M4446 7462h7M4449 7366h7M4493 7366h7M4532 7101h7M4440 7201h7M4491 7396h7M4517 7315h7M4468 7164h7M4445 7177h7M4457 7227h7M4474 7226h7M4499 7207h7M4488 7195h7M4454 7368h7M4466 7173h7M4491 7188h7M4408 7474h7M4429 7239h7M4421 7464h7M4421 7201h7M4470 7301h7M4455 7345h7M4441 7352h7M4446 7345h7M4433 7271h7M4461 7477h7M4550 7344h7M4476 7407h7M4430 7290h7M4509 7471h7M4464 7074h7M4443 7280h7M4452 7213h7M4468 7111h7M4440 7381h7M4471 7493h7M4391 7489h7M4513 7440h7M4475 7145h7M4423 7383h7M4446 7341h7M4509 7158h7M4417 7154h7M4393 7139h7M4505 7382h7M4443 7221h7M4454 7427h7M4380 7389h7M4438 7334h7M4480 7141h7M4504 7287h7M4517 7292h7M4593 7168h7M4473 7125h7M4454 7133h7M4475 7092h7M4434 7350h7M4466 7429h7M4543 7288h7M4507 7471h7M4465 7317h7M4423 7247h7M4430 7428h7M4464 7138h7M4444 7382h7M4469 7376h7M4530 7126h7M4520 7191h7M4488 7284h7M4440 7125h7M4440 7471h7M4400 7140h7M4477 7240h7M4508 7506h7M4446 7231h7M4493 7100h7M4493 7511h7M4443 7336h7M4498 7344h7M4435 7171h7M4409 7187h7M4448 7292h7M4406 7465h7M4536 7117h7M4478 7400h7M4402 7278h7M4440 7135h7M4501 7260h7M4471 7299h7M4447 7169h7M4381 7377h7M4575 7189h7M4449 7350h7M4455 7276h7M4472 7279h7M4440 7221h7M4426 7233h7M4491 7193h7M4424 7495h7M4542 7396h7M4476 7089h7M4508 7244h7M4443 7432h7M4468 7446h7M4419 7240h7M4458 7418h7M4430 7504h7M4453 7184h7M4419 7306h7M4484 7109h7M4415 7279h7M4477 7127h7M4442 7400h7M4402 7408h7M4431 7256h7M4389 7207h7M4456 7101h7M4380 7401h7M4457 7249h7M4505 7080h7M4393 7339h7M4517 7417h7M4531 7429h7M4522 7145h7M4503 7108h7M4478 7211h7M4462 7456h7M4523 7361h7M4474 7473h7M4466 7198h7M4435 7355h7M4516 7367h7M4534 7102h7M4409 7227h7M4413 7116h7M4502 7127h7M4531 7190h7M4494 7139h7M4420 7280h7M4472 7438h7M4414 7111h7M4458 7428h7M4554 7141h7M4611 7152h7M4498 7327h7M4502 7451h7M4488 7296h7M4410 7168h7M4506 7383h7M4557 7394h7M4519 7276h7M4468 7183h7M4394 7158h7M4481 7174h7M4481 7128h7M4511 7396h7M4473 7072h7M4482 7499h7M4496 7478h7M4467 7358h7M4450 7400h7M4456 7369h7M4490 7120h7M4412 7406h7M4480 7241h7M4499 7502h7M4475 7147h7M4480 7456h7M4496 7512h7M4442 7323h7M4367 7295h7M4462 7423h7M4352 7399h7M4472 7242h7M4454 7227h7M4546 7170h7M4476 7472h7M4442 7440h7M4502 7361h7M4416 7111h7M4499 7125h7M4551 7137h7M4526 7246h7M4486 7301h7M4541 7297h7M4469 7372h7M4516 7507h7M4417 7106h7M4485 7494h7M4491 7167h7M4530 7438h7M4475 7360h7M4490 7346h7M4434 7489h7M4398 7281h7M4504 7293h7M4474 7496h7M4517 7310h7M4413 7088h7M4425 7501h7M4466 7349h7M4421 7511h7M4392 7081h7M4444 7221h7M4506 7438h7M4525 7266h7M4506 7228h7M4414 7231h7M4481 7136h7M4469 7407h7M4476 7150h7M4502 7280h7M4479 7431h7M4454 7183h7M4438 7478h7M4518 7285h7M4481 7302h7M4491 7276h7M4516 7221h7M4475 7445h7M4430 7148h7M4454 7415h7M4467 7357h7M4447 7412h7M4479 7410h7M4497 7391h7M4475 7467h7M4480 7444h7M4461 7280h7M4417 7469h7M4478 7378h7M4432 7210h7M4498 7224h7M4400 7309h7M4452 7068h7M4484 7453h7M4469 7290h7M4447 7307h7M4467 7225h7M4536 7483h7M4379 7447h7M4448 7351h7M4450 7430h7M4406 7109h7M4549 7381h7M4469 7383h7M4495 7489h7M4506 7188h7M4524 7329h7M4486 7415h7M4456 7368h7M4562 7225h7M4443 7192h7M4447 7355h7M4472 7477h7M4490 7078h7M4435 7107h7M4475 7089h7M4500 7255h7M4459 7245h7M4413 7474h7M4462 7351h7M4485 7461h7M4434 7326h7M4459 7121h7M4477 7362h7M4529 7487h7M4447 7391h7M4472 7121h7M4428 7287h7M4504 7167h7M4508 7306h7M4443 7413h7M4465 7438h7M4420 7253h7M4486 7227h7M4520 7506h7M4472 7299h7M4455 7105h7M4548 7231h7M4508 7467h7M4443 7086h7M4478 7097h7M4479 7505h7M4494 7261h7M4338 7207h7M4448 7128h7M4423 7221h7M4468 7459h7M4478 7323h7M4506 7368h7M4513 7132h7M4491 7146h7M4485 7272h7M4440 7068h7M4400 7421h7M4533 7470h7M4473 7304h7M4447 7503h7M4467 7313h7M4474 7464h7M4441 7113h7M4486 7254h7M4421 7219h7M4466 7494h7M4375 7195h7M4367 7167h7M4453 7196h7M4498 7352h7M4500 7420h7M4449 7143h7M4431 7477h7M4508 7093h7M4421 7202h7M4409 7333h7M4467 7235h7M4462 7498h7M4397 7198h7M4579 7382h7M4418 7464h7M4449 7352h7M4464 7164h7M4452 7327h7M4395 7225h7M4424 7313h7M4535 7423h7M4445 7230h7M4404 7338h7M4448 7387h7M4506 7182h7M4471 7272h7M4462 7241h7M4502 7083h7M4494 7290h7M4468 7431h7M4477 7092h7M4465 7357h7M4506 7078h7M4520 7434h7M4515 7214h7M4435 7359h7M4453 7504h7M4451 7082h7M4435 7249h7M4486 7076h7M4444 7417h7M4524 7469h7M4450 7195h7M4484 7170h7M4455 7157h7M4405 7068h7M4447 7256h7M4513 7333h7M4467 7145h7M4561 7285h7M4476 7355h7M4515 7379h7M4529 7387h7M4479 7246h7M4452 7264h7M4547 7384h7M4469 7069h7M4467 7310h7M4489 7100h7M4535 7211h7M4470 7300h7M4465 7329h7M4472 7206h7M4461 7453h7M4406 7247h7M4474 7482h7M4508 7174h7M4440 7154h7M4518 7390h7M4501 7370h7M4453 7179h7M4429 7320h7M4488 7145h7M4453 7208h7M4525 7446h7M4489 7309h7M4485 7110h7M4524 7333h7M4485 7081h7M4473 7222h7M4444 7415h7M4439 7405h7M4459 7091h7M4457 7444h7M4417 7490h7M4450 7266h7M4534 7338h7M4442 7419h7M4475 7361h7M4463 7500h7M4508 7310h7M4515 7405h7M4419 7096h7M4486 7127h7M4536 7203h7M4384 7270h7M4475 7306h7M4471 7399h7M4480 7175h7M4437 7132h7M4443 7441h7M4427 7440h7M4507 7119h7M4471 7173h7M4545 7508h7M4497 7244h7M4409 7490h7M4437 7340h7M4504 7286h7M4482 7413h7M4492 7356h7M4568 7268h7M4528 7243h7M4544 7181h7M4511 7452h7M4391 7264h7M4495 7381h7M4473 7330h7M4491 7423h7M4448 7339h7M4477 7231h7M4467 7268h7M4517 7098h7M4458 7167h7M4484 7171h7M4433 7389h7M4424 7404h7M4521 7178h7M4494 7144h7M4442 7472h7M4466 7276h7M4501 7456h7M4446 7283h7M4490 7395h7M4513 7427h7M4488 7224h7M4522 7227h7M4491 7371h7M4480 7166h7M4411 7508h7M4410 7231h7M4455 7197h7M4389 7157h7M4469 7169h7M4482 7323h7M4490 7275h7M4506 7447h7M4466 7309h7M4508 7244h7M4454 7264h7M4427 7416h7M4462 7227h7M4550 7332h7M4465 7367h7M4551 7388h7M4469 7260h7M4369 7136h7M4458 7300h7M4429 7262h7M4489 7357h7M4449 7119h7M4491 7488h7M4489 7427h7M4437 7511h7M4504 7163h7M4471 7471h7M4466 7202h7M4523 7402h7M4462 7352h7M4474 7405h7M4462 7094h7M4487 7289h7M4523 7454h7M4448 7466h7M4490 7352h7M4444 7327h7M4518 7146h7M4512 7415h7M4460 7268h7M4589 7120h7M4470 7198h7M4455 7378h7M4413 7269h7M4472 7321h7M4507 7370h7M4412 7459h7M4485 7484h7M4335 7433h7M4510 7234h7M4476 7300h7M4395 7248h7M4472 7307h7M4446 7126h7M4544 7168h7M4452 7165h7M4492 7330h7M4478 7202h7M4427 7206h7M4546 7401h7M4444 7321h7M4497 7210h7M4459 7454h7M4428 7426h7M4479 7462h7M4476 7479h7M4417 7511h7M4478 7508h7M4612 7475h7M4691 7469h7M4458 7425h7M4500 7460h7M4410 7462h7M4583 7483h7M4472 7450h7M4392 7464h7M4465 7505h7M4575 7491h7M4592 7511h7M4396 7468h7M4459 7496h7M4560 7453h7M4531 7494h7M4571 7463h7M4579 7459h7M4491 7436h7M4435 7487h7M4520 7464h7M4418 7465h7M4584 7486h7M4465 7468h7M4514 7450h7M4440 7432h7M4526 7485h7M4497 7511h7M4612 7498h7M4514 7509h7M4570 7510h7M4479 7446h7M4425 7507h7M4529 7469h7M4329 7409h7M4548 7469h7M4432 7450h7M4592 7429h7M4405 7427h7M4482 7473h7M4550 7502h7M4615 7409h7M4494 7506h7M4462 7497h7M4483 7481h7M4590 7503h7M4367 7437h7M4452 7509h7M4521 7472h7M4457 7496h7M4483 7489h7M4572 7497h7M4476 7477h7M4450 7461h7M4356 7462h7M4457 7422h7M4441 7501h7M4511 7395h7M4492 7491h7M4513 7498h7M4538 7512h7M4437 7486h7M4480 7476h7M4434 7456h7M4493 7506h7M4520 7462h7M4545 7500h7M4586 7494h7M4529 7430h7M4554 7482h7M4430 7444h7M4556 7492h7M4456 7446h7M4480 7472h7M4483 7504h7M4460 7438h7M4484 7486h7M4517 7448h7M4466 7471h7M4511 7487h7M4469 7483h7M4532 7485h7M4528 7465h7M4508 7489h7M4445 7477h7M4544 7504h7M4505 7494h7M4434 7500h7M4632 7465h7M4486 7485h7M4558 7494h7M4547 7490h7M4428 7494h7M4488 7471h7M4445 7512h7M4476 7453h7M4524 7475h7M4527 7501h7M4514 7485h7M4550 7503h7M4484 7494h7M4484 7477h7M4426 7508h7M4615 7508h7M4470 7484h7M4345 7496h7M4422 7439h7M4413 7482h7M4609 7448h7M4517 7486h7M4326 7465h7M4486 7480h7M4380 7468h7M4402 7468h7M4479 7501h7M4429 7470h7M4615 7485h7M4419 7396h7M4586 7504h7M4482 7438h7M4435 7478h7M4427 7508h7M4585 7489h7M4349 7431h7M4427 7496h7M4343 7440h7M4532 7495h7M4452 7482h7M4446 7508h7M4528 7487h7M4540 7494h7M4672 7482h7M4684 7294h7M4686 7384h7M4680 7510h7M4678 7466h7M4702 7415h7M4692 7331h7M4669 7334h7M4680 7485h7M4692 7507h7M4702 7456h7M4690 7454h7M4675 7399h7M4718 7462h7M4676 7414h7M4686 7333h7M4690 7346h7M4712 7408h7M4682 7330h7M4671 7311h7M4704 7347h7M4715 7449h7M4680 7387h7M4687 7464h7M4720 7264h7M4705 7391h7M4699 7436h7M4699 7411h7M4720 7329h7M4712 7355h7M4718 7503h7M4673 7362h7M4690 7308h7M4690 7248h7M4690 7395h7M4702 7505h7M4720 7324h7M4703 7325h7M4681 7350h7M4693 7504h7M4716 7485h7M4706 7321h7M4701 7293h7M4672 7466h7M4699 7451h7M4697 7239h7M4705 7348h7M4700 7471h7M4704 7408h7M4691 7344h7M4652 7429h7M4707 7494h7M4681 7463h7M4684 7431h7M4713 7351h7M4673 7387h7M4681 7318h7M4673 7336h7M4657 7343h7M4685 7272h7M4711 7304h7M4696 7347h7M4695 7252h7M4681 7352h7M4705 7366h7M4686 7385h7M4697 7421h7M4695 7449h7M4678 7389h7M4708 7455h7M4695 7460h7M4709 7442h7M4717 7380h7M4708 7474h7M4679 7399h7M4678 7410h7M4689 7395h7M4685 7408h7M4690 7342h7M4688 7414h7M4688 7379h7M4710 7403h7M4706 7341h7M4703 7431h7M4695 7429h7M4704 7368h7M4705 7356h7M4679 7413h7M4689 7339h7M4683 7463h7M4688 7282h7M4692 7413h7M4681 7425h7M4690 7402h7M4691 7445h7M4697 7437h7M4699 7423h7M4696 7482h7M4706 7509h7M4670 7332h7M4694 7445h7M4707 7472h7M4679 7401h7M4696 7409h7M4692 7330h7M4692 7359h7M4686 7390h7M4679 7388h7M4684 7367h7M4691 7445h7M4665 7403h7M4694 7395h7M4706 7508h7M4684 7352h7M4692 7419h7M4677 7351h7M4697 7461h7M4700 7392h7M4701 7376h7M4688 7288h7M4720 7391h7M4685 7347h7M4681 7405h7M4694 7394h7M4689 7442h7M4665 7475h7M4678 7478h7M4700 7391h7M4703 7446h7M4699 7325h7M4683 7354h7M4684 7491h7M4689 7341h7M4702 7392h7M4675 7389h7M4715 7418h7M4697 7348h7M4690 7408h7M4690 7404h7M4699 7447h7M4689 7454h7M4675 7359h7M4670 7452h7M4676 7433h7M4698 7371h7M4697 7408h7M4709 7439h7M4690 7474h7M4701 7368h7M4690 7417h7M4693 7441h7M4686 7456h7M4720 7394h7M4683 7424h7M4691 7472h7M4699 7407h7M4693 7456h7M4689 7363h7M4708 7438h7M4697 7388h7M4695 7285h7M4322 7180h7M4719 7158h7M4491 7393h7M4417 7387h7M4547 7155h7M4525 7137h7M4547 7430h7" stroke-opacity="0.5"/>
<path d="M4465 7443h7M4523 7122h7M4479 7295h7M4441 7227h7M4438 7354h7M4517 7387h7M4390 7150h7M4503 7212h7M4508 7165h7M4444 7387h7M4493 7118h7M4413 7371h7M4482 7213h7M4519 7188h7M4503 7148h7M4463 7490h7M4446 7375h7M4436 7321h7M4482 7241h7M4498 7370h7M4450 7245h7M4525 7409h7M4474 7332h7M4492 7227h7M4458 7330h7M4447 7458h7M4373 7240h7M4490 7184h7M4479 7427h7M4504 7090h7M4437 7176h7M4426 7434h7M4447 7510h7M4530 7399h7M4464 7461h7M4457 7511h7M4502 7399h7M4459 7474h7M4455 7295h7M4442 7130h7M4477 7279h7M4451 7108h7M4477 7382h7M4504 7208h7M4462 7097h7M4473 7434h7M4459 7177h7M4394 7195h7M4481 7420h7M4471 7495h7M4505 7193h7M4473 7131h7M4512 7484h7M4529 7183h7M4476 7335h7M4485 7417h7M4458 7428h7M4458 7231h7M4439 7084h7M4446 7490h7M4535 7339h7M4437 7370h7M4483 7348h7M4550 7381h7M4501 7341h7M4407 7265h7M4507 7210h7M4419 7365h7M4436 7387h7M4515 7481h7M4476 7352h7M4502 7328h7M4408 7067h7M4466 7388h7M4545 7469h7M4488 7296h7M4491 7418h7M4448 7367h7M4452 7453h7M4476 7464h7M4471 7192h7M4418 7284h7M4507 7507h7M4536 7286h7M4516 7153h7M4528 7102h7M4404 7152h7M4453 7317h7M4466 7178h7M4500 7321h7M4492 7345h7M4346 7092h7M4445 7265h7M4449 7228h7M4470 7343h7M4430 7128h7M4452 7396h7M4508 7261h7M4398 7207h7M4512 7178h7M4517 7276h7M4506 7114h7M4430 7385h7M4414 7418h7M4434 7436h7M4472 7207h7M4566 7163h7M4546 7367h7M4496 7083h7M4429 7156h7M4439 7484h7M4467 7271h7M4529 7445h7M4512 7477h7M4547 7294h7M4431 7365h7M4512 7121h7M4538 7304h7M4485 7308h7M4477 7358h7M4473 7400h7M4441 7315h7M4543 7198h7M4563 7376h7M4399 7270h7M4488 7145h7M4443 7451h7M4460 7445h7M4443 7316h7M4498 7333h7M4518 7351h7M4487 7098h7M4457 7351h7M4452 7082h7M4515 7241h7M4488 7234h7M4424 7438h7M4486 7234h7M4466 7352h7M4473 7462h7M4425 7202h7M4496 7255h7M4464 7181h7M4482 7419h7M4428 7334h7M4517 7306h7M4521 7100h7M4457 7237h7M4489 7302h7M4464 7509h7M4462 7250h7M4454 7206h7M4518 7223h7M4408 7363h7M4484 7089h7M4484 7303h7M4510 7428h7M4494 7381h7M4505 7467h7M4443 7325h7M4490 7397h7M4467 7410h7M4410 7353h7M4531 7438h7M4479 7369h7M4449 7221h7M4531 7486h7M4468 7392h7M4445 7489h7M4462 7077h7M4414 7354h7M4447 7354h7M4446 7423h7M4425 7475h7M4440 7077h7M4461 7115h7M4474 7508h7M4463 7491h7M4514 7442h7M4467 7421h7M4489 7259h7M4418 7138h7M4450 7302h7M4484 7208h7M4447 7271h7M4454 7484h7M4487 7090h7M4508 7309h7M4471 7140h7M4469 7232h7M4453 7307h7M4457 7422h7M4472 7353h7M4428 7141h7M4397 7387h7M4421 7398h7M4403 7123h7M4431 7333h7M4375 7444h7M4446 7408h7M4432 7365h7M4466 7330h7M4422 7224h7M4477 7419h7M4492 7255h7M4438 7363h7M4487 7248h7M4519 7363h7M4450 7290h7M4514 7472h7M4502 7376h7M4418 7479h7M4491 7338h7M4404 7375h7M4509 7224h7M4484 7101h7M4432 7310h7M4487 7387h7M4466 7490h7M4469 7483h7M4405 7322h7M4406 7383h7M4542 7292h7M4562 7471h7M4444 7508h7M4468 7133h7M4458 7092h7M4447 7218h7M4473 7365h7M4482 7206h7M4513 7408h7M4468 7197h7M4449 7125h7M4538 7085h7M4471 7262h7M4434 7093h7M4492 7296h7M4477 7511h7M4448 7495h7M4487 7231h7M4500 7431h7M4464 7457h7M4465 7304h7M4467 7307h7M4458 7508h7M4447 7127h7M4511 7506h7M4523 7448h7M4514 7280h7M4503 7397h7M4490 7407h7M4454 7404h7M4459 7080h7M4445 7094h7M4434 7079h7M4486 7510h7M4422 7149h7M4410 7462h7M4454 7150h7M4491 7441h7M4507 7199h7M4447 7356h7M4493 7507h7M4492 7254h7M4447 7293h7M4475 7440h7M4468 7436h7M4535 7325h7M4576 7190h7M4487 7486h7M4490 7203h7M4424 7256h7M4482 7098h7M4469 7083h7M4458 7505h7M4471 7169h7M4526 7341h7M4418 7140h7M4374 7413h7M4403 7432h7M4421 7465h7M4421 7283h7M4485 7363h7M4432 7381h7M4513 7502h7M4442 7363h7M4438 7235h7M4477 7164h7M4451 7310h7M4448 7421h7M4484 7296h7M4473 7345h7M4441 7270h7M4417 7478h7M4603 7399h7M4504 7207h7M4515 7097h7M4479 7352h7M4433 7215h7M4568 7279h7M4435 7470h7M4447 7479h7M4494 7342h7M4469 7403h7M4500 7443h7M4448 7475h7M4420 7507h7M4428 7375h7M4539 7467h7M4325 7508h7M4368 7481h7M4583 7458h7M4598 7507h7M4491 7457h7M4475 7448h7M4595 7484h7M4491 7495h7M4444 7475h7M4447 7450h7M4502 7460h7M4542 7450h7M4501 7498h7M4334 7477h7M4522 7480h7M4674 7484h7M4409 7500h7M4499 7498h7M4509 7505h7M4511 7500h7M4451 7436h7M4470 7494h7M4480 7463h7M4583 7445h7M4548 7495h7M4540 7487h7M4432 7451h7M4664 7463h7M4514 7478h7M4507 7493h7M4433 7447h7M4312 7420h7M4376 7461h7M4385 7470h7M4475 7480h7M4563 7491h7M4524 7462h7M4442 7509h7M4637 7493h7M4503 7452h7M4451 7497h7M4499 7454h7M4551 7489h7M4347 7479h7M4506 7475h7M4544 7462h7M4481 7454h7M4556 7477h7M4383 7453h7M4400 7462h7M4451 7490h7M4600 7491h7M4465 7501h7M4436 7495h7M4557 7460h7M4575 7467h7M4511 7458h7M4487 7500h7M4484 7483h7M4699 7496h7M4668 7427h7M4671 7434h7M4709 7503h7M4698 7348h7M4704 7436h7M4687 7491h7M4668 7343h7M4679 7483h7M4698 7473h7M4652 7431h7M4720 7498h7M4696 7414h7M4695 7446h7M4682 7386h7M4708 7430h7M4687 7339h7M4692 7268h7M4711 7361h7M4693 7461h7M4696 7452h7M4693 7404h7M4694 7316h7M4675 7456h7M4670 7419h7M4689 7407h7M4691 7387h7M4680 7303h7M4690 7443h7M4701 7385h7M4694 7410h7M4700 7463h7M4704 7424h7M4706 7406h7M4697 7505h7M4692 7441h7M4701 7415h7M4695 7367h7M4680 7371h7M4712 7418h7M4683 7428h7M4690 7439h7M4697 7397h7M4701 7418h7M4711 7437h7M4718 7486h7M4713 7370h7M4693 7420h7M4706 7363h7M4696 7502h7M4683 7435h7M4664 7352h7M4688 7463h7M4691 7418h7M4707 7354h7M4682 7412h7M4722 7456h7M4717 7394h7M4684 7421h7M4702 7491h7M4701 7456h7M4667 7463h7M4351 7189h7M4638 7324h7M4306 7341h7M4506 7176h7M4692 7390h7M4446 7354h7M4452 7431h7M4402 7457h7M4299 7183h7" stroke-opacity="0.75"/>
</g>
<rect x="422.5" y="704.7" width="56.3" height="47.1" fill="none" stroke="#9c9c9c" stroke-width="1"/>
<line x1="422.5" y1="718" x2="478.8" y2="718" stroke="#686868" stroke-width="0.8"/>
<line x1="463.8" y1="704.7" x2="463.8" y2="751.8" stroke="#686868" stroke-width="0.8"/>
<text font-size="10.4" font-weight="bold" transform="translate(428 716.3) scale(0.9960 1)">7.9</text>
<text font-size="10.4" font-weight="bold" transform="translate(428 747.5) scale(0.9881 1)">77.9</text>
<text font-size="15" font-weight="bold" transform="translate(499.5 626.5) scale(0.9208 1)">-</text>
<text font-size="10.2" font-weight="bold" transform="translate(483.8 675.8) scale(1.0366 1)">TACI-Ig</text>
<text font-size="10.2" font-weight="bold" transform="translate(490.1 728.8) scale(1.0117 1)">hIgG</text>
<text font-size="10.8" text-anchor="middle" font-weight="bold" transform="translate(308.9 671.8) rotate(-90) scale(0.9370 1)">CD138</text>
<polygon points="304.3,695.9 300.8,702.4 307.8,702.4" fill="#000"/>
<line x1="304.3" y1="701.2" x2="304.3" y2="706.8" stroke="#000" stroke-width="1.5"/>
<line x1="303.55" y1="706.8" x2="316" y2="706.8" stroke="#000" stroke-width="1.5"/>
<polygon points="322.3,706.8 315,703.5 315,710.1" fill="#000"/>
<text font-size="10.2" font-weight="bold" transform="translate(327.5 712.5) scale(0.9925 1)">CFSE</text>
</g>
</svg>
</body>
</html>
